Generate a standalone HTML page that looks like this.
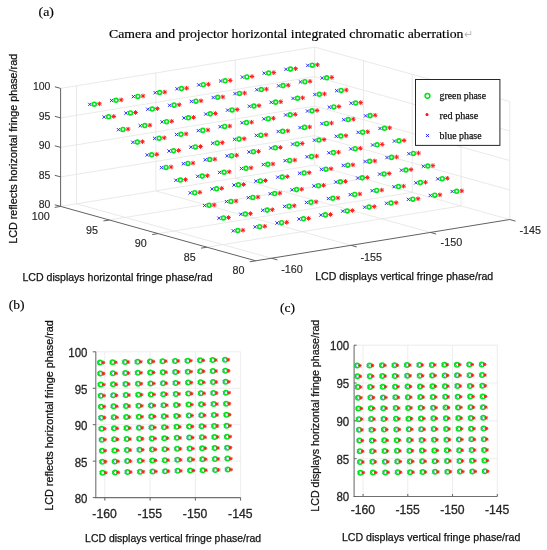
<!DOCTYPE html>
<html><head><meta charset="utf-8"><title>Chromatic aberration figure</title>
<style>html,body{margin:0;padding:0;background:#fff;}svg{display:block;}</style></head>
<body><svg width="547" height="550" viewBox="0 0 547 550">
<rect width="547" height="550" fill="#fff"/>
<text x="38.60" y="15.60" font-size="13" font-family="'Liberation Serif', 'Times New Roman', serif" fill="#000" textLength="15.40" lengthAdjust="spacingAndGlyphs" stroke="#000" stroke-width="0.15">(a)</text>
<text x="109" y="38.1" font-size="13.4" font-family="'Liberation Serif', 'Times New Roman', serif" fill="#000" stroke="#000" stroke-width="0.18" textLength="354.5" lengthAdjust="spacingAndGlyphs">Camera and projector horizontal integrated chromatic aberration</text>
<text x="464.30" y="38.10" font-size="11" font-family="'Liberation Sans', Arial, sans-serif" fill="#bbb">↵</text>
<line x1="271.58" y1="258.22" x2="76.48" y2="203.82" stroke="#e6e6e6" stroke-width="0.9" />
<line x1="350.98" y1="245.32" x2="155.88" y2="190.92" stroke="#e6e6e6" stroke-width="0.9" />
<line x1="430.38" y1="232.42" x2="235.28" y2="178.02" stroke="#e6e6e6" stroke-width="0.9" />
<line x1="509.78" y1="219.52" x2="314.68" y2="165.12" stroke="#e6e6e6" stroke-width="0.9" />
<line x1="206.93" y1="247.20" x2="461.00" y2="205.92" stroke="#e6e6e6" stroke-width="0.9" />
<line x1="158.15" y1="233.60" x2="412.23" y2="192.32" stroke="#e6e6e6" stroke-width="0.9" />
<line x1="109.38" y1="220.00" x2="363.46" y2="178.72" stroke="#e6e6e6" stroke-width="0.9" />
<line x1="60.60" y1="206.40" x2="314.68" y2="165.12" stroke="#e6e6e6" stroke-width="0.9" />
<line x1="76.48" y1="203.82" x2="76.48" y2="85.82" stroke="#e6e6e6" stroke-width="0.9" />
<line x1="155.88" y1="190.92" x2="155.88" y2="72.92" stroke="#e6e6e6" stroke-width="0.9" />
<line x1="235.28" y1="178.02" x2="235.28" y2="60.02" stroke="#e6e6e6" stroke-width="0.9" />
<line x1="314.68" y1="165.12" x2="314.68" y2="47.12" stroke="#e6e6e6" stroke-width="0.9" />
<line x1="60.60" y1="176.90" x2="314.68" y2="135.62" stroke="#e6e6e6" stroke-width="0.9" />
<line x1="60.60" y1="147.40" x2="314.68" y2="106.12" stroke="#e6e6e6" stroke-width="0.9" />
<line x1="60.60" y1="117.90" x2="314.68" y2="76.62" stroke="#e6e6e6" stroke-width="0.9" />
<line x1="60.60" y1="88.40" x2="314.68" y2="47.12" stroke="#e6e6e6" stroke-width="0.9" />
<line x1="509.78" y1="219.52" x2="509.78" y2="101.52" stroke="#e6e6e6" stroke-width="0.9" />
<line x1="461.00" y1="205.92" x2="461.00" y2="87.92" stroke="#e6e6e6" stroke-width="0.9" />
<line x1="412.23" y1="192.32" x2="412.23" y2="74.32" stroke="#e6e6e6" stroke-width="0.9" />
<line x1="363.46" y1="178.72" x2="363.46" y2="60.72" stroke="#e6e6e6" stroke-width="0.9" />
<line x1="509.78" y1="190.02" x2="314.68" y2="135.62" stroke="#e6e6e6" stroke-width="0.9" />
<line x1="509.78" y1="160.52" x2="314.68" y2="106.12" stroke="#e6e6e6" stroke-width="0.9" />
<line x1="509.78" y1="131.02" x2="314.68" y2="76.62" stroke="#e6e6e6" stroke-width="0.9" />
<line x1="509.78" y1="101.52" x2="314.68" y2="47.12" stroke="#e6e6e6" stroke-width="0.9" />
<line x1="60.60" y1="206.40" x2="60.60" y2="88.40" stroke="#626262" stroke-width="1.0" />
<line x1="60.60" y1="206.40" x2="255.70" y2="260.80" stroke="#626262" stroke-width="1.0" />
<line x1="255.70" y1="260.80" x2="509.78" y2="219.52" stroke="#626262" stroke-width="1.0" />
<line x1="60.60" y1="206.40" x2="54.82" y2="204.79" stroke="#626262" stroke-width="1.0" />
<line x1="60.60" y1="176.90" x2="54.82" y2="175.29" stroke="#626262" stroke-width="1.0" />
<line x1="60.60" y1="147.40" x2="54.82" y2="145.79" stroke="#626262" stroke-width="1.0" />
<line x1="60.60" y1="117.90" x2="54.82" y2="116.29" stroke="#626262" stroke-width="1.0" />
<line x1="60.60" y1="88.40" x2="54.82" y2="86.79" stroke="#626262" stroke-width="1.0" />
<line x1="255.70" y1="260.80" x2="249.78" y2="261.76" stroke="#626262" stroke-width="1.0" />
<line x1="206.93" y1="247.20" x2="201.00" y2="248.16" stroke="#626262" stroke-width="1.0" />
<line x1="158.15" y1="233.60" x2="152.23" y2="234.56" stroke="#626262" stroke-width="1.0" />
<line x1="109.38" y1="220.00" x2="103.45" y2="220.96" stroke="#626262" stroke-width="1.0" />
<line x1="60.60" y1="206.40" x2="54.68" y2="207.36" stroke="#626262" stroke-width="1.0" />
<line x1="271.58" y1="258.22" x2="277.36" y2="259.83" stroke="#626262" stroke-width="1.0" />
<line x1="350.98" y1="245.32" x2="356.76" y2="246.93" stroke="#626262" stroke-width="1.0" />
<line x1="430.38" y1="232.42" x2="436.16" y2="234.03" stroke="#626262" stroke-width="1.0" />
<line x1="509.78" y1="219.52" x2="515.56" y2="221.13" stroke="#626262" stroke-width="1.0" />
<text x="50.30" y="90.35" font-size="11.6" font-family="'Liberation Sans', Arial, sans-serif" fill="#262626" text-anchor="end" textLength="17.41" lengthAdjust="spacingAndGlyphs" stroke="#262626" stroke-width="0.15">100</text>
<text x="50.30" y="119.85" font-size="11.6" font-family="'Liberation Sans', Arial, sans-serif" fill="#262626" text-anchor="end" textLength="11.61" lengthAdjust="spacingAndGlyphs" stroke="#262626" stroke-width="0.15">95</text>
<text x="50.30" y="149.35" font-size="11.6" font-family="'Liberation Sans', Arial, sans-serif" fill="#262626" text-anchor="end" textLength="11.61" lengthAdjust="spacingAndGlyphs" stroke="#262626" stroke-width="0.15">90</text>
<text x="50.30" y="178.85" font-size="11.6" font-family="'Liberation Sans', Arial, sans-serif" fill="#262626" text-anchor="end" textLength="11.61" lengthAdjust="spacingAndGlyphs" stroke="#262626" stroke-width="0.15">85</text>
<text x="50.30" y="208.35" font-size="11.6" font-family="'Liberation Sans', Arial, sans-serif" fill="#262626" text-anchor="end" textLength="11.61" lengthAdjust="spacingAndGlyphs" stroke="#262626" stroke-width="0.15">80</text>
<text x="40.70" y="219.90" font-size="11.6" font-family="'Liberation Sans', Arial, sans-serif" fill="#262626" text-anchor="middle" textLength="17.99" lengthAdjust="spacingAndGlyphs" stroke="#262626" stroke-width="0.15">100</text>
<text x="91.90" y="233.95" font-size="11.6" font-family="'Liberation Sans', Arial, sans-serif" fill="#262626" text-anchor="middle" textLength="12.00" lengthAdjust="spacingAndGlyphs" stroke="#262626" stroke-width="0.15">95</text>
<text x="140.85" y="247.20" font-size="11.6" font-family="'Liberation Sans', Arial, sans-serif" fill="#262626" text-anchor="middle" textLength="12.00" lengthAdjust="spacingAndGlyphs" stroke="#262626" stroke-width="0.15">90</text>
<text x="189.65" y="260.50" font-size="11.6" font-family="'Liberation Sans', Arial, sans-serif" fill="#262626" text-anchor="middle" textLength="12.00" lengthAdjust="spacingAndGlyphs" stroke="#262626" stroke-width="0.15">85</text>
<text x="238.60" y="274.20" font-size="11.6" font-family="'Liberation Sans', Arial, sans-serif" fill="#262626" text-anchor="middle" textLength="12.00" lengthAdjust="spacingAndGlyphs" stroke="#262626" stroke-width="0.15">80</text>
<text x="292.00" y="272.65" font-size="11.6" font-family="'Liberation Sans', Arial, sans-serif" fill="#262626" text-anchor="middle" textLength="21.59" lengthAdjust="spacingAndGlyphs" stroke="#262626" stroke-width="0.15">-160</text>
<text x="371.25" y="260.75" font-size="11.6" font-family="'Liberation Sans', Arial, sans-serif" fill="#262626" text-anchor="middle" textLength="21.59" lengthAdjust="spacingAndGlyphs" stroke="#262626" stroke-width="0.15">-155</text>
<text x="451.35" y="246.40" font-size="11.6" font-family="'Liberation Sans', Arial, sans-serif" fill="#262626" text-anchor="middle" textLength="21.59" lengthAdjust="spacingAndGlyphs" stroke="#262626" stroke-width="0.15">-150</text>
<text x="530.30" y="233.95" font-size="11.6" font-family="'Liberation Sans', Arial, sans-serif" fill="#262626" text-anchor="middle" textLength="21.59" lengthAdjust="spacingAndGlyphs" stroke="#262626" stroke-width="0.15">-145</text>
<text x="17.30" y="243.80" font-size="10.8" font-family="'Liberation Sans', Arial, sans-serif" fill="#111" textLength="190.00" lengthAdjust="spacingAndGlyphs" transform="rotate(-90 17.30 243.80)" stroke="#111" stroke-width="0.25">LCD reflects horizontal fringe phase/rad</text>
<text x="22.50" y="280.90" font-size="10.8" font-family="'Liberation Sans', Arial, sans-serif" fill="#111" textLength="190.00" lengthAdjust="spacingAndGlyphs" stroke="#111" stroke-width="0.25">LCD displays horizontal fringe phase/rad</text>
<text x="315.20" y="279.70" font-size="10.8" font-family="'Liberation Sans', Arial, sans-serif" fill="#111" textLength="178.00" lengthAdjust="spacingAndGlyphs" stroke="#111" stroke-width="0.25">LCD displays vertical fringe phase/rad</text>
<path d="M88.15 102.75L91.45 106.05M88.15 106.05L91.45 102.75" stroke="#1a1aff" stroke-width="0.9" fill="none"/>
<path d="M97.10 103.80L101.70 103.80M99.40 101.50L99.40 106.10M97.74 102.14L101.06 105.46M97.74 105.46L101.06 102.14" stroke="#ff1a1a" stroke-width="1.0" fill="none"/>
<circle cx="94.30" cy="104.20" r="1.95" fill="none" stroke="#00e41c" stroke-width="1.65"/>
<path d="M109.95 98.85L113.25 102.15M109.95 102.15L113.25 98.85" stroke="#1a1aff" stroke-width="0.9" fill="none"/>
<path d="M118.90 99.90L123.50 99.90M121.20 97.60L121.20 102.20M119.54 98.24L122.86 101.56M119.54 101.56L122.86 98.24" stroke="#ff1a1a" stroke-width="1.0" fill="none"/>
<circle cx="116.10" cy="100.30" r="1.95" fill="none" stroke="#00e41c" stroke-width="1.65"/>
<path d="M131.75 94.95L135.05 98.25M131.75 98.25L135.05 94.95" stroke="#1a1aff" stroke-width="0.9" fill="none"/>
<path d="M140.70 96.00L145.30 96.00M143.00 93.70L143.00 98.30M141.34 94.34L144.66 97.66M141.34 97.66L144.66 94.34" stroke="#ff1a1a" stroke-width="1.0" fill="none"/>
<circle cx="137.90" cy="96.40" r="1.95" fill="none" stroke="#00e41c" stroke-width="1.65"/>
<path d="M153.55 91.05L156.85 94.35M153.55 94.35L156.85 91.05" stroke="#1a1aff" stroke-width="0.9" fill="none"/>
<path d="M162.50 92.10L167.10 92.10M164.80 89.80L164.80 94.40M163.14 90.44L166.46 93.76M163.14 93.76L166.46 90.44" stroke="#ff1a1a" stroke-width="1.0" fill="none"/>
<circle cx="159.70" cy="92.50" r="1.95" fill="none" stroke="#00e41c" stroke-width="1.65"/>
<path d="M175.35 87.15L178.65 90.45M175.35 90.45L178.65 87.15" stroke="#1a1aff" stroke-width="0.9" fill="none"/>
<path d="M184.30 88.20L188.90 88.20M186.60 85.90L186.60 90.50M184.94 86.54L188.26 89.86M184.94 89.86L188.26 86.54" stroke="#ff1a1a" stroke-width="1.0" fill="none"/>
<circle cx="181.50" cy="88.60" r="1.95" fill="none" stroke="#00e41c" stroke-width="1.65"/>
<path d="M197.15 83.25L200.45 86.55M197.15 86.55L200.45 83.25" stroke="#1a1aff" stroke-width="0.9" fill="none"/>
<path d="M206.10 84.30L210.70 84.30M208.40 82.00L208.40 86.60M206.74 82.64L210.06 85.96M206.74 85.96L210.06 82.64" stroke="#ff1a1a" stroke-width="1.0" fill="none"/>
<circle cx="203.30" cy="84.70" r="1.95" fill="none" stroke="#00e41c" stroke-width="1.65"/>
<path d="M218.95 79.35L222.25 82.65M218.95 82.65L222.25 79.35" stroke="#1a1aff" stroke-width="0.9" fill="none"/>
<path d="M227.90 80.40L232.50 80.40M230.20 78.10L230.20 82.70M228.54 78.74L231.86 82.06M228.54 82.06L231.86 78.74" stroke="#ff1a1a" stroke-width="1.0" fill="none"/>
<circle cx="225.10" cy="80.80" r="1.95" fill="none" stroke="#00e41c" stroke-width="1.65"/>
<path d="M240.75 75.45L244.05 78.75M240.75 78.75L244.05 75.45" stroke="#1a1aff" stroke-width="0.9" fill="none"/>
<path d="M249.70 76.50L254.30 76.50M252.00 74.20L252.00 78.80M250.34 74.84L253.66 78.16M250.34 78.16L253.66 74.84" stroke="#ff1a1a" stroke-width="1.0" fill="none"/>
<circle cx="246.90" cy="76.90" r="1.95" fill="none" stroke="#00e41c" stroke-width="1.65"/>
<path d="M262.55 71.55L265.85 74.85M262.55 74.85L265.85 71.55" stroke="#1a1aff" stroke-width="0.9" fill="none"/>
<path d="M271.50 72.60L276.10 72.60M273.80 70.30L273.80 74.90M272.14 70.94L275.46 74.26M272.14 74.26L275.46 70.94" stroke="#ff1a1a" stroke-width="1.0" fill="none"/>
<circle cx="268.70" cy="73.00" r="1.95" fill="none" stroke="#00e41c" stroke-width="1.65"/>
<path d="M284.35 67.65L287.65 70.95M284.35 70.95L287.65 67.65" stroke="#1a1aff" stroke-width="0.9" fill="none"/>
<path d="M293.30 68.70L297.90 68.70M295.60 66.40L295.60 71.00M293.94 67.04L297.26 70.36M293.94 70.36L297.26 67.04" stroke="#ff1a1a" stroke-width="1.0" fill="none"/>
<circle cx="290.50" cy="69.10" r="1.95" fill="none" stroke="#00e41c" stroke-width="1.65"/>
<path d="M306.15 63.75L309.45 67.05M306.15 67.05L309.45 63.75" stroke="#1a1aff" stroke-width="0.9" fill="none"/>
<path d="M315.10 64.80L319.70 64.80M317.40 62.50L317.40 67.10M315.74 63.14L319.06 66.46M315.74 66.46L319.06 63.14" stroke="#ff1a1a" stroke-width="1.0" fill="none"/>
<circle cx="312.30" cy="65.20" r="1.95" fill="none" stroke="#00e41c" stroke-width="1.65"/>
<path d="M102.50 115.39L105.80 118.69M102.50 118.69L105.80 115.39" stroke="#1a1aff" stroke-width="0.9" fill="none"/>
<path d="M111.45 116.44L116.05 116.44M113.75 114.14L113.75 118.74M112.09 114.78L115.41 118.10M112.09 118.10L115.41 114.78" stroke="#ff1a1a" stroke-width="1.0" fill="none"/>
<circle cx="108.65" cy="116.84" r="1.95" fill="none" stroke="#00e41c" stroke-width="1.65"/>
<path d="M124.31 111.49L127.61 114.79M124.31 114.79L127.61 111.49" stroke="#1a1aff" stroke-width="0.9" fill="none"/>
<path d="M133.26 112.54L137.86 112.54M135.56 110.24L135.56 114.84M133.90 110.88L137.22 114.19M133.90 114.19L137.22 110.88" stroke="#ff1a1a" stroke-width="1.0" fill="none"/>
<circle cx="130.46" cy="112.94" r="1.95" fill="none" stroke="#00e41c" stroke-width="1.65"/>
<path d="M146.12 107.58L149.42 110.88M146.12 110.88L149.42 107.58" stroke="#1a1aff" stroke-width="0.9" fill="none"/>
<path d="M155.07 108.63L159.67 108.63M157.37 106.33L157.37 110.93M155.71 106.98L159.02 110.29M155.71 110.29L159.02 106.98" stroke="#ff1a1a" stroke-width="1.0" fill="none"/>
<circle cx="152.27" cy="109.03" r="1.95" fill="none" stroke="#00e41c" stroke-width="1.65"/>
<path d="M167.93 103.68L171.23 106.98M167.93 106.98L171.23 103.68" stroke="#1a1aff" stroke-width="0.9" fill="none"/>
<path d="M176.88 104.73L181.48 104.73M179.18 102.43L179.18 107.03M177.52 103.07L180.83 106.39M177.52 106.39L180.83 103.07" stroke="#ff1a1a" stroke-width="1.0" fill="none"/>
<circle cx="174.08" cy="105.13" r="1.95" fill="none" stroke="#00e41c" stroke-width="1.65"/>
<path d="M189.74 99.78L193.04 103.08M189.74 103.08L193.04 99.78" stroke="#1a1aff" stroke-width="0.9" fill="none"/>
<path d="M198.69 100.83L203.29 100.83M200.99 98.53L200.99 103.13M199.33 99.17L202.64 102.48M199.33 102.48L202.64 99.17" stroke="#ff1a1a" stroke-width="1.0" fill="none"/>
<circle cx="195.89" cy="101.23" r="1.95" fill="none" stroke="#00e41c" stroke-width="1.65"/>
<path d="M211.55 95.88L214.85 99.18M211.55 99.18L214.85 95.88" stroke="#1a1aff" stroke-width="0.9" fill="none"/>
<path d="M220.50 96.92L225.10 96.92M222.80 94.62L222.80 99.22M221.14 95.27L224.45 98.58M221.14 98.58L224.45 95.27" stroke="#ff1a1a" stroke-width="1.0" fill="none"/>
<circle cx="217.70" cy="97.33" r="1.95" fill="none" stroke="#00e41c" stroke-width="1.65"/>
<path d="M233.35 91.97L236.65 95.27M233.35 95.27L236.65 91.97" stroke="#1a1aff" stroke-width="0.9" fill="none"/>
<path d="M242.30 93.02L246.90 93.02M244.60 90.72L244.60 95.32M242.95 91.37L246.26 94.68M242.95 94.68L246.26 91.37" stroke="#ff1a1a" stroke-width="1.0" fill="none"/>
<circle cx="239.50" cy="93.42" r="1.95" fill="none" stroke="#00e41c" stroke-width="1.65"/>
<path d="M255.16 88.07L258.46 91.37M255.16 91.37L258.46 88.07" stroke="#1a1aff" stroke-width="0.9" fill="none"/>
<path d="M264.11 89.12L268.71 89.12M266.41 86.82L266.41 91.42M264.76 87.46L268.07 90.78M264.76 90.78L268.07 87.46" stroke="#ff1a1a" stroke-width="1.0" fill="none"/>
<circle cx="261.31" cy="89.52" r="1.95" fill="none" stroke="#00e41c" stroke-width="1.65"/>
<path d="M276.97 84.17L280.27 87.47M276.97 87.47L280.27 84.17" stroke="#1a1aff" stroke-width="0.9" fill="none"/>
<path d="M285.92 85.22L290.52 85.22M288.22 82.92L288.22 87.52M286.57 83.56L289.88 86.87M286.57 86.87L289.88 83.56" stroke="#ff1a1a" stroke-width="1.0" fill="none"/>
<circle cx="283.12" cy="85.62" r="1.95" fill="none" stroke="#00e41c" stroke-width="1.65"/>
<path d="M298.78 80.26L302.08 83.56M298.78 83.56L302.08 80.26" stroke="#1a1aff" stroke-width="0.9" fill="none"/>
<path d="M307.73 81.31L312.33 81.31M310.03 79.01L310.03 83.61M308.38 79.66L311.69 82.97M308.38 82.97L311.69 79.66" stroke="#ff1a1a" stroke-width="1.0" fill="none"/>
<circle cx="304.93" cy="81.71" r="1.95" fill="none" stroke="#00e41c" stroke-width="1.65"/>
<path d="M320.59 76.36L323.89 79.66M320.59 79.66L323.89 76.36" stroke="#1a1aff" stroke-width="0.9" fill="none"/>
<path d="M329.54 77.41L334.14 77.41M331.84 75.11L331.84 79.71M330.18 75.75L333.50 79.07M330.18 79.07L333.50 75.75" stroke="#ff1a1a" stroke-width="1.0" fill="none"/>
<circle cx="326.74" cy="77.81" r="1.95" fill="none" stroke="#00e41c" stroke-width="1.65"/>
<path d="M116.85 128.03L120.15 131.33M116.85 131.33L120.15 128.03" stroke="#1a1aff" stroke-width="0.9" fill="none"/>
<path d="M125.80 129.08L130.40 129.08M128.10 126.78L128.10 131.38M126.44 127.42L129.76 130.74M126.44 130.74L129.76 127.42" stroke="#ff1a1a" stroke-width="1.0" fill="none"/>
<circle cx="123.00" cy="129.48" r="1.95" fill="none" stroke="#00e41c" stroke-width="1.65"/>
<path d="M138.67 124.12L141.97 127.42M138.67 127.42L141.97 124.12" stroke="#1a1aff" stroke-width="0.9" fill="none"/>
<path d="M147.62 125.17L152.22 125.17M149.92 122.87L149.92 127.47M148.26 123.52L151.57 126.83M148.26 126.83L151.57 123.52" stroke="#ff1a1a" stroke-width="1.0" fill="none"/>
<circle cx="144.82" cy="125.57" r="1.95" fill="none" stroke="#00e41c" stroke-width="1.65"/>
<path d="M160.49 120.22L163.79 123.52M160.49 123.52L163.79 120.22" stroke="#1a1aff" stroke-width="0.9" fill="none"/>
<path d="M169.44 121.27L174.04 121.27M171.74 118.97L171.74 123.57M170.08 119.61L173.39 122.92M170.08 122.92L173.39 119.61" stroke="#ff1a1a" stroke-width="1.0" fill="none"/>
<circle cx="166.64" cy="121.67" r="1.95" fill="none" stroke="#00e41c" stroke-width="1.65"/>
<path d="M182.30 116.31L185.60 119.61M182.30 119.61L185.60 116.31" stroke="#1a1aff" stroke-width="0.9" fill="none"/>
<path d="M191.25 117.36L195.85 117.36M193.55 115.06L193.55 119.66M191.90 115.71L195.21 119.02M191.90 119.02L195.21 115.71" stroke="#ff1a1a" stroke-width="1.0" fill="none"/>
<circle cx="188.45" cy="117.76" r="1.95" fill="none" stroke="#00e41c" stroke-width="1.65"/>
<path d="M204.12 112.41L207.42 115.71M204.12 115.71L207.42 112.41" stroke="#1a1aff" stroke-width="0.9" fill="none"/>
<path d="M213.07 113.46L217.67 113.46M215.37 111.16L215.37 115.76M213.72 111.80L217.03 115.11M213.72 115.11L217.03 111.80" stroke="#ff1a1a" stroke-width="1.0" fill="none"/>
<circle cx="210.27" cy="113.86" r="1.95" fill="none" stroke="#00e41c" stroke-width="1.65"/>
<path d="M225.94 108.50L229.24 111.80M225.94 111.80L229.24 108.50" stroke="#1a1aff" stroke-width="0.9" fill="none"/>
<path d="M234.89 109.55L239.49 109.55M237.19 107.25L237.19 111.85M235.53 107.89L238.85 111.21M235.53 111.21L238.85 107.89" stroke="#ff1a1a" stroke-width="1.0" fill="none"/>
<circle cx="232.09" cy="109.95" r="1.95" fill="none" stroke="#00e41c" stroke-width="1.65"/>
<path d="M247.76 104.59L251.06 107.89M247.76 107.89L251.06 104.59" stroke="#1a1aff" stroke-width="0.9" fill="none"/>
<path d="M256.71 105.64L261.31 105.64M259.01 103.34L259.01 107.94M257.35 103.99L260.66 107.30M257.35 107.30L260.66 103.99" stroke="#ff1a1a" stroke-width="1.0" fill="none"/>
<circle cx="253.91" cy="106.04" r="1.95" fill="none" stroke="#00e41c" stroke-width="1.65"/>
<path d="M269.58 100.69L272.88 103.99M269.58 103.99L272.88 100.69" stroke="#1a1aff" stroke-width="0.9" fill="none"/>
<path d="M278.53 101.74L283.13 101.74M280.83 99.44L280.83 104.04M279.17 100.08L282.48 103.39M279.17 103.39L282.48 100.08" stroke="#ff1a1a" stroke-width="1.0" fill="none"/>
<circle cx="275.73" cy="102.14" r="1.95" fill="none" stroke="#00e41c" stroke-width="1.65"/>
<path d="M291.39 96.78L294.69 100.08M291.39 100.08L294.69 96.78" stroke="#1a1aff" stroke-width="0.9" fill="none"/>
<path d="M300.34 97.83L304.94 97.83M302.64 95.53L302.64 100.13M300.99 96.18L304.30 99.49M300.99 99.49L304.30 96.18" stroke="#ff1a1a" stroke-width="1.0" fill="none"/>
<circle cx="297.54" cy="98.23" r="1.95" fill="none" stroke="#00e41c" stroke-width="1.65"/>
<path d="M313.21 92.88L316.51 96.18M313.21 96.18L316.51 92.88" stroke="#1a1aff" stroke-width="0.9" fill="none"/>
<path d="M322.16 93.93L326.76 93.93M324.46 91.63L324.46 96.23M322.81 92.27L326.12 95.58M322.81 95.58L326.12 92.27" stroke="#ff1a1a" stroke-width="1.0" fill="none"/>
<circle cx="319.36" cy="94.33" r="1.95" fill="none" stroke="#00e41c" stroke-width="1.65"/>
<path d="M335.03 88.97L338.33 92.27M335.03 92.27L338.33 88.97" stroke="#1a1aff" stroke-width="0.9" fill="none"/>
<path d="M343.98 90.02L348.58 90.02M346.28 87.72L346.28 92.32M344.62 88.36L347.94 91.68M344.62 91.68L347.94 88.36" stroke="#ff1a1a" stroke-width="1.0" fill="none"/>
<circle cx="341.18" cy="90.42" r="1.95" fill="none" stroke="#00e41c" stroke-width="1.65"/>
<path d="M131.20 140.67L134.50 143.97M131.20 143.97L134.50 140.67" stroke="#1a1aff" stroke-width="0.9" fill="none"/>
<path d="M140.15 141.72L144.75 141.72M142.45 139.42L142.45 144.02M140.79 140.06L144.11 143.38M140.79 143.38L144.11 140.06" stroke="#ff1a1a" stroke-width="1.0" fill="none"/>
<circle cx="137.35" cy="142.12" r="1.95" fill="none" stroke="#00e41c" stroke-width="1.65"/>
<path d="M153.03 136.76L156.33 140.06M153.03 140.06L156.33 136.76" stroke="#1a1aff" stroke-width="0.9" fill="none"/>
<path d="M161.98 137.81L166.58 137.81M164.28 135.51L164.28 140.11M162.62 136.16L165.93 139.47M162.62 139.47L165.93 136.16" stroke="#ff1a1a" stroke-width="1.0" fill="none"/>
<circle cx="159.18" cy="138.21" r="1.95" fill="none" stroke="#00e41c" stroke-width="1.65"/>
<path d="M174.85 132.85L178.15 136.15M174.85 136.15L178.15 132.85" stroke="#1a1aff" stroke-width="0.9" fill="none"/>
<path d="M183.80 133.90L188.40 133.90M186.10 131.60L186.10 136.20M184.45 132.25L187.76 135.56M184.45 135.56L187.76 132.25" stroke="#ff1a1a" stroke-width="1.0" fill="none"/>
<circle cx="181.00" cy="134.30" r="1.95" fill="none" stroke="#00e41c" stroke-width="1.65"/>
<path d="M196.68 128.94L199.98 132.24M196.68 132.24L199.98 128.94" stroke="#1a1aff" stroke-width="0.9" fill="none"/>
<path d="M205.63 129.99L210.23 129.99M207.93 127.69L207.93 132.29M206.28 128.34L209.59 131.65M206.28 131.65L209.59 128.34" stroke="#ff1a1a" stroke-width="1.0" fill="none"/>
<circle cx="202.83" cy="130.39" r="1.95" fill="none" stroke="#00e41c" stroke-width="1.65"/>
<path d="M218.51 125.03L221.81 128.33M218.51 128.33L221.81 125.03" stroke="#1a1aff" stroke-width="0.9" fill="none"/>
<path d="M227.46 126.08L232.06 126.08M229.76 123.78L229.76 128.38M228.10 124.43L231.41 127.74M228.10 127.74L231.41 124.43" stroke="#ff1a1a" stroke-width="1.0" fill="none"/>
<circle cx="224.66" cy="126.48" r="1.95" fill="none" stroke="#00e41c" stroke-width="1.65"/>
<path d="M240.34 121.12L243.64 124.42M240.34 124.42L243.64 121.12" stroke="#1a1aff" stroke-width="0.9" fill="none"/>
<path d="M249.28 122.17L253.89 122.17M251.59 119.87L251.59 124.47M249.93 120.52L253.24 123.83M249.93 123.83L253.24 120.52" stroke="#ff1a1a" stroke-width="1.0" fill="none"/>
<circle cx="246.49" cy="122.57" r="1.95" fill="none" stroke="#00e41c" stroke-width="1.65"/>
<path d="M262.16 117.22L265.46 120.52M262.16 120.52L265.46 117.22" stroke="#1a1aff" stroke-width="0.9" fill="none"/>
<path d="M271.11 118.27L275.71 118.27M273.41 115.97L273.41 120.57M271.76 116.61L275.07 119.92M271.76 119.92L275.07 116.61" stroke="#ff1a1a" stroke-width="1.0" fill="none"/>
<circle cx="268.31" cy="118.67" r="1.95" fill="none" stroke="#00e41c" stroke-width="1.65"/>
<path d="M283.99 113.31L287.29 116.61M283.99 116.61L287.29 113.31" stroke="#1a1aff" stroke-width="0.9" fill="none"/>
<path d="M292.94 114.36L297.54 114.36M295.24 112.06L295.24 116.66M293.58 112.70L296.90 116.01M293.58 116.01L296.90 112.70" stroke="#ff1a1a" stroke-width="1.0" fill="none"/>
<circle cx="290.14" cy="114.76" r="1.95" fill="none" stroke="#00e41c" stroke-width="1.65"/>
<path d="M305.82 109.40L309.12 112.70M305.82 112.70L309.12 109.40" stroke="#1a1aff" stroke-width="0.9" fill="none"/>
<path d="M314.77 110.45L319.37 110.45M317.07 108.15L317.07 112.75M315.41 108.79L318.72 112.10M315.41 112.10L318.72 108.79" stroke="#ff1a1a" stroke-width="1.0" fill="none"/>
<circle cx="311.97" cy="110.85" r="1.95" fill="none" stroke="#00e41c" stroke-width="1.65"/>
<path d="M327.64 105.49L330.94 108.79M327.64 108.79L330.94 105.49" stroke="#1a1aff" stroke-width="0.9" fill="none"/>
<path d="M336.59 106.54L341.19 106.54M338.89 104.24L338.89 108.84M337.24 104.88L340.55 108.19M337.24 108.19L340.55 104.88" stroke="#ff1a1a" stroke-width="1.0" fill="none"/>
<circle cx="333.79" cy="106.94" r="1.95" fill="none" stroke="#00e41c" stroke-width="1.65"/>
<path d="M349.47 101.58L352.77 104.88M349.47 104.88L352.77 101.58" stroke="#1a1aff" stroke-width="0.9" fill="none"/>
<path d="M358.42 102.63L363.02 102.63M360.72 100.33L360.72 104.93M359.06 100.97L362.38 104.29M359.06 104.29L362.38 100.97" stroke="#ff1a1a" stroke-width="1.0" fill="none"/>
<circle cx="355.62" cy="103.03" r="1.95" fill="none" stroke="#00e41c" stroke-width="1.65"/>
<path d="M145.55 153.31L148.85 156.61M145.55 156.61L148.85 153.31" stroke="#1a1aff" stroke-width="0.9" fill="none"/>
<path d="M154.50 154.36L159.10 154.36M156.80 152.06L156.80 156.66M155.14 152.70L158.46 156.02M155.14 156.02L158.46 152.70" stroke="#ff1a1a" stroke-width="1.0" fill="none"/>
<circle cx="151.70" cy="154.76" r="1.95" fill="none" stroke="#00e41c" stroke-width="1.65"/>
<path d="M167.39 149.40L170.69 152.70M167.39 152.70L170.69 149.40" stroke="#1a1aff" stroke-width="0.9" fill="none"/>
<path d="M176.34 150.45L180.94 150.45M178.64 148.15L178.64 152.75M176.98 148.79L180.29 152.10M176.98 152.10L180.29 148.79" stroke="#ff1a1a" stroke-width="1.0" fill="none"/>
<circle cx="173.54" cy="150.85" r="1.95" fill="none" stroke="#00e41c" stroke-width="1.65"/>
<path d="M189.22 145.49L192.52 148.79M189.22 148.79L192.52 145.49" stroke="#1a1aff" stroke-width="0.9" fill="none"/>
<path d="M198.17 146.54L202.77 146.54M200.47 144.24L200.47 148.84M198.82 144.88L202.13 148.19M198.82 148.19L202.13 144.88" stroke="#ff1a1a" stroke-width="1.0" fill="none"/>
<circle cx="195.37" cy="146.94" r="1.95" fill="none" stroke="#00e41c" stroke-width="1.65"/>
<path d="M211.06 141.57L214.36 144.87M211.06 144.87L214.36 141.57" stroke="#1a1aff" stroke-width="0.9" fill="none"/>
<path d="M220.01 142.62L224.61 142.62M222.31 140.32L222.31 144.92M220.65 140.97L223.96 144.28M220.65 144.28L223.96 140.97" stroke="#ff1a1a" stroke-width="1.0" fill="none"/>
<circle cx="217.21" cy="143.02" r="1.95" fill="none" stroke="#00e41c" stroke-width="1.65"/>
<path d="M232.89 137.66L236.19 140.96M232.89 140.96L236.19 137.66" stroke="#1a1aff" stroke-width="0.9" fill="none"/>
<path d="M241.84 138.71L246.44 138.71M244.14 136.41L244.14 141.01M242.49 137.06L245.80 140.37M242.49 140.37L245.80 137.06" stroke="#ff1a1a" stroke-width="1.0" fill="none"/>
<circle cx="239.04" cy="139.11" r="1.95" fill="none" stroke="#00e41c" stroke-width="1.65"/>
<path d="M254.73 133.75L258.03 137.05M254.73 137.05L258.03 133.75" stroke="#1a1aff" stroke-width="0.9" fill="none"/>
<path d="M263.68 134.80L268.28 134.80M265.98 132.50L265.98 137.10M264.32 133.14L267.64 136.46M264.32 136.46L267.64 133.14" stroke="#ff1a1a" stroke-width="1.0" fill="none"/>
<circle cx="260.88" cy="135.20" r="1.95" fill="none" stroke="#00e41c" stroke-width="1.65"/>
<path d="M276.57 129.84L279.87 133.14M276.57 133.14L279.87 129.84" stroke="#1a1aff" stroke-width="0.9" fill="none"/>
<path d="M285.52 130.89L290.12 130.89M287.82 128.59L287.82 133.19M286.16 129.23L289.47 132.54M286.16 132.54L289.47 129.23" stroke="#ff1a1a" stroke-width="1.0" fill="none"/>
<circle cx="282.72" cy="131.29" r="1.95" fill="none" stroke="#00e41c" stroke-width="1.65"/>
<path d="M298.40 125.93L301.70 129.23M298.40 129.23L301.70 125.93" stroke="#1a1aff" stroke-width="0.9" fill="none"/>
<path d="M307.35 126.98L311.95 126.98M309.65 124.68L309.65 129.28M308.00 125.32L311.31 128.63M308.00 128.63L311.31 125.32" stroke="#ff1a1a" stroke-width="1.0" fill="none"/>
<circle cx="304.55" cy="127.38" r="1.95" fill="none" stroke="#00e41c" stroke-width="1.65"/>
<path d="M320.24 122.01L323.54 125.31M320.24 125.31L323.54 122.01" stroke="#1a1aff" stroke-width="0.9" fill="none"/>
<path d="M329.19 123.06L333.79 123.06M331.49 120.76L331.49 125.36M329.83 121.41L333.14 124.72M329.83 124.72L333.14 121.41" stroke="#ff1a1a" stroke-width="1.0" fill="none"/>
<circle cx="326.39" cy="123.46" r="1.95" fill="none" stroke="#00e41c" stroke-width="1.65"/>
<path d="M342.07 118.10L345.37 121.40M342.07 121.40L345.37 118.10" stroke="#1a1aff" stroke-width="0.9" fill="none"/>
<path d="M351.02 119.15L355.62 119.15M353.32 116.85L353.32 121.45M351.67 117.50L354.98 120.81M351.67 120.81L354.98 117.50" stroke="#ff1a1a" stroke-width="1.0" fill="none"/>
<circle cx="348.22" cy="119.55" r="1.95" fill="none" stroke="#00e41c" stroke-width="1.65"/>
<path d="M363.91 114.19L367.21 117.49M363.91 117.49L367.21 114.19" stroke="#1a1aff" stroke-width="0.9" fill="none"/>
<path d="M372.86 115.24L377.46 115.24M375.16 112.94L375.16 117.54M373.50 113.58L376.82 116.90M373.50 116.90L376.82 113.58" stroke="#ff1a1a" stroke-width="1.0" fill="none"/>
<circle cx="370.06" cy="115.64" r="1.95" fill="none" stroke="#00e41c" stroke-width="1.65"/>
<path d="M159.90 165.95L163.20 169.25M159.90 169.25L163.20 165.95" stroke="#1a1aff" stroke-width="0.9" fill="none"/>
<path d="M168.85 167.00L173.45 167.00M171.15 164.70L171.15 169.30M169.49 165.34L172.81 168.66M169.49 168.66L172.81 165.34" stroke="#ff1a1a" stroke-width="1.0" fill="none"/>
<circle cx="166.05" cy="167.40" r="1.95" fill="none" stroke="#00e41c" stroke-width="1.65"/>
<path d="M181.75 162.03L185.05 165.33M181.75 165.33L185.05 162.03" stroke="#1a1aff" stroke-width="0.9" fill="none"/>
<path d="M190.69 163.08L195.30 163.08M193.00 160.78L193.00 165.38M191.34 161.43L194.65 164.74M191.34 164.74L194.65 161.43" stroke="#ff1a1a" stroke-width="1.0" fill="none"/>
<circle cx="187.90" cy="163.48" r="1.95" fill="none" stroke="#00e41c" stroke-width="1.65"/>
<path d="M203.59 158.12L206.89 161.42M203.59 161.42L206.89 158.12" stroke="#1a1aff" stroke-width="0.9" fill="none"/>
<path d="M212.54 159.17L217.14 159.17M214.84 156.87L214.84 161.47M213.18 157.51L216.50 160.83M213.18 160.83L216.50 157.51" stroke="#ff1a1a" stroke-width="1.0" fill="none"/>
<circle cx="209.74" cy="159.57" r="1.95" fill="none" stroke="#00e41c" stroke-width="1.65"/>
<path d="M225.43 154.20L228.73 157.50M225.43 157.50L228.73 154.20" stroke="#1a1aff" stroke-width="0.9" fill="none"/>
<path d="M234.38 155.25L238.98 155.25M236.68 152.95L236.68 157.56M235.03 153.60L238.34 156.91M235.03 156.91L238.34 153.60" stroke="#ff1a1a" stroke-width="1.0" fill="none"/>
<circle cx="231.58" cy="155.66" r="1.95" fill="none" stroke="#00e41c" stroke-width="1.65"/>
<path d="M247.28 150.29L250.58 153.59M247.28 153.59L250.58 150.29" stroke="#1a1aff" stroke-width="0.9" fill="none"/>
<path d="M256.23 151.34L260.83 151.34M258.53 149.04L258.53 153.64M256.87 149.68L260.19 153.00M256.87 153.00L260.19 149.68" stroke="#ff1a1a" stroke-width="1.0" fill="none"/>
<circle cx="253.43" cy="151.74" r="1.95" fill="none" stroke="#00e41c" stroke-width="1.65"/>
<path d="M269.13 146.37L272.43 149.67M269.13 149.67L272.43 146.37" stroke="#1a1aff" stroke-width="0.9" fill="none"/>
<path d="M278.08 147.42L282.68 147.42M280.38 145.12L280.38 149.72M278.72 145.77L282.03 149.08M278.72 149.08L282.03 145.77" stroke="#ff1a1a" stroke-width="1.0" fill="none"/>
<circle cx="275.28" cy="147.82" r="1.95" fill="none" stroke="#00e41c" stroke-width="1.65"/>
<path d="M290.97 142.46L294.27 145.76M290.97 145.76L294.27 142.46" stroke="#1a1aff" stroke-width="0.9" fill="none"/>
<path d="M299.92 143.51L304.52 143.51M302.22 141.21L302.22 145.81M300.56 141.85L303.88 145.17M300.56 145.17L303.88 141.85" stroke="#ff1a1a" stroke-width="1.0" fill="none"/>
<circle cx="297.12" cy="143.91" r="1.95" fill="none" stroke="#00e41c" stroke-width="1.65"/>
<path d="M312.82 138.54L316.12 141.84M312.82 141.84L316.12 138.54" stroke="#1a1aff" stroke-width="0.9" fill="none"/>
<path d="M321.77 139.59L326.37 139.59M324.07 137.29L324.07 141.90M322.41 137.94L325.72 141.25M322.41 141.25L325.72 137.94" stroke="#ff1a1a" stroke-width="1.0" fill="none"/>
<circle cx="318.97" cy="140.00" r="1.95" fill="none" stroke="#00e41c" stroke-width="1.65"/>
<path d="M334.66 134.63L337.96 137.93M334.66 137.93L337.96 134.63" stroke="#1a1aff" stroke-width="0.9" fill="none"/>
<path d="M343.61 135.68L348.21 135.68M345.91 133.38L345.91 137.98M344.25 134.02L347.57 137.34M344.25 137.34L347.57 134.02" stroke="#ff1a1a" stroke-width="1.0" fill="none"/>
<circle cx="340.81" cy="136.08" r="1.95" fill="none" stroke="#00e41c" stroke-width="1.65"/>
<path d="M356.50 130.72L359.80 134.02M356.50 134.02L359.80 130.72" stroke="#1a1aff" stroke-width="0.9" fill="none"/>
<path d="M365.45 131.77L370.06 131.77M367.75 129.47L367.75 134.07M366.10 130.11L369.41 133.42M366.10 133.42L369.41 130.11" stroke="#ff1a1a" stroke-width="1.0" fill="none"/>
<circle cx="362.65" cy="132.17" r="1.95" fill="none" stroke="#00e41c" stroke-width="1.65"/>
<path d="M378.35 126.80L381.65 130.10M378.35 130.10L381.65 126.80" stroke="#1a1aff" stroke-width="0.9" fill="none"/>
<path d="M387.30 127.85L391.90 127.85M389.60 125.55L389.60 130.15M387.94 126.19L391.26 129.51M387.94 129.51L391.26 126.19" stroke="#ff1a1a" stroke-width="1.0" fill="none"/>
<circle cx="384.50" cy="128.25" r="1.95" fill="none" stroke="#00e41c" stroke-width="1.65"/>
<path d="M174.25 178.59L177.55 181.89M174.25 181.89L177.55 178.59" stroke="#1a1aff" stroke-width="0.9" fill="none"/>
<path d="M183.20 179.64L187.80 179.64M185.50 177.34L185.50 181.94M183.84 177.98L187.16 181.30M183.84 181.30L187.16 177.98" stroke="#ff1a1a" stroke-width="1.0" fill="none"/>
<circle cx="180.40" cy="180.04" r="1.95" fill="none" stroke="#00e41c" stroke-width="1.65"/>
<path d="M196.10 174.67L199.40 177.97M196.10 177.97L199.40 174.67" stroke="#1a1aff" stroke-width="0.9" fill="none"/>
<path d="M205.05 175.72L209.65 175.72M207.35 173.42L207.35 178.02M205.70 174.07L209.01 177.38M205.70 177.38L209.01 174.07" stroke="#ff1a1a" stroke-width="1.0" fill="none"/>
<circle cx="202.25" cy="176.12" r="1.95" fill="none" stroke="#00e41c" stroke-width="1.65"/>
<path d="M217.96 170.75L221.26 174.05M217.96 174.05L221.26 170.75" stroke="#1a1aff" stroke-width="0.9" fill="none"/>
<path d="M226.91 171.80L231.51 171.80M229.21 169.50L229.21 174.10M227.55 170.15L230.86 173.46M227.55 173.46L230.86 170.15" stroke="#ff1a1a" stroke-width="1.0" fill="none"/>
<circle cx="224.11" cy="172.20" r="1.95" fill="none" stroke="#00e41c" stroke-width="1.65"/>
<path d="M239.81 166.84L243.11 170.14M239.81 170.14L243.11 166.84" stroke="#1a1aff" stroke-width="0.9" fill="none"/>
<path d="M248.76 167.89L253.36 167.89M251.06 165.59L251.06 170.19M249.41 166.23L252.72 169.54M249.41 169.54L252.72 166.23" stroke="#ff1a1a" stroke-width="1.0" fill="none"/>
<circle cx="245.96" cy="168.29" r="1.95" fill="none" stroke="#00e41c" stroke-width="1.65"/>
<path d="M261.67 162.92L264.97 166.22M261.67 166.22L264.97 162.92" stroke="#1a1aff" stroke-width="0.9" fill="none"/>
<path d="M270.62 163.97L275.22 163.97M272.92 161.67L272.92 166.27M271.26 162.31L274.57 165.62M271.26 165.62L274.57 162.31" stroke="#ff1a1a" stroke-width="1.0" fill="none"/>
<circle cx="267.82" cy="164.37" r="1.95" fill="none" stroke="#00e41c" stroke-width="1.65"/>
<path d="M283.52 159.00L286.82 162.30M283.52 162.30L286.82 159.00" stroke="#1a1aff" stroke-width="0.9" fill="none"/>
<path d="M292.47 160.05L297.07 160.05M294.77 157.75L294.77 162.35M293.11 158.39L296.43 161.71M293.11 161.71L296.43 158.39" stroke="#ff1a1a" stroke-width="1.0" fill="none"/>
<circle cx="289.67" cy="160.45" r="1.95" fill="none" stroke="#00e41c" stroke-width="1.65"/>
<path d="M305.37 155.08L308.67 158.38M305.37 158.38L308.67 155.08" stroke="#1a1aff" stroke-width="0.9" fill="none"/>
<path d="M314.32 156.13L318.92 156.13M316.62 153.83L316.62 158.43M314.97 154.48L318.28 157.79M314.97 157.79L318.28 154.48" stroke="#ff1a1a" stroke-width="1.0" fill="none"/>
<circle cx="311.52" cy="156.53" r="1.95" fill="none" stroke="#00e41c" stroke-width="1.65"/>
<path d="M327.23 151.16L330.53 154.46M327.23 154.46L330.53 151.16" stroke="#1a1aff" stroke-width="0.9" fill="none"/>
<path d="M336.18 152.21L340.78 152.21M338.48 149.91L338.48 154.51M336.82 150.56L340.13 153.87M336.82 153.87L340.13 150.56" stroke="#ff1a1a" stroke-width="1.0" fill="none"/>
<circle cx="333.38" cy="152.61" r="1.95" fill="none" stroke="#00e41c" stroke-width="1.65"/>
<path d="M349.08 147.25L352.38 150.55M349.08 150.55L352.38 147.25" stroke="#1a1aff" stroke-width="0.9" fill="none"/>
<path d="M358.03 148.30L362.63 148.30M360.33 146.00L360.33 150.60M358.68 146.64L361.99 149.95M358.68 149.95L361.99 146.64" stroke="#ff1a1a" stroke-width="1.0" fill="none"/>
<circle cx="355.23" cy="148.70" r="1.95" fill="none" stroke="#00e41c" stroke-width="1.65"/>
<path d="M370.94 143.33L374.24 146.63M370.94 146.63L374.24 143.33" stroke="#1a1aff" stroke-width="0.9" fill="none"/>
<path d="M379.89 144.38L384.49 144.38M382.19 142.08L382.19 146.68M380.53 142.72L383.84 146.03M380.53 146.03L383.84 142.72" stroke="#ff1a1a" stroke-width="1.0" fill="none"/>
<circle cx="377.09" cy="144.78" r="1.95" fill="none" stroke="#00e41c" stroke-width="1.65"/>
<path d="M392.79 139.41L396.09 142.71M392.79 142.71L396.09 139.41" stroke="#1a1aff" stroke-width="0.9" fill="none"/>
<path d="M401.74 140.46L406.34 140.46M404.04 138.16L404.04 142.76M402.38 138.80L405.70 142.12M402.38 142.12L405.70 138.80" stroke="#ff1a1a" stroke-width="1.0" fill="none"/>
<circle cx="398.94" cy="140.86" r="1.95" fill="none" stroke="#00e41c" stroke-width="1.65"/>
<path d="M188.60 191.23L191.90 194.53M188.60 194.53L191.90 191.23" stroke="#1a1aff" stroke-width="0.9" fill="none"/>
<path d="M197.55 192.28L202.15 192.28M199.85 189.98L199.85 194.58M198.19 190.62L201.51 193.94M198.19 193.94L201.51 190.62" stroke="#ff1a1a" stroke-width="1.0" fill="none"/>
<circle cx="194.75" cy="192.68" r="1.95" fill="none" stroke="#00e41c" stroke-width="1.65"/>
<path d="M210.46 187.31L213.76 190.61M210.46 190.61L213.76 187.31" stroke="#1a1aff" stroke-width="0.9" fill="none"/>
<path d="M219.41 188.36L224.01 188.36M221.71 186.06L221.71 190.66M220.06 186.70L223.37 190.01M220.06 190.01L223.37 186.70" stroke="#ff1a1a" stroke-width="1.0" fill="none"/>
<circle cx="216.61" cy="188.76" r="1.95" fill="none" stroke="#00e41c" stroke-width="1.65"/>
<path d="M232.33 183.39L235.63 186.69M232.33 186.69L235.63 183.39" stroke="#1a1aff" stroke-width="0.9" fill="none"/>
<path d="M241.28 184.44L245.88 184.44M243.58 182.14L243.58 186.74M241.92 182.78L245.23 186.09M241.92 186.09L245.23 182.78" stroke="#ff1a1a" stroke-width="1.0" fill="none"/>
<circle cx="238.48" cy="184.84" r="1.95" fill="none" stroke="#00e41c" stroke-width="1.65"/>
<path d="M254.19 179.47L257.49 182.77M254.19 182.77L257.49 179.47" stroke="#1a1aff" stroke-width="0.9" fill="none"/>
<path d="M263.14 180.52L267.74 180.52M265.44 178.22L265.44 182.82M263.78 178.86L267.10 182.17M263.78 182.17L267.10 178.86" stroke="#ff1a1a" stroke-width="1.0" fill="none"/>
<circle cx="260.34" cy="180.92" r="1.95" fill="none" stroke="#00e41c" stroke-width="1.65"/>
<path d="M276.05 175.55L279.35 178.85M276.05 178.85L279.35 175.55" stroke="#1a1aff" stroke-width="0.9" fill="none"/>
<path d="M285.00 176.60L289.60 176.60M287.30 174.30L287.30 178.90M285.65 174.94L288.96 178.25M285.65 178.25L288.96 174.94" stroke="#ff1a1a" stroke-width="1.0" fill="none"/>
<circle cx="282.20" cy="177.00" r="1.95" fill="none" stroke="#00e41c" stroke-width="1.65"/>
<path d="M297.92 171.62L301.22 174.92M297.92 174.92L301.22 171.62" stroke="#1a1aff" stroke-width="0.9" fill="none"/>
<path d="M306.87 172.67L311.47 172.67M309.17 170.37L309.17 174.97M307.51 171.02L310.82 174.33M307.51 174.33L310.82 171.02" stroke="#ff1a1a" stroke-width="1.0" fill="none"/>
<circle cx="304.07" cy="173.07" r="1.95" fill="none" stroke="#00e41c" stroke-width="1.65"/>
<path d="M319.78 167.70L323.08 171.00M319.78 171.00L323.08 167.70" stroke="#1a1aff" stroke-width="0.9" fill="none"/>
<path d="M328.73 168.75L333.33 168.75M331.03 166.45L331.03 171.05M329.37 167.10L332.68 170.41M329.37 170.41L332.68 167.10" stroke="#ff1a1a" stroke-width="1.0" fill="none"/>
<circle cx="325.93" cy="169.15" r="1.95" fill="none" stroke="#00e41c" stroke-width="1.65"/>
<path d="M341.64 163.78L344.94 167.08M341.64 167.08L344.94 163.78" stroke="#1a1aff" stroke-width="0.9" fill="none"/>
<path d="M350.59 164.83L355.19 164.83M352.89 162.53L352.89 167.13M351.24 163.18L354.55 166.49M351.24 166.49L354.55 163.18" stroke="#ff1a1a" stroke-width="1.0" fill="none"/>
<circle cx="347.79" cy="165.23" r="1.95" fill="none" stroke="#00e41c" stroke-width="1.65"/>
<path d="M363.50 159.86L366.80 163.16M363.50 163.16L366.80 159.86" stroke="#1a1aff" stroke-width="0.9" fill="none"/>
<path d="M372.45 160.91L377.05 160.91M374.75 158.61L374.75 163.21M373.10 159.26L376.41 162.57M373.10 162.57L376.41 159.26" stroke="#ff1a1a" stroke-width="1.0" fill="none"/>
<circle cx="369.65" cy="161.31" r="1.95" fill="none" stroke="#00e41c" stroke-width="1.65"/>
<path d="M385.37 155.94L388.67 159.24M385.37 159.24L388.67 155.94" stroke="#1a1aff" stroke-width="0.9" fill="none"/>
<path d="M394.32 156.99L398.92 156.99M396.62 154.69L396.62 159.29M394.96 155.34L398.27 158.65M394.96 158.65L398.27 155.34" stroke="#ff1a1a" stroke-width="1.0" fill="none"/>
<circle cx="391.52" cy="157.39" r="1.95" fill="none" stroke="#00e41c" stroke-width="1.65"/>
<path d="M407.23 152.02L410.53 155.32M407.23 155.32L410.53 152.02" stroke="#1a1aff" stroke-width="0.9" fill="none"/>
<path d="M416.18 153.07L420.78 153.07M418.48 150.77L418.48 155.37M416.82 151.41L420.14 154.73M416.82 154.73L420.14 151.41" stroke="#ff1a1a" stroke-width="1.0" fill="none"/>
<circle cx="413.38" cy="153.47" r="1.95" fill="none" stroke="#00e41c" stroke-width="1.65"/>
<path d="M202.95 203.87L206.25 207.17M202.95 207.17L206.25 203.87" stroke="#1a1aff" stroke-width="0.9" fill="none"/>
<path d="M211.90 204.92L216.50 204.92M214.20 202.62L214.20 207.22M212.54 203.26L215.86 206.58M212.54 206.58L215.86 203.26" stroke="#ff1a1a" stroke-width="1.0" fill="none"/>
<circle cx="209.10" cy="205.32" r="1.95" fill="none" stroke="#00e41c" stroke-width="1.65"/>
<path d="M224.82 199.95L228.12 203.25M224.82 203.25L228.12 199.95" stroke="#1a1aff" stroke-width="0.9" fill="none"/>
<path d="M233.77 201.00L238.37 201.00M236.07 198.70L236.07 203.30M234.42 199.34L237.73 202.65M234.42 202.65L237.73 199.34" stroke="#ff1a1a" stroke-width="1.0" fill="none"/>
<circle cx="230.97" cy="201.40" r="1.95" fill="none" stroke="#00e41c" stroke-width="1.65"/>
<path d="M246.69 196.02L249.99 199.32M246.69 199.32L249.99 196.02" stroke="#1a1aff" stroke-width="0.9" fill="none"/>
<path d="M255.64 197.07L260.24 197.07M257.94 194.77L257.94 199.37M256.29 195.42L259.60 198.73M256.29 198.73L259.60 195.42" stroke="#ff1a1a" stroke-width="1.0" fill="none"/>
<circle cx="252.84" cy="197.47" r="1.95" fill="none" stroke="#00e41c" stroke-width="1.65"/>
<path d="M268.57 192.10L271.87 195.40M268.57 195.40L271.87 192.10" stroke="#1a1aff" stroke-width="0.9" fill="none"/>
<path d="M277.52 193.15L282.12 193.15M279.82 190.85L279.82 195.45M278.16 191.49L281.47 194.80M278.16 194.80L281.47 191.49" stroke="#ff1a1a" stroke-width="1.0" fill="none"/>
<circle cx="274.72" cy="193.55" r="1.95" fill="none" stroke="#00e41c" stroke-width="1.65"/>
<path d="M290.44 188.17L293.74 191.47M290.44 191.47L293.74 188.17" stroke="#1a1aff" stroke-width="0.9" fill="none"/>
<path d="M299.39 189.22L303.99 189.22M301.69 186.92L301.69 191.52M300.03 187.57L303.34 190.88M300.03 190.88L303.34 187.57" stroke="#ff1a1a" stroke-width="1.0" fill="none"/>
<circle cx="296.59" cy="189.62" r="1.95" fill="none" stroke="#00e41c" stroke-width="1.65"/>
<path d="M312.31 184.25L315.61 187.55M312.31 187.55L315.61 184.25" stroke="#1a1aff" stroke-width="0.9" fill="none"/>
<path d="M321.26 185.30L325.86 185.30M323.56 183.00L323.56 187.60M321.90 183.64L325.22 186.96M321.90 186.96L325.22 183.64" stroke="#ff1a1a" stroke-width="1.0" fill="none"/>
<circle cx="318.46" cy="185.70" r="1.95" fill="none" stroke="#00e41c" stroke-width="1.65"/>
<path d="M334.18 180.33L337.48 183.63M334.18 183.63L337.48 180.33" stroke="#1a1aff" stroke-width="0.9" fill="none"/>
<path d="M343.13 181.38L347.73 181.38M345.43 179.08L345.43 183.68M343.78 179.72L347.09 183.03M343.78 183.03L347.09 179.72" stroke="#ff1a1a" stroke-width="1.0" fill="none"/>
<circle cx="340.33" cy="181.78" r="1.95" fill="none" stroke="#00e41c" stroke-width="1.65"/>
<path d="M356.05 176.40L359.35 179.70M356.05 179.70L359.35 176.40" stroke="#1a1aff" stroke-width="0.9" fill="none"/>
<path d="M365.00 177.45L369.60 177.45M367.30 175.15L367.30 179.75M365.65 175.80L368.96 179.11M365.65 179.11L368.96 175.80" stroke="#ff1a1a" stroke-width="1.0" fill="none"/>
<circle cx="362.20" cy="177.85" r="1.95" fill="none" stroke="#00e41c" stroke-width="1.65"/>
<path d="M377.93 172.48L381.23 175.78M377.93 175.78L381.23 172.48" stroke="#1a1aff" stroke-width="0.9" fill="none"/>
<path d="M386.88 173.53L391.48 173.53M389.18 171.23L389.18 175.83M387.52 171.87L390.83 175.18M387.52 175.18L390.83 171.87" stroke="#ff1a1a" stroke-width="1.0" fill="none"/>
<circle cx="384.08" cy="173.93" r="1.95" fill="none" stroke="#00e41c" stroke-width="1.65"/>
<path d="M399.80 168.55L403.10 171.85M399.80 171.85L403.10 168.55" stroke="#1a1aff" stroke-width="0.9" fill="none"/>
<path d="M408.75 169.60L413.35 169.60M411.05 167.30L411.05 171.90M409.39 167.95L412.70 171.26M409.39 171.26L412.70 167.95" stroke="#ff1a1a" stroke-width="1.0" fill="none"/>
<circle cx="405.95" cy="170.00" r="1.95" fill="none" stroke="#00e41c" stroke-width="1.65"/>
<path d="M421.67 164.63L424.97 167.93M421.67 167.93L424.97 164.63" stroke="#1a1aff" stroke-width="0.9" fill="none"/>
<path d="M430.62 165.68L435.22 165.68M432.92 163.38L432.92 167.98M431.26 164.02L434.58 167.34M431.26 167.34L434.58 164.02" stroke="#ff1a1a" stroke-width="1.0" fill="none"/>
<circle cx="427.82" cy="166.08" r="1.95" fill="none" stroke="#00e41c" stroke-width="1.65"/>
<path d="M217.30 216.51L220.60 219.81M217.30 219.81L220.60 216.51" stroke="#1a1aff" stroke-width="0.9" fill="none"/>
<path d="M226.25 217.56L230.85 217.56M228.55 215.26L228.55 219.86M226.89 215.90L230.21 219.22M226.89 219.22L230.21 215.90" stroke="#ff1a1a" stroke-width="1.0" fill="none"/>
<circle cx="223.45" cy="217.96" r="1.95" fill="none" stroke="#00e41c" stroke-width="1.65"/>
<path d="M239.18 212.58L242.48 215.88M239.18 215.88L242.48 212.58" stroke="#1a1aff" stroke-width="0.9" fill="none"/>
<path d="M248.13 213.63L252.73 213.63M250.43 211.33L250.43 215.93M248.78 211.98L252.09 215.29M248.78 215.29L252.09 211.98" stroke="#ff1a1a" stroke-width="1.0" fill="none"/>
<circle cx="245.33" cy="214.03" r="1.95" fill="none" stroke="#00e41c" stroke-width="1.65"/>
<path d="M261.06 208.66L264.36 211.96M261.06 211.96L264.36 208.66" stroke="#1a1aff" stroke-width="0.9" fill="none"/>
<path d="M270.01 209.71L274.61 209.71M272.31 207.41L272.31 212.01M270.66 208.05L273.97 211.36M270.66 211.36L273.97 208.05" stroke="#ff1a1a" stroke-width="1.0" fill="none"/>
<circle cx="267.21" cy="210.11" r="1.95" fill="none" stroke="#00e41c" stroke-width="1.65"/>
<path d="M282.94 204.73L286.24 208.03M282.94 208.03L286.24 204.73" stroke="#1a1aff" stroke-width="0.9" fill="none"/>
<path d="M291.89 205.78L296.49 205.78M294.19 203.48L294.19 208.08M292.54 204.12L295.85 207.44M292.54 207.44L295.85 204.12" stroke="#ff1a1a" stroke-width="1.0" fill="none"/>
<circle cx="289.09" cy="206.18" r="1.95" fill="none" stroke="#00e41c" stroke-width="1.65"/>
<path d="M304.82 200.80L308.12 204.10M304.82 204.10L308.12 200.80" stroke="#1a1aff" stroke-width="0.9" fill="none"/>
<path d="M313.77 201.85L318.37 201.85M316.07 199.55L316.07 204.15M314.42 200.20L317.73 203.51M314.42 203.51L317.73 200.20" stroke="#ff1a1a" stroke-width="1.0" fill="none"/>
<circle cx="310.97" cy="202.25" r="1.95" fill="none" stroke="#00e41c" stroke-width="1.65"/>
<path d="M326.71 196.87L330.00 200.17M326.71 200.17L330.00 196.87" stroke="#1a1aff" stroke-width="0.9" fill="none"/>
<path d="M335.66 197.92L340.26 197.92M337.96 195.62L337.96 200.22M336.30 196.27L339.61 199.58M336.30 199.58L339.61 196.27" stroke="#ff1a1a" stroke-width="1.0" fill="none"/>
<circle cx="332.86" cy="198.32" r="1.95" fill="none" stroke="#00e41c" stroke-width="1.65"/>
<path d="M348.59 192.95L351.89 196.25M348.59 196.25L351.89 192.95" stroke="#1a1aff" stroke-width="0.9" fill="none"/>
<path d="M357.54 194.00L362.14 194.00M359.84 191.70L359.84 196.30M358.18 192.34L361.49 195.65M358.18 195.65L361.49 192.34" stroke="#ff1a1a" stroke-width="1.0" fill="none"/>
<circle cx="354.74" cy="194.40" r="1.95" fill="none" stroke="#00e41c" stroke-width="1.65"/>
<path d="M370.47 189.02L373.77 192.32M370.47 192.32L373.77 189.02" stroke="#1a1aff" stroke-width="0.9" fill="none"/>
<path d="M379.42 190.07L384.02 190.07M381.72 187.77L381.72 192.37M380.06 188.41L383.37 191.73M380.06 191.73L383.37 188.41" stroke="#ff1a1a" stroke-width="1.0" fill="none"/>
<circle cx="376.62" cy="190.47" r="1.95" fill="none" stroke="#00e41c" stroke-width="1.65"/>
<path d="M392.35 185.09L395.65 188.39M392.35 188.39L395.65 185.09" stroke="#1a1aff" stroke-width="0.9" fill="none"/>
<path d="M401.30 186.14L405.90 186.14M403.60 183.84L403.60 188.44M401.94 184.49L405.25 187.80M401.94 187.80L405.25 184.49" stroke="#ff1a1a" stroke-width="1.0" fill="none"/>
<circle cx="398.50" cy="186.54" r="1.95" fill="none" stroke="#00e41c" stroke-width="1.65"/>
<path d="M414.23 181.17L417.53 184.47M414.23 184.47L417.53 181.17" stroke="#1a1aff" stroke-width="0.9" fill="none"/>
<path d="M423.18 182.22L427.78 182.22M425.48 179.92L425.48 184.52M423.82 180.56L427.14 183.87M423.82 183.87L427.14 180.56" stroke="#ff1a1a" stroke-width="1.0" fill="none"/>
<circle cx="420.38" cy="182.62" r="1.95" fill="none" stroke="#00e41c" stroke-width="1.65"/>
<path d="M436.11 177.24L439.41 180.54M436.11 180.54L439.41 177.24" stroke="#1a1aff" stroke-width="0.9" fill="none"/>
<path d="M445.06 178.29L449.66 178.29M447.36 175.99L447.36 180.59M445.70 176.63L449.02 179.95M445.70 179.95L449.02 176.63" stroke="#ff1a1a" stroke-width="1.0" fill="none"/>
<circle cx="442.26" cy="178.69" r="1.95" fill="none" stroke="#00e41c" stroke-width="1.65"/>
<path d="M231.65 229.15L234.95 232.45M231.65 232.45L234.95 229.15" stroke="#1a1aff" stroke-width="0.9" fill="none"/>
<path d="M240.60 230.20L245.20 230.20M242.90 227.90L242.90 232.50M241.24 228.54L244.56 231.86M241.24 231.86L244.56 228.54" stroke="#ff1a1a" stroke-width="1.0" fill="none"/>
<circle cx="237.80" cy="230.60" r="1.95" fill="none" stroke="#00e41c" stroke-width="1.65"/>
<path d="M253.54 225.22L256.84 228.52M253.54 228.52L256.84 225.22" stroke="#1a1aff" stroke-width="0.9" fill="none"/>
<path d="M262.49 226.27L267.09 226.27M264.79 223.97L264.79 228.57M263.13 224.61L266.45 227.93M263.13 227.93L266.45 224.61" stroke="#ff1a1a" stroke-width="1.0" fill="none"/>
<circle cx="259.69" cy="226.67" r="1.95" fill="none" stroke="#00e41c" stroke-width="1.65"/>
<path d="M275.43 221.29L278.73 224.59M275.43 224.59L278.73 221.29" stroke="#1a1aff" stroke-width="0.9" fill="none"/>
<path d="M284.38 222.34L288.98 222.34M286.68 220.04L286.68 224.64M285.02 220.68L288.34 224.00M285.02 224.00L288.34 220.68" stroke="#ff1a1a" stroke-width="1.0" fill="none"/>
<circle cx="281.58" cy="222.74" r="1.95" fill="none" stroke="#00e41c" stroke-width="1.65"/>
<path d="M297.32 217.36L300.62 220.66M297.32 220.66L300.62 217.36" stroke="#1a1aff" stroke-width="0.9" fill="none"/>
<path d="M306.27 218.41L310.87 218.41M308.57 216.11L308.57 220.71M306.91 216.75L310.23 220.07M306.91 220.07L310.23 216.75" stroke="#ff1a1a" stroke-width="1.0" fill="none"/>
<circle cx="303.47" cy="218.81" r="1.95" fill="none" stroke="#00e41c" stroke-width="1.65"/>
<path d="M319.21 213.43L322.51 216.73M319.21 216.73L322.51 213.43" stroke="#1a1aff" stroke-width="0.9" fill="none"/>
<path d="M328.16 214.48L332.76 214.48M330.46 212.18L330.46 216.78M328.80 212.82L332.12 216.14M328.80 216.14L332.12 212.82" stroke="#ff1a1a" stroke-width="1.0" fill="none"/>
<circle cx="325.36" cy="214.88" r="1.95" fill="none" stroke="#00e41c" stroke-width="1.65"/>
<path d="M341.10 209.50L344.40 212.80M341.10 212.80L344.40 209.50" stroke="#1a1aff" stroke-width="0.9" fill="none"/>
<path d="M350.05 210.55L354.65 210.55M352.35 208.25L352.35 212.85M350.69 208.89L354.01 212.21M350.69 212.21L354.01 208.89" stroke="#ff1a1a" stroke-width="1.0" fill="none"/>
<circle cx="347.25" cy="210.95" r="1.95" fill="none" stroke="#00e41c" stroke-width="1.65"/>
<path d="M362.99 205.57L366.29 208.87M362.99 208.87L366.29 205.57" stroke="#1a1aff" stroke-width="0.9" fill="none"/>
<path d="M371.94 206.62L376.54 206.62M374.24 204.32L374.24 208.92M372.58 204.96L375.90 208.28M372.58 208.28L375.90 204.96" stroke="#ff1a1a" stroke-width="1.0" fill="none"/>
<circle cx="369.14" cy="207.02" r="1.95" fill="none" stroke="#00e41c" stroke-width="1.65"/>
<path d="M384.88 201.64L388.18 204.94M384.88 204.94L388.18 201.64" stroke="#1a1aff" stroke-width="0.9" fill="none"/>
<path d="M393.83 202.69L398.43 202.69M396.13 200.39L396.13 204.99M394.47 201.03L397.79 204.35M394.47 204.35L397.79 201.03" stroke="#ff1a1a" stroke-width="1.0" fill="none"/>
<circle cx="391.03" cy="203.09" r="1.95" fill="none" stroke="#00e41c" stroke-width="1.65"/>
<path d="M406.77 197.71L410.07 201.01M406.77 201.01L410.07 197.71" stroke="#1a1aff" stroke-width="0.9" fill="none"/>
<path d="M415.72 198.76L420.32 198.76M418.02 196.46L418.02 201.06M416.36 197.10L419.68 200.42M416.36 200.42L419.68 197.10" stroke="#ff1a1a" stroke-width="1.0" fill="none"/>
<circle cx="412.92" cy="199.16" r="1.95" fill="none" stroke="#00e41c" stroke-width="1.65"/>
<path d="M428.66 193.78L431.96 197.08M428.66 197.08L431.96 193.78" stroke="#1a1aff" stroke-width="0.9" fill="none"/>
<path d="M437.61 194.83L442.21 194.83M439.91 192.53L439.91 197.13M438.25 193.17L441.57 196.49M438.25 196.49L441.57 193.17" stroke="#ff1a1a" stroke-width="1.0" fill="none"/>
<circle cx="434.81" cy="195.23" r="1.95" fill="none" stroke="#00e41c" stroke-width="1.65"/>
<path d="M450.55 189.85L453.85 193.15M450.55 193.15L453.85 189.85" stroke="#1a1aff" stroke-width="0.9" fill="none"/>
<path d="M459.50 190.90L464.10 190.90M461.80 188.60L461.80 193.20M460.14 189.24L463.46 192.56M460.14 192.56L463.46 189.24" stroke="#ff1a1a" stroke-width="1.0" fill="none"/>
<circle cx="456.70" cy="191.30" r="1.95" fill="none" stroke="#00e41c" stroke-width="1.65"/>
<rect x="415.5" y="79.5" width="84.4" height="65.9" fill="#fff" stroke="#262626" stroke-width="1"/>
<circle cx="427.50" cy="95.80" r="2.4" fill="none" stroke="#00e41c" stroke-width="1.5"/>
<path d="M425.50 114.60L428.50 114.60M427.00 113.10L427.00 116.10M425.92 113.52L428.08 115.68M425.92 115.68L428.08 113.52" stroke="#ff1a1a" stroke-width="1.1" fill="none"/>
<path d="M426.00 134.00L429.00 137.00M426.00 137.00L429.00 134.00" stroke="#1a1aff" stroke-width="0.9" fill="none"/>
<text x="439.60" y="98.70" font-size="10.6" font-family="'Liberation Serif', 'Times New Roman', serif" fill="#111" textLength="46.40" lengthAdjust="spacingAndGlyphs" stroke="#111" stroke-width="0.25">green phase</text>
<text x="439.60" y="118.50" font-size="10.6" font-family="'Liberation Serif', 'Times New Roman', serif" fill="#111" textLength="38.70" lengthAdjust="spacingAndGlyphs" stroke="#111" stroke-width="0.25">red phase</text>
<text x="439.60" y="138.70" font-size="10.6" font-family="'Liberation Serif', 'Times New Roman', serif" fill="#111" textLength="42.00" lengthAdjust="spacingAndGlyphs" stroke="#111" stroke-width="0.25">blue phase</text>
<text x="8.70" y="309.30" font-size="13" font-family="'Liberation Serif', 'Times New Roman', serif" fill="#000" textLength="15.80" lengthAdjust="spacingAndGlyphs" stroke="#000" stroke-width="0.15">(b)</text>
<line x1="104.85" y1="351.80" x2="104.85" y2="497.60" stroke="#ebebeb" stroke-width="0.9" />
<line x1="150.10" y1="351.80" x2="150.10" y2="497.60" stroke="#ebebeb" stroke-width="0.9" />
<line x1="195.35" y1="351.80" x2="195.35" y2="497.60" stroke="#ebebeb" stroke-width="0.9" />
<line x1="240.60" y1="351.80" x2="240.60" y2="497.60" stroke="#ebebeb" stroke-width="0.9" />
<line x1="95.80" y1="461.15" x2="240.60" y2="461.15" stroke="#ebebeb" stroke-width="0.9" />
<line x1="95.80" y1="424.70" x2="240.60" y2="424.70" stroke="#ebebeb" stroke-width="0.9" />
<line x1="95.80" y1="388.25" x2="240.60" y2="388.25" stroke="#ebebeb" stroke-width="0.9" />
<line x1="95.80" y1="351.80" x2="240.60" y2="351.80" stroke="#ebebeb" stroke-width="0.9" />
<line x1="95.80" y1="351.80" x2="95.80" y2="498.10" stroke="#707070" stroke-width="1.1" />
<line x1="95.30" y1="497.60" x2="240.60" y2="497.60" stroke="#707070" stroke-width="1.1" />
<line x1="92.80" y1="497.60" x2="95.80" y2="497.60" stroke="#626262" stroke-width="1.0" />
<line x1="92.80" y1="461.15" x2="95.80" y2="461.15" stroke="#626262" stroke-width="1.0" />
<line x1="92.80" y1="424.70" x2="95.80" y2="424.70" stroke="#626262" stroke-width="1.0" />
<line x1="92.80" y1="388.25" x2="95.80" y2="388.25" stroke="#626262" stroke-width="1.0" />
<line x1="92.80" y1="351.80" x2="95.80" y2="351.80" stroke="#626262" stroke-width="1.0" />
<line x1="104.85" y1="497.60" x2="104.85" y2="500.60" stroke="#626262" stroke-width="1.0" />
<line x1="150.10" y1="497.60" x2="150.10" y2="500.60" stroke="#626262" stroke-width="1.0" />
<line x1="195.35" y1="497.60" x2="195.35" y2="500.60" stroke="#626262" stroke-width="1.0" />
<line x1="240.60" y1="497.60" x2="240.60" y2="500.60" stroke="#626262" stroke-width="1.0" />
<text x="87.40" y="357.20" font-size="12.2" font-family="'Liberation Sans', Arial, sans-serif" fill="#262626" text-anchor="end" textLength="19.13" lengthAdjust="spacingAndGlyphs" stroke="#262626" stroke-width="0.3">100</text>
<text x="87.40" y="393.65" font-size="12.2" font-family="'Liberation Sans', Arial, sans-serif" fill="#262626" text-anchor="end" textLength="12.75" lengthAdjust="spacingAndGlyphs" stroke="#262626" stroke-width="0.3">95</text>
<text x="87.40" y="430.10" font-size="12.2" font-family="'Liberation Sans', Arial, sans-serif" fill="#262626" text-anchor="end" textLength="12.75" lengthAdjust="spacingAndGlyphs" stroke="#262626" stroke-width="0.3">90</text>
<text x="87.40" y="466.55" font-size="12.2" font-family="'Liberation Sans', Arial, sans-serif" fill="#262626" text-anchor="end" textLength="12.75" lengthAdjust="spacingAndGlyphs" stroke="#262626" stroke-width="0.3">85</text>
<text x="87.40" y="503.00" font-size="12.2" font-family="'Liberation Sans', Arial, sans-serif" fill="#262626" text-anchor="end" textLength="12.75" lengthAdjust="spacingAndGlyphs" stroke="#262626" stroke-width="0.3">80</text>
<text x="104.55" y="517.90" font-size="12.2" font-family="'Liberation Sans', Arial, sans-serif" fill="#262626" text-anchor="middle" stroke="#262626" stroke-width="0.3">-160</text>
<text x="149.80" y="517.90" font-size="12.2" font-family="'Liberation Sans', Arial, sans-serif" fill="#262626" text-anchor="middle" stroke="#262626" stroke-width="0.3">-155</text>
<text x="195.05" y="517.90" font-size="12.2" font-family="'Liberation Sans', Arial, sans-serif" fill="#262626" text-anchor="middle" stroke="#262626" stroke-width="0.3">-150</text>
<text x="240.30" y="517.90" font-size="12.2" font-family="'Liberation Sans', Arial, sans-serif" fill="#262626" text-anchor="middle" stroke="#262626" stroke-width="0.3">-145</text>
<text x="53.10" y="510.80" font-size="10.8" font-family="'Liberation Sans', Arial, sans-serif" fill="#111" textLength="190.70" lengthAdjust="spacingAndGlyphs" transform="rotate(-90 53.10 510.80)" stroke="#111" stroke-width="0.25">LCD reflects horizontal fringe phase/rad</text>
<text x="85.10" y="541.60" font-size="10.8" font-family="'Liberation Sans', Arial, sans-serif" fill="#111" textLength="176.00" lengthAdjust="spacingAndGlyphs" stroke="#111" stroke-width="0.25">LCD displays vertical fringe phase/rad</text>
<path d="M97.00 361.10L100.00 364.10M97.00 364.10L100.00 361.10" stroke="#3344ee" stroke-width="0.6" fill="none"/>
<circle cx="100.10" cy="362.60" r="2.25" fill="none" stroke="#00e41c" stroke-width="1.5"/>
<path d="M101.40 362.60L105.20 362.60M103.30 360.70L103.30 364.50M101.93 361.23L104.67 363.97M101.93 363.97L104.67 361.23" stroke="#ff1a1a" stroke-width="0.9" fill="none"/>
<path d="M109.50 360.82L112.50 363.82M109.50 363.82L112.50 360.82" stroke="#3344ee" stroke-width="0.6" fill="none"/>
<circle cx="112.60" cy="362.32" r="2.25" fill="none" stroke="#00e41c" stroke-width="1.5"/>
<path d="M113.90 362.32L117.70 362.32M115.80 360.42L115.80 364.22M114.43 360.95L117.17 363.69M114.43 363.69L117.17 360.95" stroke="#ff1a1a" stroke-width="0.9" fill="none"/>
<path d="M122.00 360.54L125.00 363.54M122.00 363.54L125.00 360.54" stroke="#3344ee" stroke-width="0.6" fill="none"/>
<circle cx="125.10" cy="362.04" r="2.25" fill="none" stroke="#00e41c" stroke-width="1.5"/>
<path d="M126.40 362.04L130.20 362.04M128.30 360.14L128.30 363.94M126.93 360.67L129.67 363.41M126.93 363.41L129.67 360.67" stroke="#ff1a1a" stroke-width="0.9" fill="none"/>
<path d="M134.50 360.26L137.50 363.26M134.50 363.26L137.50 360.26" stroke="#3344ee" stroke-width="0.6" fill="none"/>
<circle cx="137.60" cy="361.76" r="2.25" fill="none" stroke="#00e41c" stroke-width="1.5"/>
<path d="M138.90 361.76L142.70 361.76M140.80 359.86L140.80 363.66M139.43 360.39L142.17 363.13M139.43 363.13L142.17 360.39" stroke="#ff1a1a" stroke-width="0.9" fill="none"/>
<path d="M147.00 359.98L150.00 362.98M147.00 362.98L150.00 359.98" stroke="#3344ee" stroke-width="0.6" fill="none"/>
<circle cx="150.10" cy="361.48" r="2.25" fill="none" stroke="#00e41c" stroke-width="1.5"/>
<path d="M151.40 361.48L155.20 361.48M153.30 359.58L153.30 363.38M151.93 360.11L154.67 362.85M151.93 362.85L154.67 360.11" stroke="#ff1a1a" stroke-width="0.9" fill="none"/>
<path d="M159.50 359.70L162.50 362.70M159.50 362.70L162.50 359.70" stroke="#3344ee" stroke-width="0.6" fill="none"/>
<circle cx="162.60" cy="361.20" r="2.25" fill="none" stroke="#00e41c" stroke-width="1.5"/>
<path d="M163.90 361.20L167.70 361.20M165.80 359.30L165.80 363.10M164.43 359.83L167.17 362.57M164.43 362.57L167.17 359.83" stroke="#ff1a1a" stroke-width="0.9" fill="none"/>
<path d="M172.00 359.42L175.00 362.42M172.00 362.42L175.00 359.42" stroke="#3344ee" stroke-width="0.6" fill="none"/>
<circle cx="175.10" cy="360.92" r="2.25" fill="none" stroke="#00e41c" stroke-width="1.5"/>
<path d="M176.40 360.92L180.20 360.92M178.30 359.02L178.30 362.82M176.93 359.55L179.67 362.29M176.93 362.29L179.67 359.55" stroke="#ff1a1a" stroke-width="0.9" fill="none"/>
<path d="M184.50 359.14L187.50 362.14M184.50 362.14L187.50 359.14" stroke="#3344ee" stroke-width="0.6" fill="none"/>
<circle cx="187.60" cy="360.64" r="2.25" fill="none" stroke="#00e41c" stroke-width="1.5"/>
<path d="M188.90 360.64L192.70 360.64M190.80 358.74L190.80 362.54M189.43 359.27L192.17 362.01M189.43 362.01L192.17 359.27" stroke="#ff1a1a" stroke-width="0.9" fill="none"/>
<path d="M197.00 358.86L200.00 361.86M197.00 361.86L200.00 358.86" stroke="#3344ee" stroke-width="0.6" fill="none"/>
<circle cx="200.10" cy="360.36" r="2.25" fill="none" stroke="#00e41c" stroke-width="1.5"/>
<path d="M201.40 360.36L205.20 360.36M203.30 358.46L203.30 362.26M201.93 358.99L204.67 361.73M201.93 361.73L204.67 358.99" stroke="#ff1a1a" stroke-width="0.9" fill="none"/>
<path d="M209.50 358.58L212.50 361.58M209.50 361.58L212.50 358.58" stroke="#3344ee" stroke-width="0.6" fill="none"/>
<circle cx="212.60" cy="360.08" r="2.25" fill="none" stroke="#00e41c" stroke-width="1.5"/>
<path d="M213.90 360.08L217.70 360.08M215.80 358.18L215.80 361.98M214.43 358.71L217.17 361.45M214.43 361.45L217.17 358.71" stroke="#ff1a1a" stroke-width="0.9" fill="none"/>
<path d="M222.00 358.30L225.00 361.30M222.00 361.30L225.00 358.30" stroke="#3344ee" stroke-width="0.6" fill="none"/>
<circle cx="225.10" cy="359.80" r="2.25" fill="none" stroke="#00e41c" stroke-width="1.5"/>
<path d="M226.40 359.80L230.20 359.80M228.30 357.90L228.30 361.70M226.93 358.43L229.67 361.17M226.93 361.17L229.67 358.43" stroke="#ff1a1a" stroke-width="0.9" fill="none"/>
<path d="M97.24 372.11L100.24 375.11M97.24 375.11L100.24 372.11" stroke="#3344ee" stroke-width="0.6" fill="none"/>
<circle cx="100.34" cy="373.61" r="2.25" fill="none" stroke="#00e41c" stroke-width="1.5"/>
<path d="M101.64 373.61L105.44 373.61M103.54 371.71L103.54 375.51M102.17 372.24L104.91 374.98M102.17 374.98L104.91 372.24" stroke="#ff1a1a" stroke-width="0.9" fill="none"/>
<path d="M109.74 371.83L112.74 374.83M109.74 374.83L112.74 371.83" stroke="#3344ee" stroke-width="0.6" fill="none"/>
<circle cx="112.84" cy="373.33" r="2.25" fill="none" stroke="#00e41c" stroke-width="1.5"/>
<path d="M114.14 373.33L117.94 373.33M116.04 371.43L116.04 375.23M114.68 371.96L117.41 374.70M114.68 374.70L117.41 371.96" stroke="#ff1a1a" stroke-width="0.9" fill="none"/>
<path d="M122.25 371.54L125.25 374.54M122.25 374.54L125.25 371.54" stroke="#3344ee" stroke-width="0.6" fill="none"/>
<circle cx="125.35" cy="373.04" r="2.25" fill="none" stroke="#00e41c" stroke-width="1.5"/>
<path d="M126.65 373.04L130.45 373.04M128.55 371.14L128.55 374.94M127.18 371.68L129.91 374.41M127.18 374.41L129.91 371.68" stroke="#ff1a1a" stroke-width="0.9" fill="none"/>
<path d="M134.75 371.26L137.75 374.26M134.75 374.26L137.75 371.26" stroke="#3344ee" stroke-width="0.6" fill="none"/>
<circle cx="137.85" cy="372.76" r="2.25" fill="none" stroke="#00e41c" stroke-width="1.5"/>
<path d="M139.15 372.76L142.95 372.76M141.05 370.86L141.05 374.66M139.68 371.39L142.42 374.13M139.68 374.13L142.42 371.39" stroke="#ff1a1a" stroke-width="0.9" fill="none"/>
<path d="M147.25 370.98L150.25 373.98M147.25 373.98L150.25 370.98" stroke="#3344ee" stroke-width="0.6" fill="none"/>
<circle cx="150.35" cy="372.48" r="2.25" fill="none" stroke="#00e41c" stroke-width="1.5"/>
<path d="M151.65 372.48L155.45 372.48M153.55 370.58L153.55 374.38M152.18 371.11L154.92 373.85M152.18 373.85L154.92 371.11" stroke="#ff1a1a" stroke-width="0.9" fill="none"/>
<path d="M159.76 370.70L162.76 373.70M159.76 373.70L162.76 370.70" stroke="#3344ee" stroke-width="0.6" fill="none"/>
<circle cx="162.86" cy="372.20" r="2.25" fill="none" stroke="#00e41c" stroke-width="1.5"/>
<path d="M164.16 372.20L167.96 372.20M166.06 370.30L166.06 374.10M164.69 370.83L167.42 373.56M164.69 373.56L167.42 370.83" stroke="#ff1a1a" stroke-width="0.9" fill="none"/>
<path d="M172.26 370.41L175.26 373.41M172.26 373.41L175.26 370.41" stroke="#3344ee" stroke-width="0.6" fill="none"/>
<circle cx="175.36" cy="371.91" r="2.25" fill="none" stroke="#00e41c" stroke-width="1.5"/>
<path d="M176.66 371.91L180.46 371.91M178.56 370.01L178.56 373.81M177.19 370.54L179.93 373.28M177.19 373.28L179.93 370.54" stroke="#ff1a1a" stroke-width="0.9" fill="none"/>
<path d="M184.76 370.13L187.76 373.13M184.76 373.13L187.76 370.13" stroke="#3344ee" stroke-width="0.6" fill="none"/>
<circle cx="187.86" cy="371.63" r="2.25" fill="none" stroke="#00e41c" stroke-width="1.5"/>
<path d="M189.16 371.63L192.96 371.63M191.06 369.73L191.06 373.53M189.69 370.26L192.43 373.00M189.69 373.00L192.43 370.26" stroke="#ff1a1a" stroke-width="0.9" fill="none"/>
<path d="M197.26 369.85L200.26 372.85M197.26 372.85L200.26 369.85" stroke="#3344ee" stroke-width="0.6" fill="none"/>
<circle cx="200.36" cy="371.35" r="2.25" fill="none" stroke="#00e41c" stroke-width="1.5"/>
<path d="M201.66 371.35L205.46 371.35M203.56 369.45L203.56 373.25M202.20 369.98L204.93 372.71M202.20 372.71L204.93 369.98" stroke="#ff1a1a" stroke-width="0.9" fill="none"/>
<path d="M209.77 369.56L212.77 372.56M209.77 372.56L212.77 369.56" stroke="#3344ee" stroke-width="0.6" fill="none"/>
<circle cx="212.87" cy="371.06" r="2.25" fill="none" stroke="#00e41c" stroke-width="1.5"/>
<path d="M214.17 371.06L217.97 371.06M216.07 369.16L216.07 372.96M214.70 369.70L217.44 372.43M214.70 372.43L217.44 369.70" stroke="#ff1a1a" stroke-width="0.9" fill="none"/>
<path d="M222.27 369.28L225.27 372.28M222.27 372.28L225.27 369.28" stroke="#3344ee" stroke-width="0.6" fill="none"/>
<circle cx="225.37" cy="370.78" r="2.25" fill="none" stroke="#00e41c" stroke-width="1.5"/>
<path d="M226.67 370.78L230.47 370.78M228.57 368.88L228.57 372.68M227.20 369.41L229.94 372.15M227.20 372.15L229.94 369.41" stroke="#ff1a1a" stroke-width="0.9" fill="none"/>
<path d="M97.48 383.12L100.48 386.12M97.48 386.12L100.48 383.12" stroke="#3344ee" stroke-width="0.6" fill="none"/>
<circle cx="100.58" cy="384.62" r="2.25" fill="none" stroke="#00e41c" stroke-width="1.5"/>
<path d="M101.88 384.62L105.68 384.62M103.78 382.72L103.78 386.52M102.41 383.25L105.15 385.99M102.41 385.99L105.15 383.25" stroke="#ff1a1a" stroke-width="0.9" fill="none"/>
<path d="M109.99 382.83L112.99 385.83M109.99 385.83L112.99 382.83" stroke="#3344ee" stroke-width="0.6" fill="none"/>
<circle cx="113.09" cy="384.33" r="2.25" fill="none" stroke="#00e41c" stroke-width="1.5"/>
<path d="M114.39 384.33L118.19 384.33M116.29 382.43L116.29 386.23M114.92 382.97L117.65 385.70M114.92 385.70L117.65 382.97" stroke="#ff1a1a" stroke-width="0.9" fill="none"/>
<path d="M122.49 382.55L125.49 385.55M122.49 385.55L125.49 382.55" stroke="#3344ee" stroke-width="0.6" fill="none"/>
<circle cx="125.59" cy="384.05" r="2.25" fill="none" stroke="#00e41c" stroke-width="1.5"/>
<path d="M126.89 384.05L130.69 384.05M128.79 382.15L128.79 385.95M127.42 382.68L130.16 385.42M127.42 385.42L130.16 382.68" stroke="#ff1a1a" stroke-width="0.9" fill="none"/>
<path d="M135.00 382.26L138.00 385.26M135.00 385.26L138.00 382.26" stroke="#3344ee" stroke-width="0.6" fill="none"/>
<circle cx="138.10" cy="383.76" r="2.25" fill="none" stroke="#00e41c" stroke-width="1.5"/>
<path d="M139.40 383.76L143.20 383.76M141.30 381.86L141.30 385.66M139.93 382.39L142.67 385.13M139.93 385.13L142.67 382.39" stroke="#ff1a1a" stroke-width="0.9" fill="none"/>
<path d="M147.50 381.98L150.50 384.98M147.50 384.98L150.50 381.98" stroke="#3344ee" stroke-width="0.6" fill="none"/>
<circle cx="150.60" cy="383.48" r="2.25" fill="none" stroke="#00e41c" stroke-width="1.5"/>
<path d="M151.90 383.48L155.70 383.48M153.80 381.58L153.80 385.38M152.44 382.11L155.17 384.84M152.44 384.84L155.17 382.11" stroke="#ff1a1a" stroke-width="0.9" fill="none"/>
<path d="M160.01 381.69L163.01 384.69M160.01 384.69L163.01 381.69" stroke="#3344ee" stroke-width="0.6" fill="none"/>
<circle cx="163.11" cy="383.19" r="2.25" fill="none" stroke="#00e41c" stroke-width="1.5"/>
<path d="M164.41 383.19L168.21 383.19M166.31 381.29L166.31 385.09M164.94 381.82L167.68 384.56M164.94 384.56L167.68 381.82" stroke="#ff1a1a" stroke-width="0.9" fill="none"/>
<path d="M172.52 381.40L175.52 384.40M172.52 384.40L175.52 381.40" stroke="#3344ee" stroke-width="0.6" fill="none"/>
<circle cx="175.62" cy="382.90" r="2.25" fill="none" stroke="#00e41c" stroke-width="1.5"/>
<path d="M176.92 382.90L180.72 382.90M178.82 381.00L178.82 384.80M177.45 381.54L180.18 384.27M177.45 384.27L180.18 381.54" stroke="#ff1a1a" stroke-width="0.9" fill="none"/>
<path d="M185.02 381.12L188.02 384.12M185.02 384.12L188.02 381.12" stroke="#3344ee" stroke-width="0.6" fill="none"/>
<circle cx="188.12" cy="382.62" r="2.25" fill="none" stroke="#00e41c" stroke-width="1.5"/>
<path d="M189.42 382.62L193.22 382.62M191.32 380.72L191.32 384.52M189.95 381.25L192.69 383.99M189.95 383.99L192.69 381.25" stroke="#ff1a1a" stroke-width="0.9" fill="none"/>
<path d="M197.53 380.83L200.53 383.83M197.53 383.83L200.53 380.83" stroke="#3344ee" stroke-width="0.6" fill="none"/>
<circle cx="200.63" cy="382.33" r="2.25" fill="none" stroke="#00e41c" stroke-width="1.5"/>
<path d="M201.93 382.33L205.73 382.33M203.83 380.43L203.83 384.23M202.46 380.96L205.20 383.70M202.46 383.70L205.20 380.96" stroke="#ff1a1a" stroke-width="0.9" fill="none"/>
<path d="M210.03 380.55L213.03 383.55M210.03 383.55L213.03 380.55" stroke="#3344ee" stroke-width="0.6" fill="none"/>
<circle cx="213.13" cy="382.05" r="2.25" fill="none" stroke="#00e41c" stroke-width="1.5"/>
<path d="M214.43 382.05L218.23 382.05M216.33 380.15L216.33 383.95M214.97 380.68L217.70 383.41M214.97 383.41L217.70 380.68" stroke="#ff1a1a" stroke-width="0.9" fill="none"/>
<path d="M222.54 380.26L225.54 383.26M222.54 383.26L225.54 380.26" stroke="#3344ee" stroke-width="0.6" fill="none"/>
<circle cx="225.64" cy="381.76" r="2.25" fill="none" stroke="#00e41c" stroke-width="1.5"/>
<path d="M226.94 381.76L230.74 381.76M228.84 379.86L228.84 383.66M227.47 380.39L230.21 383.13M227.47 383.13L230.21 380.39" stroke="#ff1a1a" stroke-width="0.9" fill="none"/>
<path d="M97.72 394.13L100.72 397.13M97.72 397.13L100.72 394.13" stroke="#3344ee" stroke-width="0.6" fill="none"/>
<circle cx="100.82" cy="395.63" r="2.25" fill="none" stroke="#00e41c" stroke-width="1.5"/>
<path d="M102.12 395.63L105.92 395.63M104.02 393.73L104.02 397.53M102.65 394.26L105.39 397.00M102.65 397.00L105.39 394.26" stroke="#ff1a1a" stroke-width="0.9" fill="none"/>
<path d="M110.23 393.84L113.23 396.84M110.23 396.84L113.23 393.84" stroke="#3344ee" stroke-width="0.6" fill="none"/>
<circle cx="113.33" cy="395.34" r="2.25" fill="none" stroke="#00e41c" stroke-width="1.5"/>
<path d="M114.63 395.34L118.43 395.34M116.53 393.44L116.53 397.24M115.16 393.97L117.90 396.71M115.16 396.71L117.90 393.97" stroke="#ff1a1a" stroke-width="0.9" fill="none"/>
<path d="M122.74 393.55L125.74 396.55M122.74 396.55L125.74 393.55" stroke="#3344ee" stroke-width="0.6" fill="none"/>
<circle cx="125.84" cy="395.05" r="2.25" fill="none" stroke="#00e41c" stroke-width="1.5"/>
<path d="M127.14 395.05L130.94 395.05M129.04 393.15L129.04 396.95M127.67 393.68L130.41 396.42M127.67 396.42L130.41 393.68" stroke="#ff1a1a" stroke-width="0.9" fill="none"/>
<path d="M135.25 393.26L138.25 396.26M135.25 396.26L138.25 393.26" stroke="#3344ee" stroke-width="0.6" fill="none"/>
<circle cx="138.35" cy="394.76" r="2.25" fill="none" stroke="#00e41c" stroke-width="1.5"/>
<path d="M139.65 394.76L143.45 394.76M141.55 392.86L141.55 396.66M140.18 393.39L142.91 396.13M140.18 396.13L142.91 393.39" stroke="#ff1a1a" stroke-width="0.9" fill="none"/>
<path d="M147.76 392.97L150.76 395.97M147.76 395.97L150.76 392.97" stroke="#3344ee" stroke-width="0.6" fill="none"/>
<circle cx="150.86" cy="394.47" r="2.25" fill="none" stroke="#00e41c" stroke-width="1.5"/>
<path d="M152.16 394.47L155.96 394.47M154.06 392.57L154.06 396.37M152.69 393.11L155.42 395.84M152.69 395.84L155.42 393.11" stroke="#ff1a1a" stroke-width="0.9" fill="none"/>
<path d="M160.27 392.69L163.27 395.69M160.27 395.69L163.27 392.69" stroke="#3344ee" stroke-width="0.6" fill="none"/>
<circle cx="163.37" cy="394.19" r="2.25" fill="none" stroke="#00e41c" stroke-width="1.5"/>
<path d="M164.66 394.19L168.47 394.19M166.56 392.29L166.56 396.08M165.20 392.82L167.93 395.55M165.20 395.55L167.93 392.82" stroke="#ff1a1a" stroke-width="0.9" fill="none"/>
<path d="M172.77 392.40L175.77 395.40M172.77 395.40L175.77 392.40" stroke="#3344ee" stroke-width="0.6" fill="none"/>
<circle cx="175.87" cy="393.90" r="2.25" fill="none" stroke="#00e41c" stroke-width="1.5"/>
<path d="M177.17 393.90L180.97 393.90M179.07 392.00L179.07 395.80M177.71 392.53L180.44 395.26M177.71 395.26L180.44 392.53" stroke="#ff1a1a" stroke-width="0.9" fill="none"/>
<path d="M185.28 392.11L188.28 395.11M185.28 395.11L188.28 392.11" stroke="#3344ee" stroke-width="0.6" fill="none"/>
<circle cx="188.38" cy="393.61" r="2.25" fill="none" stroke="#00e41c" stroke-width="1.5"/>
<path d="M189.68 393.61L193.48 393.61M191.58 391.71L191.58 395.51M190.21 392.24L192.95 394.97M190.21 394.97L192.95 392.24" stroke="#ff1a1a" stroke-width="0.9" fill="none"/>
<path d="M197.79 391.82L200.79 394.82M197.79 394.82L200.79 391.82" stroke="#3344ee" stroke-width="0.6" fill="none"/>
<circle cx="200.89" cy="393.32" r="2.25" fill="none" stroke="#00e41c" stroke-width="1.5"/>
<path d="M202.19 393.32L205.99 393.32M204.09 391.42L204.09 395.22M202.72 391.95L205.46 394.69M202.72 394.69L205.46 391.95" stroke="#ff1a1a" stroke-width="0.9" fill="none"/>
<path d="M210.30 391.53L213.30 394.53M210.30 394.53L213.30 391.53" stroke="#3344ee" stroke-width="0.6" fill="none"/>
<circle cx="213.40" cy="393.03" r="2.25" fill="none" stroke="#00e41c" stroke-width="1.5"/>
<path d="M214.70 393.03L218.50 393.03M216.60 391.13L216.60 394.93M215.23 391.66L217.97 394.40M215.23 394.40L217.97 391.66" stroke="#ff1a1a" stroke-width="0.9" fill="none"/>
<path d="M222.81 391.24L225.81 394.24M222.81 394.24L225.81 391.24" stroke="#3344ee" stroke-width="0.6" fill="none"/>
<circle cx="225.91" cy="392.74" r="2.25" fill="none" stroke="#00e41c" stroke-width="1.5"/>
<path d="M227.21 392.74L231.01 392.74M229.11 390.84L229.11 394.64M227.74 391.37L230.48 394.11M227.74 394.11L230.48 391.37" stroke="#ff1a1a" stroke-width="0.9" fill="none"/>
<path d="M97.96 405.14L100.96 408.14M97.96 408.14L100.96 405.14" stroke="#3344ee" stroke-width="0.6" fill="none"/>
<circle cx="101.06" cy="406.64" r="2.25" fill="none" stroke="#00e41c" stroke-width="1.5"/>
<path d="M102.36 406.64L106.16 406.64M104.26 404.74L104.26 408.54M102.89 405.27L105.63 408.01M102.89 408.01L105.63 405.27" stroke="#ff1a1a" stroke-width="0.9" fill="none"/>
<path d="M110.47 404.85L113.47 407.85M110.47 407.85L113.47 404.85" stroke="#3344ee" stroke-width="0.6" fill="none"/>
<circle cx="113.57" cy="406.35" r="2.25" fill="none" stroke="#00e41c" stroke-width="1.5"/>
<path d="M114.87 406.35L118.67 406.35M116.77 404.45L116.77 408.25M115.40 404.98L118.14 407.72M115.40 407.72L118.14 404.98" stroke="#ff1a1a" stroke-width="0.9" fill="none"/>
<path d="M122.98 404.56L125.98 407.56M122.98 407.56L125.98 404.56" stroke="#3344ee" stroke-width="0.6" fill="none"/>
<circle cx="126.08" cy="406.06" r="2.25" fill="none" stroke="#00e41c" stroke-width="1.5"/>
<path d="M127.38 406.06L131.18 406.06M129.28 404.16L129.28 407.96M127.92 404.69L130.65 407.42M127.92 407.42L130.65 404.69" stroke="#ff1a1a" stroke-width="0.9" fill="none"/>
<path d="M135.50 404.26L138.50 407.26M135.50 407.26L138.50 404.26" stroke="#3344ee" stroke-width="0.6" fill="none"/>
<circle cx="138.60" cy="405.76" r="2.25" fill="none" stroke="#00e41c" stroke-width="1.5"/>
<path d="M139.90 405.76L143.70 405.76M141.80 403.86L141.80 407.66M140.43 404.40L143.16 407.13M140.43 407.13L143.16 404.40" stroke="#ff1a1a" stroke-width="0.9" fill="none"/>
<path d="M148.01 403.97L151.01 406.97M148.01 406.97L151.01 403.97" stroke="#3344ee" stroke-width="0.6" fill="none"/>
<circle cx="151.11" cy="405.47" r="2.25" fill="none" stroke="#00e41c" stroke-width="1.5"/>
<path d="M152.41 405.47L156.21 405.47M154.31 403.57L154.31 407.37M152.94 404.10L155.68 406.84M152.94 406.84L155.68 404.10" stroke="#ff1a1a" stroke-width="0.9" fill="none"/>
<path d="M160.52 403.68L163.52 406.68M160.52 406.68L163.52 403.68" stroke="#3344ee" stroke-width="0.6" fill="none"/>
<circle cx="163.62" cy="405.18" r="2.25" fill="none" stroke="#00e41c" stroke-width="1.5"/>
<path d="M164.92 405.18L168.72 405.18M166.82 403.28L166.82 407.08M165.45 403.81L168.19 406.55M165.45 406.55L168.19 403.81" stroke="#ff1a1a" stroke-width="0.9" fill="none"/>
<path d="M173.03 403.39L176.03 406.39M173.03 406.39L176.03 403.39" stroke="#3344ee" stroke-width="0.6" fill="none"/>
<circle cx="176.13" cy="404.89" r="2.25" fill="none" stroke="#00e41c" stroke-width="1.5"/>
<path d="M177.43 404.89L181.23 404.89M179.33 402.99L179.33 406.79M177.96 403.52L180.70 406.26M177.96 406.26L180.70 403.52" stroke="#ff1a1a" stroke-width="0.9" fill="none"/>
<path d="M185.54 403.10L188.54 406.10M185.54 406.10L188.54 403.10" stroke="#3344ee" stroke-width="0.6" fill="none"/>
<circle cx="188.64" cy="404.60" r="2.25" fill="none" stroke="#00e41c" stroke-width="1.5"/>
<path d="M189.94 404.60L193.74 404.60M191.84 402.70L191.84 406.50M190.48 403.23L193.21 405.96M190.48 405.96L193.21 403.23" stroke="#ff1a1a" stroke-width="0.9" fill="none"/>
<path d="M198.06 402.80L201.06 405.80M198.06 405.80L201.06 402.80" stroke="#3344ee" stroke-width="0.6" fill="none"/>
<circle cx="201.16" cy="404.30" r="2.25" fill="none" stroke="#00e41c" stroke-width="1.5"/>
<path d="M202.46 404.30L206.26 404.30M204.36 402.40L204.36 406.20M202.99 402.94L205.72 405.67M202.99 405.67L205.72 402.94" stroke="#ff1a1a" stroke-width="0.9" fill="none"/>
<path d="M210.57 402.51L213.57 405.51M210.57 405.51L213.57 402.51" stroke="#3344ee" stroke-width="0.6" fill="none"/>
<circle cx="213.67" cy="404.01" r="2.25" fill="none" stroke="#00e41c" stroke-width="1.5"/>
<path d="M214.97 404.01L218.77 404.01M216.87 402.11L216.87 405.91M215.50 402.64L218.24 405.38M215.50 405.38L218.24 402.64" stroke="#ff1a1a" stroke-width="0.9" fill="none"/>
<path d="M223.08 402.22L226.08 405.22M223.08 405.22L226.08 402.22" stroke="#3344ee" stroke-width="0.6" fill="none"/>
<circle cx="226.18" cy="403.72" r="2.25" fill="none" stroke="#00e41c" stroke-width="1.5"/>
<path d="M227.48 403.72L231.28 403.72M229.38 401.82L229.38 405.62M228.01 402.35L230.75 405.09M228.01 405.09L230.75 402.35" stroke="#ff1a1a" stroke-width="0.9" fill="none"/>
<path d="M98.20 416.15L101.20 419.15M98.20 419.15L101.20 416.15" stroke="#3344ee" stroke-width="0.6" fill="none"/>
<circle cx="101.30" cy="417.65" r="2.25" fill="none" stroke="#00e41c" stroke-width="1.5"/>
<path d="M102.60 417.65L106.40 417.65M104.50 415.75L104.50 419.55M103.13 416.28L105.87 419.02M103.13 419.02L105.87 416.28" stroke="#ff1a1a" stroke-width="0.9" fill="none"/>
<path d="M110.72 415.86L113.72 418.86M110.72 418.86L113.72 415.86" stroke="#3344ee" stroke-width="0.6" fill="none"/>
<circle cx="113.82" cy="417.36" r="2.25" fill="none" stroke="#00e41c" stroke-width="1.5"/>
<path d="M115.12 417.36L118.92 417.36M117.02 415.46L117.02 419.25M115.65 415.99L118.38 418.72M115.65 418.72L118.38 415.99" stroke="#ff1a1a" stroke-width="0.9" fill="none"/>
<path d="M123.23 415.56L126.23 418.56M123.23 418.56L126.23 415.56" stroke="#3344ee" stroke-width="0.6" fill="none"/>
<circle cx="126.33" cy="417.06" r="2.25" fill="none" stroke="#00e41c" stroke-width="1.5"/>
<path d="M127.63 417.06L131.43 417.06M129.53 415.16L129.53 418.96M128.16 415.69L130.90 418.43M128.16 418.43L130.90 415.69" stroke="#ff1a1a" stroke-width="0.9" fill="none"/>
<path d="M135.75 415.26L138.75 418.26M135.75 418.26L138.75 415.26" stroke="#3344ee" stroke-width="0.6" fill="none"/>
<circle cx="138.84" cy="416.76" r="2.25" fill="none" stroke="#00e41c" stroke-width="1.5"/>
<path d="M140.14 416.76L143.94 416.76M142.04 414.87L142.04 418.66M140.68 415.40L143.41 418.13M140.68 418.13L143.41 415.40" stroke="#ff1a1a" stroke-width="0.9" fill="none"/>
<path d="M148.26 414.97L151.26 417.97M148.26 417.97L151.26 414.97" stroke="#3344ee" stroke-width="0.6" fill="none"/>
<circle cx="151.36" cy="416.47" r="2.25" fill="none" stroke="#00e41c" stroke-width="1.5"/>
<path d="M152.66 416.47L156.46 416.47M154.56 414.57L154.56 418.37M153.19 415.10L155.93 417.84M153.19 417.84L155.93 415.10" stroke="#ff1a1a" stroke-width="0.9" fill="none"/>
<path d="M160.78 414.68L163.78 417.68M160.78 417.68L163.78 414.68" stroke="#3344ee" stroke-width="0.6" fill="none"/>
<circle cx="163.88" cy="416.18" r="2.25" fill="none" stroke="#00e41c" stroke-width="1.5"/>
<path d="M165.17 416.18L168.97 416.18M167.07 414.28L167.07 418.08M165.71 414.81L168.44 417.54M165.71 417.54L168.44 414.81" stroke="#ff1a1a" stroke-width="0.9" fill="none"/>
<path d="M173.29 414.38L176.29 417.38M173.29 417.38L176.29 414.38" stroke="#3344ee" stroke-width="0.6" fill="none"/>
<circle cx="176.39" cy="415.88" r="2.25" fill="none" stroke="#00e41c" stroke-width="1.5"/>
<path d="M177.69 415.88L181.49 415.88M179.59 413.98L179.59 417.78M178.22 414.51L180.96 417.25M178.22 417.25L180.96 414.51" stroke="#ff1a1a" stroke-width="0.9" fill="none"/>
<path d="M185.81 414.09L188.81 417.09M185.81 417.09L188.81 414.09" stroke="#3344ee" stroke-width="0.6" fill="none"/>
<circle cx="188.91" cy="415.59" r="2.25" fill="none" stroke="#00e41c" stroke-width="1.5"/>
<path d="M190.20 415.59L194.00 415.59M192.10 413.69L192.10 417.49M190.74 414.22L193.47 416.95M190.74 416.95L193.47 414.22" stroke="#ff1a1a" stroke-width="0.9" fill="none"/>
<path d="M198.32 413.79L201.32 416.79M198.32 416.79L201.32 413.79" stroke="#3344ee" stroke-width="0.6" fill="none"/>
<circle cx="201.42" cy="415.29" r="2.25" fill="none" stroke="#00e41c" stroke-width="1.5"/>
<path d="M202.72 415.29L206.52 415.29M204.62 413.39L204.62 417.19M203.25 413.92L205.99 416.66M203.25 416.66L205.99 413.92" stroke="#ff1a1a" stroke-width="0.9" fill="none"/>
<path d="M210.84 413.50L213.84 416.50M210.84 416.50L213.84 413.50" stroke="#3344ee" stroke-width="0.6" fill="none"/>
<circle cx="213.94" cy="415.00" r="2.25" fill="none" stroke="#00e41c" stroke-width="1.5"/>
<path d="M215.23 415.00L219.03 415.00M217.13 413.10L217.13 416.89M215.77 413.63L218.50 416.36M215.77 416.36L218.50 413.63" stroke="#ff1a1a" stroke-width="0.9" fill="none"/>
<path d="M223.35 413.20L226.35 416.20M223.35 416.20L226.35 413.20" stroke="#3344ee" stroke-width="0.6" fill="none"/>
<circle cx="226.45" cy="414.70" r="2.25" fill="none" stroke="#00e41c" stroke-width="1.5"/>
<path d="M227.75 414.70L231.55 414.70M229.65 412.80L229.65 416.60M228.28 413.33L231.02 416.07M228.28 416.07L231.02 413.33" stroke="#ff1a1a" stroke-width="0.9" fill="none"/>
<path d="M98.44 427.16L101.44 430.16M98.44 430.16L101.44 427.16" stroke="#3344ee" stroke-width="0.6" fill="none"/>
<circle cx="101.54" cy="428.66" r="2.25" fill="none" stroke="#00e41c" stroke-width="1.5"/>
<path d="M102.84 428.66L106.64 428.66M104.74 426.76L104.74 430.56M103.37 427.29L106.11 430.03M103.37 430.03L106.11 427.29" stroke="#ff1a1a" stroke-width="0.9" fill="none"/>
<path d="M110.96 426.86L113.96 429.86M110.96 429.86L113.96 426.86" stroke="#3344ee" stroke-width="0.6" fill="none"/>
<circle cx="114.06" cy="428.36" r="2.25" fill="none" stroke="#00e41c" stroke-width="1.5"/>
<path d="M115.36 428.36L119.16 428.36M117.26 426.46L117.26 430.26M115.89 426.99L118.63 429.73M115.89 429.73L118.63 426.99" stroke="#ff1a1a" stroke-width="0.9" fill="none"/>
<path d="M123.48 426.56L126.48 429.56M123.48 429.56L126.48 426.56" stroke="#3344ee" stroke-width="0.6" fill="none"/>
<circle cx="126.58" cy="428.06" r="2.25" fill="none" stroke="#00e41c" stroke-width="1.5"/>
<path d="M127.88 428.06L131.68 428.06M129.78 426.16L129.78 429.96M128.41 426.70L131.14 429.43M128.41 429.43L131.14 426.70" stroke="#ff1a1a" stroke-width="0.9" fill="none"/>
<path d="M135.99 426.27L138.99 429.27M135.99 429.27L138.99 426.27" stroke="#3344ee" stroke-width="0.6" fill="none"/>
<circle cx="139.09" cy="427.77" r="2.25" fill="none" stroke="#00e41c" stroke-width="1.5"/>
<path d="M140.39 427.77L144.19 427.77M142.29 425.87L142.29 429.67M140.93 426.40L143.66 429.13M140.93 429.13L143.66 426.40" stroke="#ff1a1a" stroke-width="0.9" fill="none"/>
<path d="M148.51 425.97L151.51 428.97M148.51 428.97L151.51 425.97" stroke="#3344ee" stroke-width="0.6" fill="none"/>
<circle cx="151.61" cy="427.47" r="2.25" fill="none" stroke="#00e41c" stroke-width="1.5"/>
<path d="M152.91 427.47L156.71 427.47M154.81 425.57L154.81 429.37M153.44 426.10L156.18 428.84M153.44 428.84L156.18 426.10" stroke="#ff1a1a" stroke-width="0.9" fill="none"/>
<path d="M161.03 425.67L164.03 428.67M161.03 428.67L164.03 425.67" stroke="#3344ee" stroke-width="0.6" fill="none"/>
<circle cx="164.13" cy="427.17" r="2.25" fill="none" stroke="#00e41c" stroke-width="1.5"/>
<path d="M165.43 427.17L169.23 427.17M167.33 425.27L167.33 429.07M165.96 425.80L168.70 428.54M165.96 428.54L168.70 425.80" stroke="#ff1a1a" stroke-width="0.9" fill="none"/>
<path d="M173.55 425.37L176.55 428.37M173.55 428.37L176.55 425.37" stroke="#3344ee" stroke-width="0.6" fill="none"/>
<circle cx="176.65" cy="426.87" r="2.25" fill="none" stroke="#00e41c" stroke-width="1.5"/>
<path d="M177.95 426.87L181.75 426.87M179.85 424.97L179.85 428.77M178.48 425.50L181.22 428.24M178.48 428.24L181.22 425.50" stroke="#ff1a1a" stroke-width="0.9" fill="none"/>
<path d="M186.07 425.07L189.07 428.07M186.07 428.07L189.07 425.07" stroke="#3344ee" stroke-width="0.6" fill="none"/>
<circle cx="189.17" cy="426.57" r="2.25" fill="none" stroke="#00e41c" stroke-width="1.5"/>
<path d="M190.47 426.57L194.27 426.57M192.37 424.67L192.37 428.47M191.00 425.21L193.73 427.94M191.00 427.94L193.73 425.21" stroke="#ff1a1a" stroke-width="0.9" fill="none"/>
<path d="M198.58 424.78L201.58 427.78M198.58 427.78L201.58 424.78" stroke="#3344ee" stroke-width="0.6" fill="none"/>
<circle cx="201.68" cy="426.28" r="2.25" fill="none" stroke="#00e41c" stroke-width="1.5"/>
<path d="M202.98 426.28L206.78 426.28M204.88 424.38L204.88 428.18M203.52 424.91L206.25 427.64M203.52 427.64L206.25 424.91" stroke="#ff1a1a" stroke-width="0.9" fill="none"/>
<path d="M211.10 424.48L214.10 427.48M211.10 427.48L214.10 424.48" stroke="#3344ee" stroke-width="0.6" fill="none"/>
<circle cx="214.20" cy="425.98" r="2.25" fill="none" stroke="#00e41c" stroke-width="1.5"/>
<path d="M215.50 425.98L219.30 425.98M217.40 424.08L217.40 427.88M216.03 424.61L218.77 427.35M216.03 427.35L218.77 424.61" stroke="#ff1a1a" stroke-width="0.9" fill="none"/>
<path d="M223.62 424.18L226.62 427.18M223.62 427.18L226.62 424.18" stroke="#3344ee" stroke-width="0.6" fill="none"/>
<circle cx="226.72" cy="425.68" r="2.25" fill="none" stroke="#00e41c" stroke-width="1.5"/>
<path d="M228.02 425.68L231.82 425.68M229.92 423.78L229.92 427.58M228.55 424.31L231.29 427.05M228.55 427.05L231.29 424.31" stroke="#ff1a1a" stroke-width="0.9" fill="none"/>
<path d="M98.68 438.17L101.68 441.17M98.68 441.17L101.68 438.17" stroke="#3344ee" stroke-width="0.6" fill="none"/>
<circle cx="101.78" cy="439.67" r="2.25" fill="none" stroke="#00e41c" stroke-width="1.5"/>
<path d="M103.08 439.67L106.88 439.67M104.98 437.77L104.98 441.57M103.61 438.30L106.35 441.04M103.61 441.04L106.35 438.30" stroke="#ff1a1a" stroke-width="0.9" fill="none"/>
<path d="M111.20 437.87L114.20 440.87M111.20 440.87L114.20 437.87" stroke="#3344ee" stroke-width="0.6" fill="none"/>
<circle cx="114.30" cy="439.37" r="2.25" fill="none" stroke="#00e41c" stroke-width="1.5"/>
<path d="M115.60 439.37L119.40 439.37M117.50 437.47L117.50 441.27M116.13 438.00L118.87 440.74M116.13 440.74L118.87 438.00" stroke="#ff1a1a" stroke-width="0.9" fill="none"/>
<path d="M123.72 437.57L126.72 440.57M123.72 440.57L126.72 437.57" stroke="#3344ee" stroke-width="0.6" fill="none"/>
<circle cx="126.82" cy="439.07" r="2.25" fill="none" stroke="#00e41c" stroke-width="1.5"/>
<path d="M128.12 439.07L131.92 439.07M130.02 437.17L130.02 440.97M128.65 437.70L131.39 440.44M128.65 440.44L131.39 437.70" stroke="#ff1a1a" stroke-width="0.9" fill="none"/>
<path d="M136.24 437.27L139.24 440.27M136.24 440.27L139.24 437.27" stroke="#3344ee" stroke-width="0.6" fill="none"/>
<circle cx="139.34" cy="438.77" r="2.25" fill="none" stroke="#00e41c" stroke-width="1.5"/>
<path d="M140.64 438.77L144.44 438.77M142.54 436.87L142.54 440.67M141.17 437.40L143.91 440.13M141.17 440.13L143.91 437.40" stroke="#ff1a1a" stroke-width="0.9" fill="none"/>
<path d="M148.76 436.97L151.76 439.97M148.76 439.97L151.76 436.97" stroke="#3344ee" stroke-width="0.6" fill="none"/>
<circle cx="151.86" cy="438.47" r="2.25" fill="none" stroke="#00e41c" stroke-width="1.5"/>
<path d="M153.16 438.47L156.96 438.47M155.06 436.57L155.06 440.37M153.70 437.10L156.43 439.83M153.70 439.83L156.43 437.10" stroke="#ff1a1a" stroke-width="0.9" fill="none"/>
<path d="M161.28 436.66L164.28 439.66M161.28 439.66L164.28 436.66" stroke="#3344ee" stroke-width="0.6" fill="none"/>
<circle cx="164.38" cy="438.16" r="2.25" fill="none" stroke="#00e41c" stroke-width="1.5"/>
<path d="M165.68 438.16L169.48 438.16M167.58 436.26L167.58 440.06M166.22 436.80L168.95 439.53M166.22 439.53L168.95 436.80" stroke="#ff1a1a" stroke-width="0.9" fill="none"/>
<path d="M173.81 436.36L176.81 439.36M173.81 439.36L176.81 436.36" stroke="#3344ee" stroke-width="0.6" fill="none"/>
<circle cx="176.91" cy="437.86" r="2.25" fill="none" stroke="#00e41c" stroke-width="1.5"/>
<path d="M178.21 437.86L182.01 437.86M180.11 435.96L180.11 439.76M178.74 436.50L181.47 439.23M178.74 439.23L181.47 436.50" stroke="#ff1a1a" stroke-width="0.9" fill="none"/>
<path d="M186.33 436.06L189.33 439.06M186.33 439.06L189.33 436.06" stroke="#3344ee" stroke-width="0.6" fill="none"/>
<circle cx="189.43" cy="437.56" r="2.25" fill="none" stroke="#00e41c" stroke-width="1.5"/>
<path d="M190.73 437.56L194.53 437.56M192.63 435.66L192.63 439.46M191.26 436.19L193.99 438.93M191.26 438.93L193.99 436.19" stroke="#ff1a1a" stroke-width="0.9" fill="none"/>
<path d="M198.85 435.76L201.85 438.76M198.85 438.76L201.85 435.76" stroke="#3344ee" stroke-width="0.6" fill="none"/>
<circle cx="201.95" cy="437.26" r="2.25" fill="none" stroke="#00e41c" stroke-width="1.5"/>
<path d="M203.25 437.26L207.05 437.26M205.15 435.36L205.15 439.16M203.78 435.89L206.52 438.63M203.78 438.63L206.52 435.89" stroke="#ff1a1a" stroke-width="0.9" fill="none"/>
<path d="M211.37 435.46L214.37 438.46M211.37 438.46L214.37 435.46" stroke="#3344ee" stroke-width="0.6" fill="none"/>
<circle cx="214.47" cy="436.96" r="2.25" fill="none" stroke="#00e41c" stroke-width="1.5"/>
<path d="M215.77 436.96L219.57 436.96M217.67 435.06L217.67 438.86M216.30 435.59L219.04 438.33M216.30 438.33L219.04 435.59" stroke="#ff1a1a" stroke-width="0.9" fill="none"/>
<path d="M223.89 435.16L226.89 438.16M223.89 438.16L226.89 435.16" stroke="#3344ee" stroke-width="0.6" fill="none"/>
<circle cx="226.99" cy="436.66" r="2.25" fill="none" stroke="#00e41c" stroke-width="1.5"/>
<path d="M228.29 436.66L232.09 436.66M230.19 434.76L230.19 438.56M228.82 435.29L231.56 438.03M228.82 438.03L231.56 435.29" stroke="#ff1a1a" stroke-width="0.9" fill="none"/>
<path d="M98.92 449.18L101.92 452.18M98.92 452.18L101.92 449.18" stroke="#3344ee" stroke-width="0.6" fill="none"/>
<circle cx="102.02" cy="450.68" r="2.25" fill="none" stroke="#00e41c" stroke-width="1.5"/>
<path d="M103.32 450.68L107.12 450.68M105.22 448.78L105.22 452.58M103.85 449.31L106.59 452.05M103.85 452.05L106.59 449.31" stroke="#ff1a1a" stroke-width="0.9" fill="none"/>
<path d="M111.44 448.88L114.44 451.88M111.44 451.88L114.44 448.88" stroke="#3344ee" stroke-width="0.6" fill="none"/>
<circle cx="114.54" cy="450.38" r="2.25" fill="none" stroke="#00e41c" stroke-width="1.5"/>
<path d="M115.84 450.38L119.64 450.38M117.74 448.48L117.74 452.28M116.38 449.01L119.11 451.74M116.38 451.74L119.11 449.01" stroke="#ff1a1a" stroke-width="0.9" fill="none"/>
<path d="M123.97 448.57L126.97 451.57M123.97 451.57L126.97 448.57" stroke="#3344ee" stroke-width="0.6" fill="none"/>
<circle cx="127.07" cy="450.07" r="2.25" fill="none" stroke="#00e41c" stroke-width="1.5"/>
<path d="M128.37 450.07L132.17 450.07M130.27 448.17L130.27 451.97M128.90 448.70L131.64 451.44M128.90 451.44L131.64 448.70" stroke="#ff1a1a" stroke-width="0.9" fill="none"/>
<path d="M136.49 448.27L139.49 451.27M136.49 451.27L139.49 448.27" stroke="#3344ee" stroke-width="0.6" fill="none"/>
<circle cx="139.59" cy="449.77" r="2.25" fill="none" stroke="#00e41c" stroke-width="1.5"/>
<path d="M140.89 449.77L144.69 449.77M142.79 447.87L142.79 451.67M141.42 448.40L144.16 451.14M141.42 451.14L144.16 448.40" stroke="#ff1a1a" stroke-width="0.9" fill="none"/>
<path d="M149.02 447.96L152.02 450.96M149.02 450.96L152.02 447.96" stroke="#3344ee" stroke-width="0.6" fill="none"/>
<circle cx="152.12" cy="449.46" r="2.25" fill="none" stroke="#00e41c" stroke-width="1.5"/>
<path d="M153.42 449.46L157.22 449.46M155.32 447.56L155.32 451.36M153.95 448.10L156.68 450.83M153.95 450.83L156.68 448.10" stroke="#ff1a1a" stroke-width="0.9" fill="none"/>
<path d="M161.54 447.66L164.54 450.66M161.54 450.66L164.54 447.66" stroke="#3344ee" stroke-width="0.6" fill="none"/>
<circle cx="164.64" cy="449.16" r="2.25" fill="none" stroke="#00e41c" stroke-width="1.5"/>
<path d="M165.94 449.16L169.74 449.16M167.84 447.26L167.84 451.06M166.47 447.79L169.21 450.53M166.47 450.53L169.21 447.79" stroke="#ff1a1a" stroke-width="0.9" fill="none"/>
<path d="M174.06 447.36L177.06 450.36M174.06 450.36L177.06 447.36" stroke="#3344ee" stroke-width="0.6" fill="none"/>
<circle cx="177.16" cy="448.86" r="2.25" fill="none" stroke="#00e41c" stroke-width="1.5"/>
<path d="M178.46 448.86L182.26 448.86M180.36 446.96L180.36 450.76M179.00 447.49L181.73 450.22M179.00 450.22L181.73 447.49" stroke="#ff1a1a" stroke-width="0.9" fill="none"/>
<path d="M186.59 447.05L189.59 450.05M186.59 450.05L189.59 447.05" stroke="#3344ee" stroke-width="0.6" fill="none"/>
<circle cx="189.69" cy="448.55" r="2.25" fill="none" stroke="#00e41c" stroke-width="1.5"/>
<path d="M190.99 448.55L194.79 448.55M192.89 446.65L192.89 450.45M191.52 447.18L194.26 449.92M191.52 449.92L194.26 447.18" stroke="#ff1a1a" stroke-width="0.9" fill="none"/>
<path d="M199.11 446.75L202.11 449.75M199.11 449.75L202.11 446.75" stroke="#3344ee" stroke-width="0.6" fill="none"/>
<circle cx="202.21" cy="448.25" r="2.25" fill="none" stroke="#00e41c" stroke-width="1.5"/>
<path d="M203.51 448.25L207.31 448.25M205.41 446.35L205.41 450.15M204.04 446.88L206.78 449.62M204.04 449.62L206.78 446.88" stroke="#ff1a1a" stroke-width="0.9" fill="none"/>
<path d="M211.64 446.44L214.64 449.44M211.64 449.44L214.64 446.44" stroke="#3344ee" stroke-width="0.6" fill="none"/>
<circle cx="214.74" cy="447.94" r="2.25" fill="none" stroke="#00e41c" stroke-width="1.5"/>
<path d="M216.04 447.94L219.84 447.94M217.94 446.04L217.94 449.84M216.57 446.58L219.30 449.31M216.57 449.31L219.30 446.58" stroke="#ff1a1a" stroke-width="0.9" fill="none"/>
<path d="M224.16 446.14L227.16 449.14M224.16 449.14L227.16 446.14" stroke="#3344ee" stroke-width="0.6" fill="none"/>
<circle cx="227.26" cy="447.64" r="2.25" fill="none" stroke="#00e41c" stroke-width="1.5"/>
<path d="M228.56 447.64L232.36 447.64M230.46 445.74L230.46 449.54M229.09 446.27L231.83 449.01M229.09 449.01L231.83 446.27" stroke="#ff1a1a" stroke-width="0.9" fill="none"/>
<path d="M99.16 460.19L102.16 463.19M99.16 463.19L102.16 460.19" stroke="#3344ee" stroke-width="0.6" fill="none"/>
<circle cx="102.26" cy="461.69" r="2.25" fill="none" stroke="#00e41c" stroke-width="1.5"/>
<path d="M103.56 461.69L107.36 461.69M105.46 459.79L105.46 463.59M104.09 460.32L106.83 463.06M104.09 463.06L106.83 460.32" stroke="#ff1a1a" stroke-width="0.9" fill="none"/>
<path d="M111.69 459.88L114.69 462.88M111.69 462.88L114.69 459.88" stroke="#3344ee" stroke-width="0.6" fill="none"/>
<circle cx="114.79" cy="461.38" r="2.25" fill="none" stroke="#00e41c" stroke-width="1.5"/>
<path d="M116.09 461.38L119.89 461.38M117.99 459.48L117.99 463.28M116.62 460.01L119.36 462.75M116.62 462.75L119.36 460.01" stroke="#ff1a1a" stroke-width="0.9" fill="none"/>
<path d="M124.21 459.58L127.21 462.58M124.21 462.58L127.21 459.58" stroke="#3344ee" stroke-width="0.6" fill="none"/>
<circle cx="127.31" cy="461.08" r="2.25" fill="none" stroke="#00e41c" stroke-width="1.5"/>
<path d="M128.61 461.08L132.41 461.08M130.51 459.18L130.51 462.98M129.15 459.71L131.88 462.44M129.15 462.44L131.88 459.71" stroke="#ff1a1a" stroke-width="0.9" fill="none"/>
<path d="M136.74 459.27L139.74 462.27M136.74 462.27L139.74 459.27" stroke="#3344ee" stroke-width="0.6" fill="none"/>
<circle cx="139.84" cy="460.77" r="2.25" fill="none" stroke="#00e41c" stroke-width="1.5"/>
<path d="M141.14 460.77L144.94 460.77M143.04 458.87L143.04 462.67M141.67 459.40L144.41 462.14M141.67 462.14L144.41 459.40" stroke="#ff1a1a" stroke-width="0.9" fill="none"/>
<path d="M149.27 458.96L152.27 461.96M149.27 461.96L152.27 458.96" stroke="#3344ee" stroke-width="0.6" fill="none"/>
<circle cx="152.37" cy="460.46" r="2.25" fill="none" stroke="#00e41c" stroke-width="1.5"/>
<path d="M153.67 460.46L157.47 460.46M155.57 458.56L155.57 462.36M154.20 459.09L156.94 461.83M154.20 461.83L156.94 459.09" stroke="#ff1a1a" stroke-width="0.9" fill="none"/>
<path d="M161.80 458.65L164.80 461.65M161.80 461.65L164.80 458.65" stroke="#3344ee" stroke-width="0.6" fill="none"/>
<circle cx="164.90" cy="460.15" r="2.25" fill="none" stroke="#00e41c" stroke-width="1.5"/>
<path d="M166.19 460.15L170.00 460.15M168.09 458.25L168.09 462.05M166.73 458.79L169.46 461.52M166.73 461.52L169.46 458.79" stroke="#ff1a1a" stroke-width="0.9" fill="none"/>
<path d="M174.32 458.35L177.32 461.35M174.32 461.35L177.32 458.35" stroke="#3344ee" stroke-width="0.6" fill="none"/>
<circle cx="177.42" cy="459.85" r="2.25" fill="none" stroke="#00e41c" stroke-width="1.5"/>
<path d="M178.72 459.85L182.52 459.85M180.62 457.95L180.62 461.75M179.25 458.48L181.99 461.22M179.25 461.22L181.99 458.48" stroke="#ff1a1a" stroke-width="0.9" fill="none"/>
<path d="M186.85 458.04L189.85 461.04M186.85 461.04L189.85 458.04" stroke="#3344ee" stroke-width="0.6" fill="none"/>
<circle cx="189.95" cy="459.54" r="2.25" fill="none" stroke="#00e41c" stroke-width="1.5"/>
<path d="M191.25 459.54L195.05 459.54M193.15 457.64L193.15 461.44M191.78 458.17L194.52 460.91M191.78 460.91L194.52 458.17" stroke="#ff1a1a" stroke-width="0.9" fill="none"/>
<path d="M199.38 457.73L202.38 460.73M199.38 460.73L202.38 457.73" stroke="#3344ee" stroke-width="0.6" fill="none"/>
<circle cx="202.48" cy="459.23" r="2.25" fill="none" stroke="#00e41c" stroke-width="1.5"/>
<path d="M203.78 459.23L207.58 459.23M205.68 457.33L205.68 461.13M204.31 457.87L207.04 460.60M204.31 460.60L207.04 457.87" stroke="#ff1a1a" stroke-width="0.9" fill="none"/>
<path d="M211.90 457.43L214.90 460.43M211.90 460.43L214.90 457.43" stroke="#3344ee" stroke-width="0.6" fill="none"/>
<circle cx="215.00" cy="458.93" r="2.25" fill="none" stroke="#00e41c" stroke-width="1.5"/>
<path d="M216.30 458.93L220.10 458.93M218.20 457.03L218.20 460.83M216.84 457.56L219.57 460.30M216.84 460.30L219.57 457.56" stroke="#ff1a1a" stroke-width="0.9" fill="none"/>
<path d="M224.43 457.12L227.43 460.12M224.43 460.12L227.43 457.12" stroke="#3344ee" stroke-width="0.6" fill="none"/>
<circle cx="227.53" cy="458.62" r="2.25" fill="none" stroke="#00e41c" stroke-width="1.5"/>
<path d="M228.83 458.62L232.63 458.62M230.73 456.72L230.73 460.52M229.36 457.25L232.10 459.99M229.36 459.99L232.10 457.25" stroke="#ff1a1a" stroke-width="0.9" fill="none"/>
<path d="M99.40 471.20L102.40 474.20M99.40 474.20L102.40 471.20" stroke="#3344ee" stroke-width="0.6" fill="none"/>
<circle cx="102.50" cy="472.70" r="2.25" fill="none" stroke="#00e41c" stroke-width="1.5"/>
<path d="M103.80 472.70L107.60 472.70M105.70 470.80L105.70 474.60M104.33 471.33L107.07 474.07M104.33 474.07L107.07 471.33" stroke="#ff1a1a" stroke-width="0.9" fill="none"/>
<path d="M111.93 470.89L114.93 473.89M111.93 473.89L114.93 470.89" stroke="#3344ee" stroke-width="0.6" fill="none"/>
<circle cx="115.03" cy="472.39" r="2.25" fill="none" stroke="#00e41c" stroke-width="1.5"/>
<path d="M116.33 472.39L120.13 472.39M118.23 470.49L118.23 474.29M116.86 471.02L119.60 473.76M116.86 473.76L119.60 471.02" stroke="#ff1a1a" stroke-width="0.9" fill="none"/>
<path d="M124.46 470.58L127.46 473.58M124.46 473.58L127.46 470.58" stroke="#3344ee" stroke-width="0.6" fill="none"/>
<circle cx="127.56" cy="472.08" r="2.25" fill="none" stroke="#00e41c" stroke-width="1.5"/>
<path d="M128.86 472.08L132.66 472.08M130.76 470.18L130.76 473.98M129.39 470.71L132.13 473.45M129.39 473.45L132.13 470.71" stroke="#ff1a1a" stroke-width="0.9" fill="none"/>
<path d="M136.99 470.27L139.99 473.27M136.99 473.27L139.99 470.27" stroke="#3344ee" stroke-width="0.6" fill="none"/>
<circle cx="140.09" cy="471.77" r="2.25" fill="none" stroke="#00e41c" stroke-width="1.5"/>
<path d="M141.39 471.77L145.19 471.77M143.29 469.87L143.29 473.67M141.92 470.40L144.66 473.14M141.92 473.14L144.66 470.40" stroke="#ff1a1a" stroke-width="0.9" fill="none"/>
<path d="M149.52 469.96L152.52 472.96M149.52 472.96L152.52 469.96" stroke="#3344ee" stroke-width="0.6" fill="none"/>
<circle cx="152.62" cy="471.46" r="2.25" fill="none" stroke="#00e41c" stroke-width="1.5"/>
<path d="M153.92 471.46L157.72 471.46M155.82 469.56L155.82 473.36M154.45 470.09L157.19 472.83M154.45 472.83L157.19 470.09" stroke="#ff1a1a" stroke-width="0.9" fill="none"/>
<path d="M162.05 469.65L165.05 472.65M162.05 472.65L165.05 469.65" stroke="#3344ee" stroke-width="0.6" fill="none"/>
<circle cx="165.15" cy="471.15" r="2.25" fill="none" stroke="#00e41c" stroke-width="1.5"/>
<path d="M166.45 471.15L170.25 471.15M168.35 469.25L168.35 473.05M166.98 469.78L169.72 472.52M166.98 472.52L169.72 469.78" stroke="#ff1a1a" stroke-width="0.9" fill="none"/>
<path d="M174.58 469.34L177.58 472.34M174.58 472.34L177.58 469.34" stroke="#3344ee" stroke-width="0.6" fill="none"/>
<circle cx="177.68" cy="470.84" r="2.25" fill="none" stroke="#00e41c" stroke-width="1.5"/>
<path d="M178.98 470.84L182.78 470.84M180.88 468.94L180.88 472.74M179.51 469.47L182.25 472.21M179.51 472.21L182.25 469.47" stroke="#ff1a1a" stroke-width="0.9" fill="none"/>
<path d="M187.11 469.03L190.11 472.03M187.11 472.03L190.11 469.03" stroke="#3344ee" stroke-width="0.6" fill="none"/>
<circle cx="190.21" cy="470.53" r="2.25" fill="none" stroke="#00e41c" stroke-width="1.5"/>
<path d="M191.51 470.53L195.31 470.53M193.41 468.63L193.41 472.43M192.04 469.16L194.78 471.90M192.04 471.90L194.78 469.16" stroke="#ff1a1a" stroke-width="0.9" fill="none"/>
<path d="M199.64 468.72L202.64 471.72M199.64 471.72L202.64 468.72" stroke="#3344ee" stroke-width="0.6" fill="none"/>
<circle cx="202.74" cy="470.22" r="2.25" fill="none" stroke="#00e41c" stroke-width="1.5"/>
<path d="M204.04 470.22L207.84 470.22M205.94 468.32L205.94 472.12M204.57 468.85L207.31 471.59M204.57 471.59L207.31 468.85" stroke="#ff1a1a" stroke-width="0.9" fill="none"/>
<path d="M212.17 468.41L215.17 471.41M212.17 471.41L215.17 468.41" stroke="#3344ee" stroke-width="0.6" fill="none"/>
<circle cx="215.27" cy="469.91" r="2.25" fill="none" stroke="#00e41c" stroke-width="1.5"/>
<path d="M216.57 469.91L220.37 469.91M218.47 468.01L218.47 471.81M217.10 468.54L219.84 471.28M217.10 471.28L219.84 468.54" stroke="#ff1a1a" stroke-width="0.9" fill="none"/>
<path d="M224.70 468.10L227.70 471.10M224.70 471.10L227.70 468.10" stroke="#3344ee" stroke-width="0.6" fill="none"/>
<circle cx="227.80" cy="469.60" r="2.25" fill="none" stroke="#00e41c" stroke-width="1.5"/>
<path d="M229.10 469.60L232.90 469.60M231.00 467.70L231.00 471.50M229.63 468.23L232.37 470.97M229.63 470.97L232.37 468.23" stroke="#ff1a1a" stroke-width="0.9" fill="none"/>
<text x="280.00" y="311.90" font-size="13" font-family="'Liberation Serif', 'Times New Roman', serif" fill="#000" textLength="15.00" lengthAdjust="spacingAndGlyphs" stroke="#000" stroke-width="0.15">(c)</text>
<line x1="363.05" y1="345.20" x2="363.05" y2="496.50" stroke="#ebebeb" stroke-width="0.9" />
<line x1="407.80" y1="345.20" x2="407.80" y2="496.50" stroke="#ebebeb" stroke-width="0.9" />
<line x1="452.55" y1="345.20" x2="452.55" y2="496.50" stroke="#ebebeb" stroke-width="0.9" />
<line x1="497.30" y1="345.20" x2="497.30" y2="496.50" stroke="#ebebeb" stroke-width="0.9" />
<line x1="354.10" y1="458.68" x2="497.30" y2="458.68" stroke="#ebebeb" stroke-width="0.9" />
<line x1="354.10" y1="420.85" x2="497.30" y2="420.85" stroke="#ebebeb" stroke-width="0.9" />
<line x1="354.10" y1="383.02" x2="497.30" y2="383.02" stroke="#ebebeb" stroke-width="0.9" />
<line x1="354.10" y1="345.20" x2="497.30" y2="345.20" stroke="#ebebeb" stroke-width="0.9" />
<line x1="354.10" y1="345.20" x2="354.10" y2="497.00" stroke="#707070" stroke-width="1.1" />
<line x1="353.60" y1="496.50" x2="497.30" y2="496.50" stroke="#707070" stroke-width="1.1" />
<line x1="354.10" y1="496.50" x2="356.60" y2="496.50" stroke="#626262" stroke-width="1.0" />
<line x1="354.10" y1="458.68" x2="356.60" y2="458.68" stroke="#626262" stroke-width="1.0" />
<line x1="354.10" y1="420.85" x2="356.60" y2="420.85" stroke="#626262" stroke-width="1.0" />
<line x1="354.10" y1="383.02" x2="356.60" y2="383.02" stroke="#626262" stroke-width="1.0" />
<line x1="354.10" y1="345.20" x2="356.60" y2="345.20" stroke="#626262" stroke-width="1.0" />
<line x1="363.05" y1="496.50" x2="363.05" y2="494.00" stroke="#626262" stroke-width="1.0" />
<line x1="407.80" y1="496.50" x2="407.80" y2="494.00" stroke="#626262" stroke-width="1.0" />
<line x1="452.55" y1="496.50" x2="452.55" y2="494.00" stroke="#626262" stroke-width="1.0" />
<line x1="497.30" y1="496.50" x2="497.30" y2="494.00" stroke="#626262" stroke-width="1.0" />
<text x="349.20" y="350.10" font-size="12.2" font-family="'Liberation Sans', Arial, sans-serif" fill="#262626" text-anchor="end" textLength="19.13" lengthAdjust="spacingAndGlyphs" stroke="#262626" stroke-width="0.3">100</text>
<text x="349.20" y="387.92" font-size="12.2" font-family="'Liberation Sans', Arial, sans-serif" fill="#262626" text-anchor="end" textLength="12.75" lengthAdjust="spacingAndGlyphs" stroke="#262626" stroke-width="0.3">95</text>
<text x="349.20" y="425.75" font-size="12.2" font-family="'Liberation Sans', Arial, sans-serif" fill="#262626" text-anchor="end" textLength="12.75" lengthAdjust="spacingAndGlyphs" stroke="#262626" stroke-width="0.3">90</text>
<text x="349.20" y="463.57" font-size="12.2" font-family="'Liberation Sans', Arial, sans-serif" fill="#262626" text-anchor="end" textLength="12.75" lengthAdjust="spacingAndGlyphs" stroke="#262626" stroke-width="0.3">85</text>
<text x="349.20" y="501.40" font-size="12.2" font-family="'Liberation Sans', Arial, sans-serif" fill="#262626" text-anchor="end" textLength="12.75" lengthAdjust="spacingAndGlyphs" stroke="#262626" stroke-width="0.3">80</text>
<text x="362.85" y="513.80" font-size="12.2" font-family="'Liberation Sans', Arial, sans-serif" fill="#262626" text-anchor="middle" stroke="#262626" stroke-width="0.3">-160</text>
<text x="407.60" y="513.80" font-size="12.2" font-family="'Liberation Sans', Arial, sans-serif" fill="#262626" text-anchor="middle" stroke="#262626" stroke-width="0.3">-155</text>
<text x="452.35" y="513.80" font-size="12.2" font-family="'Liberation Sans', Arial, sans-serif" fill="#262626" text-anchor="middle" stroke="#262626" stroke-width="0.3">-150</text>
<text x="497.10" y="513.80" font-size="12.2" font-family="'Liberation Sans', Arial, sans-serif" fill="#262626" text-anchor="middle" stroke="#262626" stroke-width="0.3">-145</text>
<text x="318.90" y="511.70" font-size="10.8" font-family="'Liberation Sans', Arial, sans-serif" fill="#111" textLength="192.00" lengthAdjust="spacingAndGlyphs" transform="rotate(-90 318.90 511.70)" stroke="#111" stroke-width="0.25">LCD displays horizontal fringe phase/rad</text>
<text x="341.90" y="540.50" font-size="10.8" font-family="'Liberation Sans', Arial, sans-serif" fill="#111" textLength="178.50" lengthAdjust="spacingAndGlyphs" stroke="#111" stroke-width="0.25">LCD displays vertical fringe phase/rad</text>
<path d="M354.20 364.10L357.20 367.10M354.20 367.10L357.20 364.10" stroke="#3344ee" stroke-width="0.6" fill="none"/>
<circle cx="357.10" cy="365.60" r="2.25" fill="none" stroke="#00e41c" stroke-width="1.5"/>
<path d="M358.20 365.60L361.80 365.60M360.00 363.80L360.00 367.40M358.70 364.30L361.30 366.90M358.70 366.90L361.30 364.30" stroke="#ff1a1a" stroke-width="0.9" fill="none"/>
<path d="M366.67 363.98L369.67 366.98M366.67 366.98L369.67 363.98" stroke="#3344ee" stroke-width="0.6" fill="none"/>
<circle cx="369.57" cy="365.48" r="2.25" fill="none" stroke="#00e41c" stroke-width="1.5"/>
<path d="M370.67 365.48L374.27 365.48M372.47 363.68L372.47 367.28M371.17 364.18L373.77 366.78M371.17 366.78L373.77 364.18" stroke="#ff1a1a" stroke-width="0.9" fill="none"/>
<path d="M379.14 363.86L382.14 366.86M379.14 366.86L382.14 363.86" stroke="#3344ee" stroke-width="0.6" fill="none"/>
<circle cx="382.04" cy="365.36" r="2.25" fill="none" stroke="#00e41c" stroke-width="1.5"/>
<path d="M383.14 365.36L386.74 365.36M384.94 363.56L384.94 367.16M383.64 364.06L386.24 366.66M383.64 366.66L386.24 364.06" stroke="#ff1a1a" stroke-width="0.9" fill="none"/>
<path d="M391.61 363.74L394.61 366.74M391.61 366.74L394.61 363.74" stroke="#3344ee" stroke-width="0.6" fill="none"/>
<circle cx="394.51" cy="365.24" r="2.25" fill="none" stroke="#00e41c" stroke-width="1.5"/>
<path d="M395.61 365.24L399.21 365.24M397.41 363.44L397.41 367.04M396.11 363.94L398.71 366.54M396.11 366.54L398.71 363.94" stroke="#ff1a1a" stroke-width="0.9" fill="none"/>
<path d="M404.08 363.62L407.08 366.62M404.08 366.62L407.08 363.62" stroke="#3344ee" stroke-width="0.6" fill="none"/>
<circle cx="406.98" cy="365.12" r="2.25" fill="none" stroke="#00e41c" stroke-width="1.5"/>
<path d="M408.08 365.12L411.68 365.12M409.88 363.32L409.88 366.92M408.58 363.82L411.18 366.42M408.58 366.42L411.18 363.82" stroke="#ff1a1a" stroke-width="0.9" fill="none"/>
<path d="M416.55 363.50L419.55 366.50M416.55 366.50L419.55 363.50" stroke="#3344ee" stroke-width="0.6" fill="none"/>
<circle cx="419.45" cy="365.00" r="2.25" fill="none" stroke="#00e41c" stroke-width="1.5"/>
<path d="M420.55 365.00L424.15 365.00M422.35 363.20L422.35 366.80M421.05 363.70L423.65 366.30M421.05 366.30L423.65 363.70" stroke="#ff1a1a" stroke-width="0.9" fill="none"/>
<path d="M429.02 363.38L432.02 366.38M429.02 366.38L432.02 363.38" stroke="#3344ee" stroke-width="0.6" fill="none"/>
<circle cx="431.92" cy="364.88" r="2.25" fill="none" stroke="#00e41c" stroke-width="1.5"/>
<path d="M433.02 364.88L436.62 364.88M434.82 363.08L434.82 366.68M433.52 363.58L436.12 366.18M433.52 366.18L436.12 363.58" stroke="#ff1a1a" stroke-width="0.9" fill="none"/>
<path d="M441.49 363.26L444.49 366.26M441.49 366.26L444.49 363.26" stroke="#3344ee" stroke-width="0.6" fill="none"/>
<circle cx="444.39" cy="364.76" r="2.25" fill="none" stroke="#00e41c" stroke-width="1.5"/>
<path d="M445.49 364.76L449.09 364.76M447.29 362.96L447.29 366.56M445.99 363.46L448.59 366.06M445.99 366.06L448.59 363.46" stroke="#ff1a1a" stroke-width="0.9" fill="none"/>
<path d="M453.96 363.14L456.96 366.14M453.96 366.14L456.96 363.14" stroke="#3344ee" stroke-width="0.6" fill="none"/>
<circle cx="456.86" cy="364.64" r="2.25" fill="none" stroke="#00e41c" stroke-width="1.5"/>
<path d="M457.96 364.64L461.56 364.64M459.76 362.84L459.76 366.44M458.46 363.34L461.06 365.94M458.46 365.94L461.06 363.34" stroke="#ff1a1a" stroke-width="0.9" fill="none"/>
<path d="M466.43 363.02L469.43 366.02M466.43 366.02L469.43 363.02" stroke="#3344ee" stroke-width="0.6" fill="none"/>
<circle cx="469.33" cy="364.52" r="2.25" fill="none" stroke="#00e41c" stroke-width="1.5"/>
<path d="M470.43 364.52L474.03 364.52M472.23 362.72L472.23 366.32M470.93 363.22L473.53 365.82M470.93 365.82L473.53 363.22" stroke="#ff1a1a" stroke-width="0.9" fill="none"/>
<path d="M478.90 362.90L481.90 365.90M478.90 365.90L481.90 362.90" stroke="#3344ee" stroke-width="0.6" fill="none"/>
<circle cx="481.80" cy="364.40" r="2.25" fill="none" stroke="#00e41c" stroke-width="1.5"/>
<path d="M482.90 364.40L486.50 364.40M484.70 362.60L484.70 366.20M483.40 363.10L486.00 365.70M483.40 365.70L486.00 363.10" stroke="#ff1a1a" stroke-width="0.9" fill="none"/>
<path d="M354.53 374.81L357.53 377.81M354.53 377.81L357.53 374.81" stroke="#3344ee" stroke-width="0.6" fill="none"/>
<circle cx="357.43" cy="376.31" r="2.25" fill="none" stroke="#00e41c" stroke-width="1.5"/>
<path d="M358.53 376.31L362.13 376.31M360.33 374.51L360.33 378.11M359.03 375.01L361.63 377.61M359.03 377.61L361.63 375.01" stroke="#ff1a1a" stroke-width="0.9" fill="none"/>
<path d="M367.00 374.69L370.00 377.69M367.00 377.69L370.00 374.69" stroke="#3344ee" stroke-width="0.6" fill="none"/>
<circle cx="369.90" cy="376.19" r="2.25" fill="none" stroke="#00e41c" stroke-width="1.5"/>
<path d="M371.00 376.19L374.60 376.19M372.80 374.39L372.80 377.99M371.50 374.89L374.09 377.48M371.50 377.48L374.09 374.89" stroke="#ff1a1a" stroke-width="0.9" fill="none"/>
<path d="M379.46 374.57L382.46 377.57M379.46 377.57L382.46 374.57" stroke="#3344ee" stroke-width="0.6" fill="none"/>
<circle cx="382.36" cy="376.07" r="2.25" fill="none" stroke="#00e41c" stroke-width="1.5"/>
<path d="M383.46 376.07L387.06 376.07M385.26 374.27L385.26 377.87M383.97 374.77L386.56 377.36M383.97 377.36L386.56 374.77" stroke="#ff1a1a" stroke-width="0.9" fill="none"/>
<path d="M391.93 374.44L394.93 377.44M391.93 377.44L394.93 374.44" stroke="#3344ee" stroke-width="0.6" fill="none"/>
<circle cx="394.83" cy="375.94" r="2.25" fill="none" stroke="#00e41c" stroke-width="1.5"/>
<path d="M395.93 375.94L399.53 375.94M397.73 374.14L397.73 377.74M396.44 374.65L399.03 377.24M396.44 377.24L399.03 374.65" stroke="#ff1a1a" stroke-width="0.9" fill="none"/>
<path d="M404.40 374.32L407.40 377.32M404.40 377.32L407.40 374.32" stroke="#3344ee" stroke-width="0.6" fill="none"/>
<circle cx="407.30" cy="375.82" r="2.25" fill="none" stroke="#00e41c" stroke-width="1.5"/>
<path d="M408.40 375.82L412.00 375.82M410.20 374.02L410.20 377.62M408.90 374.53L411.49 377.12M408.90 377.12L411.49 374.53" stroke="#ff1a1a" stroke-width="0.9" fill="none"/>
<path d="M416.87 374.20L419.87 377.20M416.87 377.20L419.87 374.20" stroke="#3344ee" stroke-width="0.6" fill="none"/>
<circle cx="419.76" cy="375.70" r="2.25" fill="none" stroke="#00e41c" stroke-width="1.5"/>
<path d="M420.86 375.70L424.46 375.70M422.66 373.90L422.66 377.50M421.37 374.40L423.96 377.00M421.37 377.00L423.96 374.40" stroke="#ff1a1a" stroke-width="0.9" fill="none"/>
<path d="M429.33 374.08L432.33 377.08M429.33 377.08L432.33 374.08" stroke="#3344ee" stroke-width="0.6" fill="none"/>
<circle cx="432.23" cy="375.58" r="2.25" fill="none" stroke="#00e41c" stroke-width="1.5"/>
<path d="M433.33 375.58L436.93 375.58M435.13 373.78L435.13 377.38M433.84 374.28L436.43 376.87M433.84 376.87L436.43 374.28" stroke="#ff1a1a" stroke-width="0.9" fill="none"/>
<path d="M441.80 373.96L444.80 376.96M441.80 376.96L444.80 373.96" stroke="#3344ee" stroke-width="0.6" fill="none"/>
<circle cx="444.70" cy="375.46" r="2.25" fill="none" stroke="#00e41c" stroke-width="1.5"/>
<path d="M445.80 375.46L449.40 375.46M447.60 373.66L447.60 377.26M446.30 374.16L448.89 376.75M446.30 376.75L448.89 374.16" stroke="#ff1a1a" stroke-width="0.9" fill="none"/>
<path d="M454.27 373.83L457.27 376.83M454.27 376.83L457.27 373.83" stroke="#3344ee" stroke-width="0.6" fill="none"/>
<circle cx="457.17" cy="375.33" r="2.25" fill="none" stroke="#00e41c" stroke-width="1.5"/>
<path d="M458.27 375.33L461.87 375.33M460.07 373.53L460.07 377.13M458.77 374.04L461.36 376.63M458.77 376.63L461.36 374.04" stroke="#ff1a1a" stroke-width="0.9" fill="none"/>
<path d="M466.73 373.71L469.73 376.71M466.73 376.71L469.73 373.71" stroke="#3344ee" stroke-width="0.6" fill="none"/>
<circle cx="469.63" cy="375.21" r="2.25" fill="none" stroke="#00e41c" stroke-width="1.5"/>
<path d="M470.73 375.21L474.33 375.21M472.53 373.41L472.53 377.01M471.24 373.92L473.83 376.51M471.24 376.51L473.83 373.92" stroke="#ff1a1a" stroke-width="0.9" fill="none"/>
<path d="M479.20 373.59L482.20 376.59M479.20 376.59L482.20 373.59" stroke="#3344ee" stroke-width="0.6" fill="none"/>
<circle cx="482.10" cy="375.09" r="2.25" fill="none" stroke="#00e41c" stroke-width="1.5"/>
<path d="M483.20 375.09L486.80 375.09M485.00 373.29L485.00 376.89M483.70 373.79L486.30 376.39M483.70 376.39L486.30 373.79" stroke="#ff1a1a" stroke-width="0.9" fill="none"/>
<path d="M354.86 385.52L357.86 388.52M354.86 388.52L357.86 385.52" stroke="#3344ee" stroke-width="0.6" fill="none"/>
<circle cx="357.76" cy="387.02" r="2.25" fill="none" stroke="#00e41c" stroke-width="1.5"/>
<path d="M358.86 387.02L362.46 387.02M360.66 385.22L360.66 388.82M359.36 385.72L361.96 388.32M359.36 388.32L361.96 385.72" stroke="#ff1a1a" stroke-width="0.9" fill="none"/>
<path d="M367.32 385.40L370.32 388.40M367.32 388.40L370.32 385.40" stroke="#3344ee" stroke-width="0.6" fill="none"/>
<circle cx="370.22" cy="386.90" r="2.25" fill="none" stroke="#00e41c" stroke-width="1.5"/>
<path d="M371.32 386.90L374.92 386.90M373.12 385.10L373.12 388.70M371.83 385.60L374.42 388.19M371.83 388.19L374.42 385.60" stroke="#ff1a1a" stroke-width="0.9" fill="none"/>
<path d="M379.79 385.27L382.79 388.27M379.79 388.27L382.79 385.27" stroke="#3344ee" stroke-width="0.6" fill="none"/>
<circle cx="382.69" cy="386.77" r="2.25" fill="none" stroke="#00e41c" stroke-width="1.5"/>
<path d="M383.79 386.77L387.39 386.77M385.59 384.97L385.59 388.57M384.29 385.48L386.88 388.07M384.29 388.07L386.88 385.48" stroke="#ff1a1a" stroke-width="0.9" fill="none"/>
<path d="M392.25 385.15L395.25 388.15M392.25 388.15L395.25 385.15" stroke="#3344ee" stroke-width="0.6" fill="none"/>
<circle cx="395.15" cy="386.65" r="2.25" fill="none" stroke="#00e41c" stroke-width="1.5"/>
<path d="M396.25 386.65L399.85 386.65M398.05 384.85L398.05 388.45M396.76 385.35L399.35 387.94M396.76 387.94L399.35 385.35" stroke="#ff1a1a" stroke-width="0.9" fill="none"/>
<path d="M404.72 385.02L407.72 388.02M404.72 388.02L407.72 385.02" stroke="#3344ee" stroke-width="0.6" fill="none"/>
<circle cx="407.62" cy="386.52" r="2.25" fill="none" stroke="#00e41c" stroke-width="1.5"/>
<path d="M408.72 386.52L412.32 386.52M410.52 384.72L410.52 388.32M409.22 385.23L411.81 387.82M409.22 387.82L411.81 385.23" stroke="#ff1a1a" stroke-width="0.9" fill="none"/>
<path d="M417.18 384.90L420.18 387.90M417.18 387.90L420.18 384.90" stroke="#3344ee" stroke-width="0.6" fill="none"/>
<circle cx="420.08" cy="386.40" r="2.25" fill="none" stroke="#00e41c" stroke-width="1.5"/>
<path d="M421.18 386.40L424.78 386.40M422.98 384.60L422.98 388.20M421.68 385.10L424.28 387.70M421.68 387.70L424.28 385.10" stroke="#ff1a1a" stroke-width="0.9" fill="none"/>
<path d="M429.64 384.78L432.64 387.78M429.64 387.78L432.64 384.78" stroke="#3344ee" stroke-width="0.6" fill="none"/>
<circle cx="432.54" cy="386.28" r="2.25" fill="none" stroke="#00e41c" stroke-width="1.5"/>
<path d="M433.64 386.28L437.24 386.28M435.44 384.48L435.44 388.08M434.15 384.98L436.74 387.57M434.15 387.57L436.74 384.98" stroke="#ff1a1a" stroke-width="0.9" fill="none"/>
<path d="M442.11 384.65L445.11 387.65M442.11 387.65L445.11 384.65" stroke="#3344ee" stroke-width="0.6" fill="none"/>
<circle cx="445.01" cy="386.15" r="2.25" fill="none" stroke="#00e41c" stroke-width="1.5"/>
<path d="M446.11 386.15L449.71 386.15M447.91 384.35L447.91 387.95M446.61 384.86L449.20 387.45M446.61 387.45L449.20 384.86" stroke="#ff1a1a" stroke-width="0.9" fill="none"/>
<path d="M454.57 384.53L457.57 387.53M454.57 387.53L457.57 384.53" stroke="#3344ee" stroke-width="0.6" fill="none"/>
<circle cx="457.47" cy="386.03" r="2.25" fill="none" stroke="#00e41c" stroke-width="1.5"/>
<path d="M458.57 386.03L462.17 386.03M460.37 384.23L460.37 387.83M459.08 384.73L461.67 387.32M459.08 387.32L461.67 384.73" stroke="#ff1a1a" stroke-width="0.9" fill="none"/>
<path d="M467.04 384.40L470.04 387.40M467.04 387.40L470.04 384.40" stroke="#3344ee" stroke-width="0.6" fill="none"/>
<circle cx="469.94" cy="385.90" r="2.25" fill="none" stroke="#00e41c" stroke-width="1.5"/>
<path d="M471.04 385.90L474.64 385.90M472.84 384.10L472.84 387.70M471.54 384.61L474.13 387.20M471.54 387.20L474.13 384.61" stroke="#ff1a1a" stroke-width="0.9" fill="none"/>
<path d="M479.50 384.28L482.50 387.28M479.50 387.28L482.50 384.28" stroke="#3344ee" stroke-width="0.6" fill="none"/>
<circle cx="482.40" cy="385.78" r="2.25" fill="none" stroke="#00e41c" stroke-width="1.5"/>
<path d="M483.50 385.78L487.10 385.78M485.30 383.98L485.30 387.58M484.00 384.48L486.60 387.08M484.00 387.08L486.60 384.48" stroke="#ff1a1a" stroke-width="0.9" fill="none"/>
<path d="M355.19 396.23L358.19 399.23M355.19 399.23L358.19 396.23" stroke="#3344ee" stroke-width="0.6" fill="none"/>
<circle cx="358.09" cy="397.73" r="2.25" fill="none" stroke="#00e41c" stroke-width="1.5"/>
<path d="M359.19 397.73L362.79 397.73M360.99 395.93L360.99 399.53M359.69 396.43L362.29 399.03M359.69 399.03L362.29 396.43" stroke="#ff1a1a" stroke-width="0.9" fill="none"/>
<path d="M367.65 396.10L370.65 399.10M367.65 399.10L370.65 396.10" stroke="#3344ee" stroke-width="0.6" fill="none"/>
<circle cx="370.55" cy="397.60" r="2.25" fill="none" stroke="#00e41c" stroke-width="1.5"/>
<path d="M371.65 397.60L375.25 397.60M373.45 395.80L373.45 399.40M372.15 396.31L374.75 398.90M372.15 398.90L374.75 396.31" stroke="#ff1a1a" stroke-width="0.9" fill="none"/>
<path d="M380.11 395.98L383.11 398.98M380.11 398.98L383.11 395.98" stroke="#3344ee" stroke-width="0.6" fill="none"/>
<circle cx="383.01" cy="397.48" r="2.25" fill="none" stroke="#00e41c" stroke-width="1.5"/>
<path d="M384.11 397.48L387.71 397.48M385.91 395.68L385.91 399.28M384.62 396.18L387.21 398.77M384.62 398.77L387.21 396.18" stroke="#ff1a1a" stroke-width="0.9" fill="none"/>
<path d="M392.57 395.85L395.57 398.85M392.57 398.85L395.57 395.85" stroke="#3344ee" stroke-width="0.6" fill="none"/>
<circle cx="395.47" cy="397.35" r="2.25" fill="none" stroke="#00e41c" stroke-width="1.5"/>
<path d="M396.57 397.35L400.17 397.35M398.37 395.55L398.37 399.15M397.08 396.06L399.67 398.65M397.08 398.65L399.67 396.06" stroke="#ff1a1a" stroke-width="0.9" fill="none"/>
<path d="M405.03 395.73L408.03 398.73M405.03 398.73L408.03 395.73" stroke="#3344ee" stroke-width="0.6" fill="none"/>
<circle cx="407.93" cy="397.23" r="2.25" fill="none" stroke="#00e41c" stroke-width="1.5"/>
<path d="M409.03 397.23L412.63 397.23M410.83 395.43L410.83 399.03M409.54 395.93L412.13 398.52M409.54 398.52L412.13 395.93" stroke="#ff1a1a" stroke-width="0.9" fill="none"/>
<path d="M417.50 395.60L420.50 398.60M417.50 398.60L420.50 395.60" stroke="#3344ee" stroke-width="0.6" fill="none"/>
<circle cx="420.39" cy="397.10" r="2.25" fill="none" stroke="#00e41c" stroke-width="1.5"/>
<path d="M421.49 397.10L425.09 397.10M423.29 395.30L423.29 398.90M422.00 395.80L424.59 398.40M422.00 398.40L424.59 395.80" stroke="#ff1a1a" stroke-width="0.9" fill="none"/>
<path d="M429.96 395.47L432.96 398.47M429.96 398.47L432.96 395.47" stroke="#3344ee" stroke-width="0.6" fill="none"/>
<circle cx="432.86" cy="396.97" r="2.25" fill="none" stroke="#00e41c" stroke-width="1.5"/>
<path d="M433.96 396.97L437.56 396.97M435.76 395.17L435.76 398.77M434.46 395.68L437.05 398.27M434.46 398.27L437.05 395.68" stroke="#ff1a1a" stroke-width="0.9" fill="none"/>
<path d="M442.42 395.35L445.42 398.35M442.42 398.35L445.42 395.35" stroke="#3344ee" stroke-width="0.6" fill="none"/>
<circle cx="445.32" cy="396.85" r="2.25" fill="none" stroke="#00e41c" stroke-width="1.5"/>
<path d="M446.42 396.85L450.02 396.85M448.22 395.05L448.22 398.65M446.92 395.55L449.51 398.14M446.92 398.14L449.51 395.55" stroke="#ff1a1a" stroke-width="0.9" fill="none"/>
<path d="M454.88 395.22L457.88 398.22M454.88 398.22L457.88 395.22" stroke="#3344ee" stroke-width="0.6" fill="none"/>
<circle cx="457.78" cy="396.72" r="2.25" fill="none" stroke="#00e41c" stroke-width="1.5"/>
<path d="M458.88 396.72L462.48 396.72M460.68 394.92L460.68 398.52M459.38 395.43L461.97 398.02M459.38 398.02L461.97 395.43" stroke="#ff1a1a" stroke-width="0.9" fill="none"/>
<path d="M467.34 395.10L470.34 398.10M467.34 398.10L470.34 395.10" stroke="#3344ee" stroke-width="0.6" fill="none"/>
<circle cx="470.24" cy="396.60" r="2.25" fill="none" stroke="#00e41c" stroke-width="1.5"/>
<path d="M471.34 396.60L474.94 396.60M473.14 394.80L473.14 398.40M471.84 395.30L474.44 397.89M471.84 397.89L474.44 395.30" stroke="#ff1a1a" stroke-width="0.9" fill="none"/>
<path d="M479.80 394.97L482.80 397.97M479.80 397.97L482.80 394.97" stroke="#3344ee" stroke-width="0.6" fill="none"/>
<circle cx="482.70" cy="396.47" r="2.25" fill="none" stroke="#00e41c" stroke-width="1.5"/>
<path d="M483.80 396.47L487.40 396.47M485.60 394.67L485.60 398.27M484.30 395.17L486.90 397.77M484.30 397.77L486.90 395.17" stroke="#ff1a1a" stroke-width="0.9" fill="none"/>
<path d="M355.52 406.94L358.52 409.94M355.52 409.94L358.52 406.94" stroke="#3344ee" stroke-width="0.6" fill="none"/>
<circle cx="358.42" cy="408.44" r="2.25" fill="none" stroke="#00e41c" stroke-width="1.5"/>
<path d="M359.52 408.44L363.12 408.44M361.32 406.64L361.32 410.24M360.02 407.14L362.62 409.74M360.02 409.74L362.62 407.14" stroke="#ff1a1a" stroke-width="0.9" fill="none"/>
<path d="M367.98 406.81L370.98 409.81M367.98 409.81L370.98 406.81" stroke="#3344ee" stroke-width="0.6" fill="none"/>
<circle cx="370.88" cy="408.31" r="2.25" fill="none" stroke="#00e41c" stroke-width="1.5"/>
<path d="M371.98 408.31L375.58 408.31M373.78 406.51L373.78 410.11M372.48 407.02L375.07 409.61M372.48 409.61L375.07 407.02" stroke="#ff1a1a" stroke-width="0.9" fill="none"/>
<path d="M380.44 406.68L383.44 409.68M380.44 409.68L383.44 406.68" stroke="#3344ee" stroke-width="0.6" fill="none"/>
<circle cx="383.34" cy="408.18" r="2.25" fill="none" stroke="#00e41c" stroke-width="1.5"/>
<path d="M384.44 408.18L388.04 408.18M386.24 406.38L386.24 409.98M384.94 406.89L387.53 409.48M384.94 409.48L387.53 406.89" stroke="#ff1a1a" stroke-width="0.9" fill="none"/>
<path d="M392.89 406.56L395.89 409.56M392.89 409.56L395.89 406.56" stroke="#3344ee" stroke-width="0.6" fill="none"/>
<circle cx="395.79" cy="408.06" r="2.25" fill="none" stroke="#00e41c" stroke-width="1.5"/>
<path d="M396.89 408.06L400.49 408.06M398.69 406.26L398.69 409.86M397.40 406.76L399.99 409.35M397.40 409.35L399.99 406.76" stroke="#ff1a1a" stroke-width="0.9" fill="none"/>
<path d="M405.35 406.43L408.35 409.43M405.35 409.43L408.35 406.43" stroke="#3344ee" stroke-width="0.6" fill="none"/>
<circle cx="408.25" cy="407.93" r="2.25" fill="none" stroke="#00e41c" stroke-width="1.5"/>
<path d="M409.35 407.93L412.95 407.93M411.15 406.13L411.15 409.73M409.86 406.63L412.45 409.22M409.86 409.22L412.45 406.63" stroke="#ff1a1a" stroke-width="0.9" fill="none"/>
<path d="M417.81 406.30L420.81 409.30M417.81 409.30L420.81 406.30" stroke="#3344ee" stroke-width="0.6" fill="none"/>
<circle cx="420.71" cy="407.80" r="2.25" fill="none" stroke="#00e41c" stroke-width="1.5"/>
<path d="M421.81 407.80L425.41 407.80M423.61 406.00L423.61 409.60M422.31 406.50L424.91 409.10M422.31 409.10L424.91 406.50" stroke="#ff1a1a" stroke-width="0.9" fill="none"/>
<path d="M430.27 406.17L433.27 409.17M430.27 409.17L433.27 406.17" stroke="#3344ee" stroke-width="0.6" fill="none"/>
<circle cx="433.17" cy="407.67" r="2.25" fill="none" stroke="#00e41c" stroke-width="1.5"/>
<path d="M434.27 407.67L437.87 407.67M436.07 405.87L436.07 409.47M434.77 406.38L437.36 408.97M434.77 408.97L437.36 406.38" stroke="#ff1a1a" stroke-width="0.9" fill="none"/>
<path d="M442.73 406.04L445.73 409.04M442.73 409.04L445.73 406.04" stroke="#3344ee" stroke-width="0.6" fill="none"/>
<circle cx="445.63" cy="407.54" r="2.25" fill="none" stroke="#00e41c" stroke-width="1.5"/>
<path d="M446.73 407.54L450.33 407.54M448.53 405.74L448.53 409.34M447.23 406.25L449.82 408.84M447.23 408.84L449.82 406.25" stroke="#ff1a1a" stroke-width="0.9" fill="none"/>
<path d="M455.18 405.92L458.18 408.92M455.18 408.92L458.18 405.92" stroke="#3344ee" stroke-width="0.6" fill="none"/>
<circle cx="458.08" cy="407.42" r="2.25" fill="none" stroke="#00e41c" stroke-width="1.5"/>
<path d="M459.18 407.42L462.78 407.42M460.98 405.62L460.98 409.22M459.69 406.12L462.28 408.71M459.69 408.71L462.28 406.12" stroke="#ff1a1a" stroke-width="0.9" fill="none"/>
<path d="M467.64 405.79L470.64 408.79M467.64 408.79L470.64 405.79" stroke="#3344ee" stroke-width="0.6" fill="none"/>
<circle cx="470.54" cy="407.29" r="2.25" fill="none" stroke="#00e41c" stroke-width="1.5"/>
<path d="M471.64 407.29L475.24 407.29M473.44 405.49L473.44 409.09M472.15 405.99L474.74 408.58M472.15 408.58L474.74 405.99" stroke="#ff1a1a" stroke-width="0.9" fill="none"/>
<path d="M480.10 405.66L483.10 408.66M480.10 408.66L483.10 405.66" stroke="#3344ee" stroke-width="0.6" fill="none"/>
<circle cx="483.00" cy="407.16" r="2.25" fill="none" stroke="#00e41c" stroke-width="1.5"/>
<path d="M484.10 407.16L487.70 407.16M485.90 405.36L485.90 408.96M484.60 405.86L487.20 408.46M484.60 408.46L487.20 405.86" stroke="#ff1a1a" stroke-width="0.9" fill="none"/>
<path d="M355.85 417.65L358.85 420.65M355.85 420.65L358.85 417.65" stroke="#3344ee" stroke-width="0.6" fill="none"/>
<circle cx="358.75" cy="419.15" r="2.25" fill="none" stroke="#00e41c" stroke-width="1.5"/>
<path d="M359.85 419.15L363.45 419.15M361.65 417.35L361.65 420.95M360.35 417.85L362.95 420.45M360.35 420.45L362.95 417.85" stroke="#ff1a1a" stroke-width="0.9" fill="none"/>
<path d="M368.31 417.52L371.31 420.52M368.31 420.52L371.31 417.52" stroke="#3344ee" stroke-width="0.6" fill="none"/>
<circle cx="371.21" cy="419.02" r="2.25" fill="none" stroke="#00e41c" stroke-width="1.5"/>
<path d="M372.31 419.02L375.91 419.02M374.11 417.22L374.11 420.82M372.81 417.72L375.40 420.32M372.81 420.32L375.40 417.72" stroke="#ff1a1a" stroke-width="0.9" fill="none"/>
<path d="M380.76 417.39L383.76 420.39M380.76 420.39L383.76 417.39" stroke="#3344ee" stroke-width="0.6" fill="none"/>
<circle cx="383.66" cy="418.89" r="2.25" fill="none" stroke="#00e41c" stroke-width="1.5"/>
<path d="M384.76 418.89L388.36 418.89M386.56 417.09L386.56 420.69M385.26 417.59L387.86 420.19M385.26 420.19L387.86 417.59" stroke="#ff1a1a" stroke-width="0.9" fill="none"/>
<path d="M393.22 417.26L396.22 420.26M393.22 420.26L396.22 417.26" stroke="#3344ee" stroke-width="0.6" fill="none"/>
<circle cx="396.12" cy="418.76" r="2.25" fill="none" stroke="#00e41c" stroke-width="1.5"/>
<path d="M397.21 418.76L400.81 418.76M399.01 416.96L399.01 420.56M397.72 417.46L400.31 420.06M397.72 420.06L400.31 417.46" stroke="#ff1a1a" stroke-width="0.9" fill="none"/>
<path d="M405.67 417.13L408.67 420.13M405.67 420.13L408.67 417.13" stroke="#3344ee" stroke-width="0.6" fill="none"/>
<circle cx="408.57" cy="418.63" r="2.25" fill="none" stroke="#00e41c" stroke-width="1.5"/>
<path d="M409.67 418.63L413.27 418.63M411.47 416.83L411.47 420.43M410.17 417.33L412.77 419.93M410.17 419.93L412.77 417.33" stroke="#ff1a1a" stroke-width="0.9" fill="none"/>
<path d="M418.13 417.00L421.13 420.00M418.13 420.00L421.13 417.00" stroke="#3344ee" stroke-width="0.6" fill="none"/>
<circle cx="421.03" cy="418.50" r="2.25" fill="none" stroke="#00e41c" stroke-width="1.5"/>
<path d="M422.12 418.50L425.73 418.50M423.93 416.70L423.93 420.30M422.63 417.20L425.22 419.80M422.63 419.80L425.22 417.20" stroke="#ff1a1a" stroke-width="0.9" fill="none"/>
<path d="M430.58 416.87L433.58 419.87M430.58 419.87L433.58 416.87" stroke="#3344ee" stroke-width="0.6" fill="none"/>
<circle cx="433.48" cy="418.37" r="2.25" fill="none" stroke="#00e41c" stroke-width="1.5"/>
<path d="M434.58 418.37L438.18 418.37M436.38 416.57L436.38 420.17M435.08 417.07L437.68 419.67M435.08 419.67L437.68 417.07" stroke="#ff1a1a" stroke-width="0.9" fill="none"/>
<path d="M443.04 416.74L446.04 419.74M443.04 419.74L446.04 416.74" stroke="#3344ee" stroke-width="0.6" fill="none"/>
<circle cx="445.94" cy="418.24" r="2.25" fill="none" stroke="#00e41c" stroke-width="1.5"/>
<path d="M447.03 418.24L450.63 418.24M448.83 416.44L448.83 420.04M447.54 416.94L450.13 419.54M447.54 419.54L450.13 416.94" stroke="#ff1a1a" stroke-width="0.9" fill="none"/>
<path d="M455.49 416.61L458.49 419.61M455.49 419.61L458.49 416.61" stroke="#3344ee" stroke-width="0.6" fill="none"/>
<circle cx="458.39" cy="418.11" r="2.25" fill="none" stroke="#00e41c" stroke-width="1.5"/>
<path d="M459.49 418.11L463.09 418.11M461.29 416.31L461.29 419.91M459.99 416.81L462.59 419.41M459.99 419.41L462.59 416.81" stroke="#ff1a1a" stroke-width="0.9" fill="none"/>
<path d="M467.95 416.48L470.95 419.48M467.95 419.48L470.95 416.48" stroke="#3344ee" stroke-width="0.6" fill="none"/>
<circle cx="470.85" cy="417.98" r="2.25" fill="none" stroke="#00e41c" stroke-width="1.5"/>
<path d="M471.94 417.98L475.55 417.98M473.75 416.18L473.75 419.78M472.45 416.68L475.04 419.28M472.45 419.28L475.04 416.68" stroke="#ff1a1a" stroke-width="0.9" fill="none"/>
<path d="M480.40 416.35L483.40 419.35M480.40 419.35L483.40 416.35" stroke="#3344ee" stroke-width="0.6" fill="none"/>
<circle cx="483.30" cy="417.85" r="2.25" fill="none" stroke="#00e41c" stroke-width="1.5"/>
<path d="M484.40 417.85L488.00 417.85M486.20 416.05L486.20 419.65M484.90 416.55L487.50 419.15M484.90 419.15L487.50 416.55" stroke="#ff1a1a" stroke-width="0.9" fill="none"/>
<path d="M356.18 428.36L359.18 431.36M356.18 431.36L359.18 428.36" stroke="#3344ee" stroke-width="0.6" fill="none"/>
<circle cx="359.08" cy="429.86" r="2.25" fill="none" stroke="#00e41c" stroke-width="1.5"/>
<path d="M360.18 429.86L363.78 429.86M361.98 428.06L361.98 431.66M360.68 428.56L363.28 431.16M360.68 431.16L363.28 428.56" stroke="#ff1a1a" stroke-width="0.9" fill="none"/>
<path d="M368.63 428.23L371.63 431.23M368.63 431.23L371.63 428.23" stroke="#3344ee" stroke-width="0.6" fill="none"/>
<circle cx="371.53" cy="429.73" r="2.25" fill="none" stroke="#00e41c" stroke-width="1.5"/>
<path d="M372.63 429.73L376.23 429.73M374.43 427.93L374.43 431.53M373.14 428.43L375.73 431.02M373.14 431.02L375.73 428.43" stroke="#ff1a1a" stroke-width="0.9" fill="none"/>
<path d="M381.08 428.10L384.08 431.10M381.08 431.10L384.08 428.10" stroke="#3344ee" stroke-width="0.6" fill="none"/>
<circle cx="383.98" cy="429.60" r="2.25" fill="none" stroke="#00e41c" stroke-width="1.5"/>
<path d="M385.08 429.60L388.68 429.60M386.88 427.80L386.88 431.40M385.59 428.30L388.18 430.89M385.59 430.89L388.18 428.30" stroke="#ff1a1a" stroke-width="0.9" fill="none"/>
<path d="M393.54 427.96L396.54 430.96M393.54 430.96L396.54 427.96" stroke="#3344ee" stroke-width="0.6" fill="none"/>
<circle cx="396.44" cy="429.46" r="2.25" fill="none" stroke="#00e41c" stroke-width="1.5"/>
<path d="M397.54 429.46L401.14 429.46M399.34 427.66L399.34 431.26M398.04 428.17L400.63 430.76M398.04 430.76L400.63 428.17" stroke="#ff1a1a" stroke-width="0.9" fill="none"/>
<path d="M405.99 427.83L408.99 430.83M405.99 430.83L408.99 427.83" stroke="#3344ee" stroke-width="0.6" fill="none"/>
<circle cx="408.89" cy="429.33" r="2.25" fill="none" stroke="#00e41c" stroke-width="1.5"/>
<path d="M409.99 429.33L413.59 429.33M411.79 427.53L411.79 431.13M410.49 428.04L413.08 430.63M410.49 430.63L413.08 428.04" stroke="#ff1a1a" stroke-width="0.9" fill="none"/>
<path d="M418.44 427.70L421.44 430.70M418.44 430.70L421.44 427.70" stroke="#3344ee" stroke-width="0.6" fill="none"/>
<circle cx="421.34" cy="429.20" r="2.25" fill="none" stroke="#00e41c" stroke-width="1.5"/>
<path d="M422.44 429.20L426.04 429.20M424.24 427.40L424.24 431.00M422.94 427.90L425.54 430.50M422.94 430.50L425.54 427.90" stroke="#ff1a1a" stroke-width="0.9" fill="none"/>
<path d="M430.89 427.57L433.89 430.57M430.89 430.57L433.89 427.57" stroke="#3344ee" stroke-width="0.6" fill="none"/>
<circle cx="433.79" cy="429.07" r="2.25" fill="none" stroke="#00e41c" stroke-width="1.5"/>
<path d="M434.89 429.07L438.49 429.07M436.69 427.27L436.69 430.87M435.40 427.77L437.99 430.36M435.40 430.36L437.99 427.77" stroke="#ff1a1a" stroke-width="0.9" fill="none"/>
<path d="M443.34 427.44L446.34 430.44M443.34 430.44L446.34 427.44" stroke="#3344ee" stroke-width="0.6" fill="none"/>
<circle cx="446.24" cy="428.94" r="2.25" fill="none" stroke="#00e41c" stroke-width="1.5"/>
<path d="M447.34 428.94L450.94 428.94M449.14 427.14L449.14 430.74M447.85 427.64L450.44 430.23M447.85 430.23L450.44 427.64" stroke="#ff1a1a" stroke-width="0.9" fill="none"/>
<path d="M455.80 427.30L458.80 430.30M455.80 430.30L458.80 427.30" stroke="#3344ee" stroke-width="0.6" fill="none"/>
<circle cx="458.70" cy="428.80" r="2.25" fill="none" stroke="#00e41c" stroke-width="1.5"/>
<path d="M459.80 428.80L463.40 428.80M461.60 427.00L461.60 430.60M460.30 427.51L462.89 430.10M460.30 430.10L462.89 427.51" stroke="#ff1a1a" stroke-width="0.9" fill="none"/>
<path d="M468.25 427.17L471.25 430.17M468.25 430.17L471.25 427.17" stroke="#3344ee" stroke-width="0.6" fill="none"/>
<circle cx="471.15" cy="428.67" r="2.25" fill="none" stroke="#00e41c" stroke-width="1.5"/>
<path d="M472.25 428.67L475.85 428.67M474.05 426.87L474.05 430.47M472.75 427.38L475.34 429.97M472.75 429.97L475.34 427.38" stroke="#ff1a1a" stroke-width="0.9" fill="none"/>
<path d="M480.70 427.04L483.70 430.04M480.70 430.04L483.70 427.04" stroke="#3344ee" stroke-width="0.6" fill="none"/>
<circle cx="483.60" cy="428.54" r="2.25" fill="none" stroke="#00e41c" stroke-width="1.5"/>
<path d="M484.70 428.54L488.30 428.54M486.50 426.74L486.50 430.34M485.20 427.24L487.80 429.84M485.20 429.84L487.80 427.24" stroke="#ff1a1a" stroke-width="0.9" fill="none"/>
<path d="M356.51 439.07L359.51 442.07M356.51 442.07L359.51 439.07" stroke="#3344ee" stroke-width="0.6" fill="none"/>
<circle cx="359.41" cy="440.57" r="2.25" fill="none" stroke="#00e41c" stroke-width="1.5"/>
<path d="M360.51 440.57L364.11 440.57M362.31 438.77L362.31 442.37M361.01 439.27L363.61 441.87M361.01 441.87L363.61 439.27" stroke="#ff1a1a" stroke-width="0.9" fill="none"/>
<path d="M368.96 438.94L371.96 441.94M368.96 441.94L371.96 438.94" stroke="#3344ee" stroke-width="0.6" fill="none"/>
<circle cx="371.86" cy="440.44" r="2.25" fill="none" stroke="#00e41c" stroke-width="1.5"/>
<path d="M372.96 440.44L376.56 440.44M374.76 438.64L374.76 442.24M373.46 439.14L376.05 441.73M373.46 441.73L376.05 439.14" stroke="#ff1a1a" stroke-width="0.9" fill="none"/>
<path d="M381.41 438.80L384.41 441.80M381.41 441.80L384.41 438.80" stroke="#3344ee" stroke-width="0.6" fill="none"/>
<circle cx="384.31" cy="440.30" r="2.25" fill="none" stroke="#00e41c" stroke-width="1.5"/>
<path d="M385.41 440.30L389.01 440.30M387.21 438.50L387.21 442.10M385.91 439.01L388.50 441.60M385.91 441.60L388.50 439.01" stroke="#ff1a1a" stroke-width="0.9" fill="none"/>
<path d="M393.86 438.67L396.86 441.67M393.86 441.67L396.86 438.67" stroke="#3344ee" stroke-width="0.6" fill="none"/>
<circle cx="396.76" cy="440.17" r="2.25" fill="none" stroke="#00e41c" stroke-width="1.5"/>
<path d="M397.86 440.17L401.46 440.17M399.66 438.37L399.66 441.97M398.36 438.87L400.95 441.46M398.36 441.46L400.95 438.87" stroke="#ff1a1a" stroke-width="0.9" fill="none"/>
<path d="M406.31 438.53L409.31 441.53M406.31 441.53L409.31 438.53" stroke="#3344ee" stroke-width="0.6" fill="none"/>
<circle cx="409.21" cy="440.03" r="2.25" fill="none" stroke="#00e41c" stroke-width="1.5"/>
<path d="M410.31 440.03L413.91 440.03M412.11 438.23L412.11 441.83M410.81 438.74L413.40 441.33M410.81 441.33L413.40 438.74" stroke="#ff1a1a" stroke-width="0.9" fill="none"/>
<path d="M418.76 438.40L421.76 441.40M418.76 441.40L421.76 438.40" stroke="#3344ee" stroke-width="0.6" fill="none"/>
<circle cx="421.66" cy="439.90" r="2.25" fill="none" stroke="#00e41c" stroke-width="1.5"/>
<path d="M422.75 439.90L426.36 439.90M424.56 438.10L424.56 441.70M423.26 438.60L425.85 441.20M423.26 441.20L425.85 438.60" stroke="#ff1a1a" stroke-width="0.9" fill="none"/>
<path d="M431.20 438.27L434.20 441.27M431.20 441.27L434.20 438.27" stroke="#3344ee" stroke-width="0.6" fill="none"/>
<circle cx="434.10" cy="439.77" r="2.25" fill="none" stroke="#00e41c" stroke-width="1.5"/>
<path d="M435.20 439.77L438.80 439.77M437.00 437.97L437.00 441.57M435.71 438.47L438.30 441.06M435.71 441.06L438.30 438.47" stroke="#ff1a1a" stroke-width="0.9" fill="none"/>
<path d="M443.65 438.13L446.65 441.13M443.65 441.13L446.65 438.13" stroke="#3344ee" stroke-width="0.6" fill="none"/>
<circle cx="446.55" cy="439.63" r="2.25" fill="none" stroke="#00e41c" stroke-width="1.5"/>
<path d="M447.65 439.63L451.25 439.63M449.45 437.83L449.45 441.43M448.16 438.34L450.75 440.93M448.16 440.93L450.75 438.34" stroke="#ff1a1a" stroke-width="0.9" fill="none"/>
<path d="M456.10 438.00L459.10 441.00M456.10 441.00L459.10 438.00" stroke="#3344ee" stroke-width="0.6" fill="none"/>
<circle cx="459.00" cy="439.50" r="2.25" fill="none" stroke="#00e41c" stroke-width="1.5"/>
<path d="M460.10 439.50L463.70 439.50M461.90 437.70L461.90 441.30M460.61 438.20L463.20 440.79M460.61 440.79L463.20 438.20" stroke="#ff1a1a" stroke-width="0.9" fill="none"/>
<path d="M468.55 437.86L471.55 440.86M468.55 440.86L471.55 437.86" stroke="#3344ee" stroke-width="0.6" fill="none"/>
<circle cx="471.45" cy="439.36" r="2.25" fill="none" stroke="#00e41c" stroke-width="1.5"/>
<path d="M472.55 439.36L476.15 439.36M474.35 437.56L474.35 441.16M473.06 438.07L475.65 440.66M473.06 440.66L475.65 438.07" stroke="#ff1a1a" stroke-width="0.9" fill="none"/>
<path d="M481.00 437.73L484.00 440.73M481.00 440.73L484.00 437.73" stroke="#3344ee" stroke-width="0.6" fill="none"/>
<circle cx="483.90" cy="439.23" r="2.25" fill="none" stroke="#00e41c" stroke-width="1.5"/>
<path d="M485.00 439.23L488.60 439.23M486.80 437.43L486.80 441.03M485.50 437.93L488.10 440.53M485.50 440.53L488.10 437.93" stroke="#ff1a1a" stroke-width="0.9" fill="none"/>
<path d="M356.84 449.78L359.84 452.78M356.84 452.78L359.84 449.78" stroke="#3344ee" stroke-width="0.6" fill="none"/>
<circle cx="359.74" cy="451.28" r="2.25" fill="none" stroke="#00e41c" stroke-width="1.5"/>
<path d="M360.84 451.28L364.44 451.28M362.64 449.48L362.64 453.08M361.34 449.98L363.94 452.58M361.34 452.58L363.94 449.98" stroke="#ff1a1a" stroke-width="0.9" fill="none"/>
<path d="M369.29 449.64L372.29 452.64M369.29 452.64L372.29 449.64" stroke="#3344ee" stroke-width="0.6" fill="none"/>
<circle cx="372.19" cy="451.14" r="2.25" fill="none" stroke="#00e41c" stroke-width="1.5"/>
<path d="M373.29 451.14L376.89 451.14M375.09 449.34L375.09 452.94M373.79 449.85L376.38 452.44M373.79 452.44L376.38 449.85" stroke="#ff1a1a" stroke-width="0.9" fill="none"/>
<path d="M381.73 449.51L384.73 452.51M381.73 452.51L384.73 449.51" stroke="#3344ee" stroke-width="0.6" fill="none"/>
<circle cx="384.63" cy="451.01" r="2.25" fill="none" stroke="#00e41c" stroke-width="1.5"/>
<path d="M385.73 451.01L389.33 451.01M387.53 449.21L387.53 452.81M386.24 449.71L388.83 452.30M386.24 452.30L388.83 449.71" stroke="#ff1a1a" stroke-width="0.9" fill="none"/>
<path d="M394.18 449.37L397.18 452.37M394.18 452.37L397.18 449.37" stroke="#3344ee" stroke-width="0.6" fill="none"/>
<circle cx="397.08" cy="450.87" r="2.25" fill="none" stroke="#00e41c" stroke-width="1.5"/>
<path d="M398.18 450.87L401.78 450.87M399.98 449.07L399.98 452.67M398.68 449.58L401.27 452.17M398.68 452.17L401.27 449.58" stroke="#ff1a1a" stroke-width="0.9" fill="none"/>
<path d="M406.62 449.24L409.62 452.24M406.62 452.24L409.62 449.24" stroke="#3344ee" stroke-width="0.6" fill="none"/>
<circle cx="409.52" cy="450.74" r="2.25" fill="none" stroke="#00e41c" stroke-width="1.5"/>
<path d="M410.62 450.74L414.22 450.74M412.42 448.94L412.42 452.54M411.13 449.44L413.72 452.03M411.13 452.03L413.72 449.44" stroke="#ff1a1a" stroke-width="0.9" fill="none"/>
<path d="M419.07 449.10L422.07 452.10M419.07 452.10L422.07 449.10" stroke="#3344ee" stroke-width="0.6" fill="none"/>
<circle cx="421.97" cy="450.60" r="2.25" fill="none" stroke="#00e41c" stroke-width="1.5"/>
<path d="M423.07 450.60L426.67 450.60M424.87 448.80L424.87 452.40M423.57 449.30L426.17 451.90M423.57 451.90L426.17 449.30" stroke="#ff1a1a" stroke-width="0.9" fill="none"/>
<path d="M431.52 448.96L434.52 451.96M431.52 451.96L434.52 448.96" stroke="#3344ee" stroke-width="0.6" fill="none"/>
<circle cx="434.42" cy="450.46" r="2.25" fill="none" stroke="#00e41c" stroke-width="1.5"/>
<path d="M435.52 450.46L439.12 450.46M437.32 448.66L437.32 452.26M436.02 449.17L438.61 451.76M436.02 451.76L438.61 449.17" stroke="#ff1a1a" stroke-width="0.9" fill="none"/>
<path d="M443.96 448.83L446.96 451.83M443.96 451.83L446.96 448.83" stroke="#3344ee" stroke-width="0.6" fill="none"/>
<circle cx="446.86" cy="450.33" r="2.25" fill="none" stroke="#00e41c" stroke-width="1.5"/>
<path d="M447.96 450.33L451.56 450.33M449.76 448.53L449.76 452.13M448.47 449.03L451.06 451.62M448.47 451.62L451.06 449.03" stroke="#ff1a1a" stroke-width="0.9" fill="none"/>
<path d="M456.41 448.69L459.41 451.69M456.41 451.69L459.41 448.69" stroke="#3344ee" stroke-width="0.6" fill="none"/>
<circle cx="459.31" cy="450.19" r="2.25" fill="none" stroke="#00e41c" stroke-width="1.5"/>
<path d="M460.41 450.19L464.01 450.19M462.21 448.39L462.21 451.99M460.91 448.90L463.50 451.49M460.91 451.49L463.50 448.90" stroke="#ff1a1a" stroke-width="0.9" fill="none"/>
<path d="M468.85 448.56L471.85 451.56M468.85 451.56L471.85 448.56" stroke="#3344ee" stroke-width="0.6" fill="none"/>
<circle cx="471.75" cy="450.06" r="2.25" fill="none" stroke="#00e41c" stroke-width="1.5"/>
<path d="M472.85 450.06L476.45 450.06M474.65 448.26L474.65 451.86M473.36 448.76L475.95 451.35M473.36 451.35L475.95 448.76" stroke="#ff1a1a" stroke-width="0.9" fill="none"/>
<path d="M481.30 448.42L484.30 451.42M481.30 451.42L484.30 448.42" stroke="#3344ee" stroke-width="0.6" fill="none"/>
<circle cx="484.20" cy="449.92" r="2.25" fill="none" stroke="#00e41c" stroke-width="1.5"/>
<path d="M485.30 449.92L488.90 449.92M487.10 448.12L487.10 451.72M485.80 448.62L488.40 451.22M485.80 451.22L488.40 448.62" stroke="#ff1a1a" stroke-width="0.9" fill="none"/>
<path d="M357.17 460.49L360.17 463.49M357.17 463.49L360.17 460.49" stroke="#3344ee" stroke-width="0.6" fill="none"/>
<circle cx="360.07" cy="461.99" r="2.25" fill="none" stroke="#00e41c" stroke-width="1.5"/>
<path d="M361.17 461.99L364.77 461.99M362.97 460.19L362.97 463.79M361.67 460.69L364.27 463.29M361.67 463.29L364.27 460.69" stroke="#ff1a1a" stroke-width="0.9" fill="none"/>
<path d="M369.61 460.35L372.61 463.35M369.61 463.35L372.61 460.35" stroke="#3344ee" stroke-width="0.6" fill="none"/>
<circle cx="372.51" cy="461.85" r="2.25" fill="none" stroke="#00e41c" stroke-width="1.5"/>
<path d="M373.61 461.85L377.21 461.85M375.41 460.05L375.41 463.65M374.12 460.56L376.71 463.15M374.12 463.15L376.71 460.56" stroke="#ff1a1a" stroke-width="0.9" fill="none"/>
<path d="M382.06 460.21L385.06 463.21M382.06 463.21L385.06 460.21" stroke="#3344ee" stroke-width="0.6" fill="none"/>
<circle cx="384.96" cy="461.71" r="2.25" fill="none" stroke="#00e41c" stroke-width="1.5"/>
<path d="M386.06 461.71L389.66 461.71M387.86 459.91L387.86 463.51M386.56 460.42L389.15 463.01M386.56 463.01L389.15 460.42" stroke="#ff1a1a" stroke-width="0.9" fill="none"/>
<path d="M394.50 460.08L397.50 463.08M394.50 463.08L397.50 460.08" stroke="#3344ee" stroke-width="0.6" fill="none"/>
<circle cx="397.40" cy="461.58" r="2.25" fill="none" stroke="#00e41c" stroke-width="1.5"/>
<path d="M398.50 461.58L402.10 461.58M400.30 459.78L400.30 463.38M399.00 460.28L401.59 462.87M399.00 462.87L401.59 460.28" stroke="#ff1a1a" stroke-width="0.9" fill="none"/>
<path d="M406.94 459.94L409.94 462.94M406.94 462.94L409.94 459.94" stroke="#3344ee" stroke-width="0.6" fill="none"/>
<circle cx="409.84" cy="461.44" r="2.25" fill="none" stroke="#00e41c" stroke-width="1.5"/>
<path d="M410.94 461.44L414.54 461.44M412.74 459.64L412.74 463.24M411.45 460.14L414.04 462.73M411.45 462.73L414.04 460.14" stroke="#ff1a1a" stroke-width="0.9" fill="none"/>
<path d="M419.38 459.80L422.38 462.80M419.38 462.80L422.38 459.80" stroke="#3344ee" stroke-width="0.6" fill="none"/>
<circle cx="422.28" cy="461.30" r="2.25" fill="none" stroke="#00e41c" stroke-width="1.5"/>
<path d="M423.38 461.30L426.98 461.30M425.18 459.50L425.18 463.10M423.89 460.00L426.48 462.60M423.89 462.60L426.48 460.00" stroke="#ff1a1a" stroke-width="0.9" fill="none"/>
<path d="M431.83 459.66L434.83 462.66M431.83 462.66L434.83 459.66" stroke="#3344ee" stroke-width="0.6" fill="none"/>
<circle cx="434.73" cy="461.16" r="2.25" fill="none" stroke="#00e41c" stroke-width="1.5"/>
<path d="M435.83 461.16L439.43 461.16M437.63 459.36L437.63 462.96M436.33 459.87L438.92 462.46M436.33 462.46L438.92 459.87" stroke="#ff1a1a" stroke-width="0.9" fill="none"/>
<path d="M444.27 459.52L447.27 462.52M444.27 462.52L447.27 459.52" stroke="#3344ee" stroke-width="0.6" fill="none"/>
<circle cx="447.17" cy="461.02" r="2.25" fill="none" stroke="#00e41c" stroke-width="1.5"/>
<path d="M448.27 461.02L451.87 461.02M450.07 459.22L450.07 462.82M448.78 459.73L451.37 462.32M448.78 462.32L451.37 459.73" stroke="#ff1a1a" stroke-width="0.9" fill="none"/>
<path d="M456.71 459.39L459.71 462.39M456.71 462.39L459.71 459.39" stroke="#3344ee" stroke-width="0.6" fill="none"/>
<circle cx="459.61" cy="460.89" r="2.25" fill="none" stroke="#00e41c" stroke-width="1.5"/>
<path d="M460.71 460.89L464.31 460.89M462.51 459.09L462.51 462.69M461.22 459.59L463.81 462.18M461.22 462.18L463.81 459.59" stroke="#ff1a1a" stroke-width="0.9" fill="none"/>
<path d="M469.16 459.25L472.16 462.25M469.16 462.25L472.16 459.25" stroke="#3344ee" stroke-width="0.6" fill="none"/>
<circle cx="472.06" cy="460.75" r="2.25" fill="none" stroke="#00e41c" stroke-width="1.5"/>
<path d="M473.16 460.75L476.76 460.75M474.96 458.95L474.96 462.55M473.66 459.45L476.25 462.04M473.66 462.04L476.25 459.45" stroke="#ff1a1a" stroke-width="0.9" fill="none"/>
<path d="M481.60 459.11L484.60 462.11M481.60 462.11L484.60 459.11" stroke="#3344ee" stroke-width="0.6" fill="none"/>
<circle cx="484.50" cy="460.61" r="2.25" fill="none" stroke="#00e41c" stroke-width="1.5"/>
<path d="M485.60 460.61L489.20 460.61M487.40 458.81L487.40 462.41M486.10 459.31L488.70 461.91M486.10 461.91L488.70 459.31" stroke="#ff1a1a" stroke-width="0.9" fill="none"/>
<path d="M357.50 471.20L360.50 474.20M357.50 474.20L360.50 471.20" stroke="#3344ee" stroke-width="0.6" fill="none"/>
<circle cx="360.40" cy="472.70" r="2.25" fill="none" stroke="#00e41c" stroke-width="1.5"/>
<path d="M361.50 472.70L365.10 472.70M363.30 470.90L363.30 474.50M362.00 471.40L364.60 474.00M362.00 474.00L364.60 471.40" stroke="#ff1a1a" stroke-width="0.9" fill="none"/>
<path d="M369.94 471.06L372.94 474.06M369.94 474.06L372.94 471.06" stroke="#3344ee" stroke-width="0.6" fill="none"/>
<circle cx="372.84" cy="472.56" r="2.25" fill="none" stroke="#00e41c" stroke-width="1.5"/>
<path d="M373.94 472.56L377.54 472.56M375.74 470.76L375.74 474.36M374.44 471.26L377.04 473.86M374.44 473.86L377.04 471.26" stroke="#ff1a1a" stroke-width="0.9" fill="none"/>
<path d="M382.38 470.92L385.38 473.92M382.38 473.92L385.38 470.92" stroke="#3344ee" stroke-width="0.6" fill="none"/>
<circle cx="385.28" cy="472.42" r="2.25" fill="none" stroke="#00e41c" stroke-width="1.5"/>
<path d="M386.38 472.42L389.98 472.42M388.18 470.62L388.18 474.22M386.88 471.12L389.48 473.72M386.88 473.72L389.48 471.12" stroke="#ff1a1a" stroke-width="0.9" fill="none"/>
<path d="M394.82 470.78L397.82 473.78M394.82 473.78L397.82 470.78" stroke="#3344ee" stroke-width="0.6" fill="none"/>
<circle cx="397.72" cy="472.28" r="2.25" fill="none" stroke="#00e41c" stroke-width="1.5"/>
<path d="M398.82 472.28L402.42 472.28M400.62 470.48L400.62 474.08M399.32 470.98L401.92 473.58M399.32 473.58L401.92 470.98" stroke="#ff1a1a" stroke-width="0.9" fill="none"/>
<path d="M407.26 470.64L410.26 473.64M407.26 473.64L410.26 470.64" stroke="#3344ee" stroke-width="0.6" fill="none"/>
<circle cx="410.16" cy="472.14" r="2.25" fill="none" stroke="#00e41c" stroke-width="1.5"/>
<path d="M411.26 472.14L414.86 472.14M413.06 470.34L413.06 473.94M411.76 470.84L414.36 473.44M411.76 473.44L414.36 470.84" stroke="#ff1a1a" stroke-width="0.9" fill="none"/>
<path d="M419.70 470.50L422.70 473.50M419.70 473.50L422.70 470.50" stroke="#3344ee" stroke-width="0.6" fill="none"/>
<circle cx="422.60" cy="472.00" r="2.25" fill="none" stroke="#00e41c" stroke-width="1.5"/>
<path d="M423.70 472.00L427.30 472.00M425.50 470.20L425.50 473.80M424.20 470.70L426.80 473.30M424.20 473.30L426.80 470.70" stroke="#ff1a1a" stroke-width="0.9" fill="none"/>
<path d="M432.14 470.36L435.14 473.36M432.14 473.36L435.14 470.36" stroke="#3344ee" stroke-width="0.6" fill="none"/>
<circle cx="435.04" cy="471.86" r="2.25" fill="none" stroke="#00e41c" stroke-width="1.5"/>
<path d="M436.14 471.86L439.74 471.86M437.94 470.06L437.94 473.66M436.64 470.56L439.24 473.16M436.64 473.16L439.24 470.56" stroke="#ff1a1a" stroke-width="0.9" fill="none"/>
<path d="M444.58 470.22L447.58 473.22M444.58 473.22L447.58 470.22" stroke="#3344ee" stroke-width="0.6" fill="none"/>
<circle cx="447.48" cy="471.72" r="2.25" fill="none" stroke="#00e41c" stroke-width="1.5"/>
<path d="M448.58 471.72L452.18 471.72M450.38 469.92L450.38 473.52M449.08 470.42L451.68 473.02M449.08 473.02L451.68 470.42" stroke="#ff1a1a" stroke-width="0.9" fill="none"/>
<path d="M457.02 470.08L460.02 473.08M457.02 473.08L460.02 470.08" stroke="#3344ee" stroke-width="0.6" fill="none"/>
<circle cx="459.92" cy="471.58" r="2.25" fill="none" stroke="#00e41c" stroke-width="1.5"/>
<path d="M461.02 471.58L464.62 471.58M462.82 469.78L462.82 473.38M461.52 470.28L464.12 472.88M461.52 472.88L464.12 470.28" stroke="#ff1a1a" stroke-width="0.9" fill="none"/>
<path d="M469.46 469.94L472.46 472.94M469.46 472.94L472.46 469.94" stroke="#3344ee" stroke-width="0.6" fill="none"/>
<circle cx="472.36" cy="471.44" r="2.25" fill="none" stroke="#00e41c" stroke-width="1.5"/>
<path d="M473.46 471.44L477.06 471.44M475.26 469.64L475.26 473.24M473.96 470.14L476.56 472.74M473.96 472.74L476.56 470.14" stroke="#ff1a1a" stroke-width="0.9" fill="none"/>
<path d="M481.90 469.80L484.90 472.80M481.90 472.80L484.90 469.80" stroke="#3344ee" stroke-width="0.6" fill="none"/>
<circle cx="484.80" cy="471.30" r="2.25" fill="none" stroke="#00e41c" stroke-width="1.5"/>
<path d="M485.90 471.30L489.50 471.30M487.70 469.50L487.70 473.10M486.40 470.00L489.00 472.60M486.40 472.60L489.00 470.00" stroke="#ff1a1a" stroke-width="0.9" fill="none"/>
</svg></body></html>
